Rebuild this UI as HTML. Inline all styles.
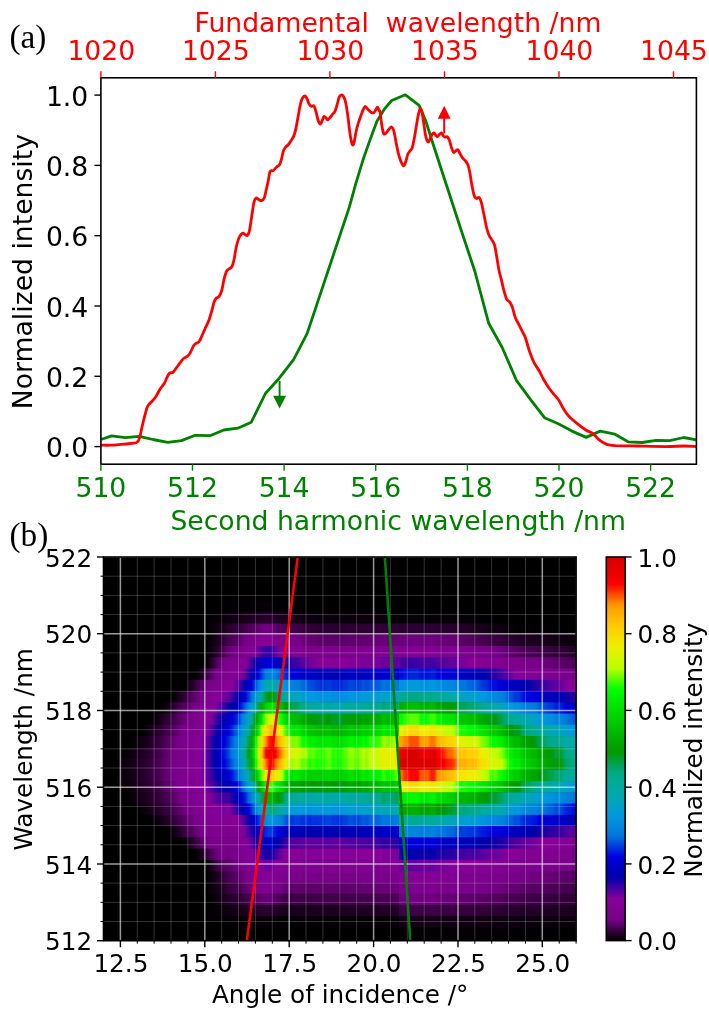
<!DOCTYPE html>
<html lang="en"><head><meta charset="utf-8"><title>Figure</title>
<style>html,body{margin:0;padding:0;background:#fff}body{width:709px;height:1010px;overflow:hidden}svg{display:block}</style>
</head><body>
<svg width="709" height="1010" viewBox="0 0 709 1010" font-family="'DejaVu Sans', 'Liberation Sans', sans-serif">
<rect x="0" y="0" width="709" height="1010" fill="#fff"/>
<defs><clipPath id="c1"><rect x="100.9" y="77.8" width="595.5" height="386.4"/></clipPath></defs>
<g clip-path="url(#c1)" fill="none" stroke-linejoin="round" stroke-linecap="butt">
<path d="M101.1 439.5 L111.6 435.9 L125.4 437.6 L139.1 436.4 L152.9 439.5 L167.7 442.3 L181.5 440.6 L195.2 435.3 L210.0 435.7 L223.8 430.0 L237.8 428.2 L251.3 422.2 L265.4 393.5 L279.2 378.2 L293.6 359.6 L307.2 333.4 L349.4 206.9 L355.8 183.7 L363.2 159.3 L369.5 141.4 L376.9 121.3 L384.3 109.2 L391.7 100.5 L405.4 94.8 L419.1 105.4 L425.5 120.2 L432.9 143.5 L461.2 230.2 L474.9 271.5 L488.7 323.3 L502.2 347.5 L516.4 380.3 L530.4 399.3 L544.5 417.7 L558.3 423.7 L572.0 431.1 L586.2 437.4 L600.2 431.1 L613.7 433.8 L614.6 434.0 L628.0 441.8 L642.1 442.5 L656.2 440.4 L669.6 440.6 L683.8 437.5 L696.4 439.9" stroke="#008000" stroke-width="2.8"/>
<path d="M101.1 445.2 C102.7 445.2 107.2 445.3 110.6 445.2 C113.9 445.1 117.7 444.7 121.2 444.4 C124.7 444.1 129.2 443.6 131.7 443.3 C134.2 443.0 134.9 443.1 136.0 442.7 C137.1 442.2 137.8 441.8 138.5 440.6 C139.2 439.4 139.6 437.8 140.2 435.3 C140.8 432.8 141.5 429.2 142.3 425.8 C143.1 422.4 144.1 418.2 144.9 415.2 C145.7 412.2 146.3 409.6 147.0 407.8 C147.7 406.0 148.3 405.2 149.1 404.2 C149.9 403.1 150.8 402.7 151.8 401.5 C152.9 400.3 154.0 399.3 155.4 397.2 C156.8 395.1 158.8 391.2 160.3 388.8 C161.8 386.4 163.4 384.8 164.5 383.0 C165.6 381.2 165.8 379.8 166.6 378.2 C167.4 376.6 168.3 374.3 169.4 373.3 C170.5 372.3 171.9 373.2 173.0 372.3 C174.1 371.4 175.0 369.8 176.2 368.2 C177.4 366.6 178.8 364.5 180.0 362.9 C181.2 361.3 182.4 359.6 183.6 358.5 C184.8 357.4 186.1 357.2 187.2 356.4 C188.2 355.5 188.8 355.3 189.9 353.4 C191.1 351.5 192.7 346.9 194.1 345.0 C195.5 343.1 197.3 343.2 198.4 342.2 C199.5 341.2 199.4 341.1 200.5 339.0 C201.6 336.9 203.3 332.7 204.7 329.5 C206.1 326.3 207.8 323.1 209.0 320.0 C210.2 316.9 210.9 314.1 211.7 311.2 C212.5 308.3 213.2 304.8 213.9 302.7 C214.6 300.6 215.1 299.6 216.0 298.5 C216.9 297.4 218.1 297.8 219.1 296.4 C220.1 295.0 221.1 292.8 221.9 290.0 C222.7 287.2 223.2 282.5 224.0 279.4 C224.8 276.3 225.7 273.1 226.5 271.4 C227.3 269.6 228.2 269.7 229.1 268.9 C230.0 268.1 231.0 268.1 231.8 266.7 C232.6 265.3 233.2 263.6 233.9 260.4 C234.6 257.2 235.3 251.4 236.1 247.7 C236.9 244.0 237.8 240.6 238.8 238.2 C239.9 235.8 241.3 233.9 242.4 233.3 C243.5 232.7 244.4 234.2 245.2 234.6 C246.0 234.9 246.6 236.0 247.3 235.4 C248.0 234.8 248.7 233.7 249.4 230.8 C250.1 227.9 250.7 222.9 251.5 218.1 C252.3 213.3 253.2 205.5 254.0 202.2 C254.8 198.8 255.4 198.4 256.2 198.0 C257.0 197.6 257.8 199.1 258.7 199.5 C259.6 199.9 260.6 200.9 261.5 200.7 C262.4 200.4 263.4 199.9 264.2 198.0 C265.0 196.1 265.6 192.5 266.3 189.5 C267.0 186.5 267.8 183.0 268.4 180.0 C269.0 177.0 269.3 173.0 270.1 171.4 C270.9 169.8 272.2 171.3 273.3 170.6 C274.4 169.9 275.3 168.2 276.4 167.2 C277.4 166.2 278.7 166.1 279.6 164.6 C280.5 163.1 281.1 160.6 281.7 158.3 C282.3 156.0 282.8 152.7 283.4 150.9 C284.0 149.1 284.6 148.4 285.5 147.3 C286.4 146.2 287.5 145.7 288.5 144.5 C289.5 143.3 290.4 141.8 291.3 140.3 C292.2 138.8 293.2 137.5 294.0 135.4 C294.8 133.3 295.4 130.8 296.1 127.6 C296.8 124.4 297.5 119.9 298.2 116.0 C298.9 112.1 299.7 107.3 300.4 104.3 C301.1 101.3 301.7 99.4 302.5 98.0 C303.3 96.6 304.2 95.7 305.0 95.9 C305.8 96.1 306.4 97.6 307.1 99.0 C307.8 100.4 308.5 103.1 309.2 104.3 C309.9 105.5 310.6 106.2 311.4 106.4 C312.2 106.7 313.1 104.9 313.9 105.8 C314.7 106.7 315.3 109.3 316.0 111.7 C316.7 114.1 317.4 118.2 318.1 120.2 C318.8 122.2 319.5 124.0 320.2 124.0 C320.9 124.0 321.8 121.5 322.4 120.2 C323.0 118.9 323.4 116.8 324.0 116.4 C324.6 116.1 325.6 117.5 326.2 118.1 C326.8 118.7 327.3 119.9 327.9 119.8 C328.5 119.7 329.2 118.6 330.0 117.7 C330.8 116.8 331.7 115.4 332.5 114.3 C333.3 113.2 334.2 113.0 335.0 111.3 C335.8 109.6 336.5 106.7 337.2 104.3 C337.9 101.9 338.6 98.5 339.3 96.9 C340.0 95.3 340.7 94.9 341.4 94.8 C342.1 94.7 342.8 95.3 343.5 96.5 C344.2 97.7 344.9 99.1 345.6 102.2 C346.3 105.3 347.0 109.8 347.7 114.9 C348.4 120.0 349.2 128.3 349.9 132.9 C350.5 137.5 351.1 140.4 351.6 142.4 C352.1 144.4 352.4 145.2 352.8 145.2 C353.2 145.2 353.6 144.4 354.1 142.4 C354.6 140.4 355.2 135.9 355.8 132.9 C356.4 129.9 357.1 127.1 357.9 124.4 C358.7 121.8 359.5 119.5 360.4 117.0 C361.3 114.5 362.4 111.4 363.2 109.6 C364.0 107.8 364.5 106.4 365.3 106.4 C366.1 106.4 367.2 108.6 368.1 109.6 C369.1 110.6 370.1 111.7 371.0 112.2 C371.9 112.7 373.0 113.2 373.8 112.8 C374.6 112.4 375.3 110.5 375.9 109.6 C376.5 108.6 377.1 106.9 377.6 107.1 C378.1 107.3 378.7 109.9 379.1 110.7 C379.5 111.5 379.6 109.4 380.0 111.7 C380.4 114.0 381.1 120.9 381.7 124.4 C382.3 127.9 382.8 131.3 383.4 132.9 C384.0 134.5 384.4 134.4 385.3 133.9 C386.2 133.4 387.4 130.8 388.5 129.7 C389.6 128.5 390.7 126.8 391.6 127.0 C392.5 127.2 393.1 128.4 393.8 130.8 C394.5 133.2 395.2 137.9 395.9 141.4 C396.6 144.9 397.3 148.9 398.0 151.9 C398.7 154.9 399.4 157.2 400.1 159.3 C400.8 161.4 401.6 163.1 402.2 164.2 C402.8 165.3 403.3 166.1 403.9 165.7 C404.5 165.2 405.1 163.4 405.8 161.5 C406.5 159.6 407.2 155.8 407.9 154.0 C408.6 152.2 409.3 152.0 410.0 150.9 C410.7 149.8 411.5 149.8 412.2 147.7 C412.9 145.6 413.6 141.9 414.3 138.2 C415.0 134.5 415.7 129.6 416.4 125.5 C417.1 121.5 417.9 116.7 418.5 113.9 C419.1 111.1 419.6 109.0 420.2 108.6 C420.8 108.2 421.3 109.4 421.9 111.7 C422.5 114.0 423.0 118.6 423.6 122.3 C424.2 126.0 424.7 130.9 425.3 133.9 C425.9 136.9 426.4 139.0 427.0 140.3 C427.6 141.6 428.1 142.2 428.7 141.8 C429.3 141.5 429.8 139.4 430.4 138.2 C430.9 137.0 431.4 135.5 432.0 134.6 C432.6 133.7 433.2 132.8 433.9 132.9 C434.5 133.0 435.3 134.8 435.9 135.4 C436.5 136.0 436.9 136.8 437.5 136.7 C438.1 136.6 438.6 135.2 439.2 134.6 C439.8 134.0 440.8 132.8 441.4 132.9 C442.0 133.0 442.4 134.7 443.0 135.4 C443.6 136.1 444.0 136.9 444.7 137.1 C445.4 137.3 446.5 136.2 447.3 136.7 C448.1 137.2 448.7 138.5 449.4 140.3 C450.1 142.1 450.8 145.7 451.5 147.7 C452.2 149.7 452.9 151.9 453.6 152.4 C454.3 152.9 455.0 151.3 455.7 150.9 C456.4 150.5 457.2 149.4 457.9 149.8 C458.6 150.2 459.2 152.2 460.0 153.6 C460.8 154.9 461.7 156.8 462.5 157.9 C463.3 159.0 464.1 159.3 465.0 160.4 C465.9 161.5 467.0 162.5 467.8 164.6 C468.6 166.7 469.2 169.6 469.9 173.1 C470.6 176.6 471.3 182.1 472.0 185.8 C472.7 189.5 473.4 193.2 474.1 195.3 C474.8 197.4 475.5 198.2 476.3 198.5 C477.1 198.8 478.2 196.9 479.0 197.4 C479.8 197.9 480.3 199.0 481.1 201.7 C481.9 204.3 482.9 209.6 483.7 213.3 C484.5 217.0 485.2 221.3 485.8 223.9 C486.4 226.5 486.4 227.2 487.0 229.1 C487.6 231.0 488.3 233.7 489.1 235.5 C489.9 237.3 490.9 238.0 491.8 239.7 C492.7 241.3 493.8 242.6 494.6 245.4 C495.4 248.2 496.0 252.6 496.7 256.6 C497.4 260.6 498.0 265.4 498.8 269.3 C499.6 273.2 500.5 276.4 501.4 279.9 C502.2 283.4 503.0 287.3 503.9 290.5 C504.8 293.7 505.6 297.1 506.6 299.0 C507.6 300.9 508.8 300.7 509.8 302.1 C510.8 303.5 511.5 304.9 512.4 307.4 C513.3 309.9 514.0 313.9 515.1 316.9 C516.2 319.9 517.9 322.6 519.3 325.4 C520.7 328.2 522.6 331.8 523.6 333.9 C524.6 336.0 524.5 335.0 525.5 338.0 C526.5 341.0 528.3 347.6 529.7 351.7 C531.1 355.8 532.3 359.1 533.9 362.3 C535.5 365.5 537.6 368.0 539.2 370.8 C540.8 373.6 541.9 376.4 543.5 379.2 C545.1 382.0 547.0 385.1 548.8 387.7 C550.5 390.2 552.4 392.4 554.0 394.5 C555.6 396.6 557.1 397.6 558.7 400.0 C560.3 402.4 561.9 406.2 563.6 408.9 C565.3 411.6 566.6 413.8 568.9 416.3 C571.2 418.8 574.5 421.4 577.3 423.7 C580.1 426.0 583.1 428.3 585.8 430.0 C588.4 431.7 590.9 432.1 593.2 433.8 C595.5 435.5 597.2 438.4 599.5 440.2 C601.8 442.0 604.2 443.5 606.9 444.4 C609.5 445.3 611.5 445.4 615.4 445.7 C619.2 445.9 626.4 445.8 630.0 445.9 C633.6 445.9 631.3 445.9 637.2 446.0 C643.1 446.1 657.6 446.6 665.4 446.6 C673.2 446.6 678.6 446.0 683.8 446.0 C689.0 446.0 694.3 446.5 696.4 446.6" stroke="#ff0000" stroke-width="2.8"/>
</g>
<g>
<path d="M444.2 133.4 L444.2 118" stroke="#ff0000" stroke-width="2.0" fill="none"/>
<path d="M437.8 118.8 L450.6 118.8 L444.2 105.8 Z" fill="#ff0000"/>
<path d="M279.6 380.8 L279.6 397" stroke="#008000" stroke-width="1.9" fill="none"/>
<path d="M273.1 395.8 L286.1 395.8 L279.6 408.5 Z" fill="#008000"/>
</g>
<rect x="100.9" y="77.8" width="595.5" height="386.4" fill="none" stroke="#000" stroke-width="1.6"/>
<line x1="100.9" y1="77.8" x2="100.9" y2="71.3" stroke="#ff0000" stroke-width="1.4"/>
<text x="101.3" y="59.7" font-size="26.67" fill="#ff0000" text-anchor="middle">1020</text>
<line x1="215.4" y1="77.8" x2="215.4" y2="71.3" stroke="#ff0000" stroke-width="1.4"/>
<text x="215.8" y="59.7" font-size="26.67" fill="#ff0000" text-anchor="middle">1025</text>
<line x1="329.9" y1="77.8" x2="329.9" y2="71.3" stroke="#ff0000" stroke-width="1.4"/>
<text x="330.3" y="59.7" font-size="26.67" fill="#ff0000" text-anchor="middle">1030</text>
<line x1="444.5" y1="77.8" x2="444.5" y2="71.3" stroke="#ff0000" stroke-width="1.4"/>
<text x="444.9" y="59.7" font-size="26.67" fill="#ff0000" text-anchor="middle">1035</text>
<line x1="559.0" y1="77.8" x2="559.0" y2="71.3" stroke="#ff0000" stroke-width="1.4"/>
<text x="559.4" y="59.7" font-size="26.67" fill="#ff0000" text-anchor="middle">1040</text>
<line x1="673.5" y1="77.8" x2="673.5" y2="71.3" stroke="#ff0000" stroke-width="1.4"/>
<text x="673.9" y="59.7" font-size="26.67" fill="#ff0000" text-anchor="middle">1045</text>
<line x1="100.9" y1="464.2" x2="100.9" y2="470.7" stroke="#008000" stroke-width="1.4"/>
<text x="100.9" y="496.6" font-size="26.67" fill="#008000" text-anchor="middle">510</text>
<line x1="192.5" y1="464.2" x2="192.5" y2="470.7" stroke="#008000" stroke-width="1.4"/>
<text x="192.5" y="496.6" font-size="26.67" fill="#008000" text-anchor="middle">512</text>
<line x1="284.1" y1="464.2" x2="284.1" y2="470.7" stroke="#008000" stroke-width="1.4"/>
<text x="284.1" y="496.6" font-size="26.67" fill="#008000" text-anchor="middle">514</text>
<line x1="375.7" y1="464.2" x2="375.7" y2="470.7" stroke="#008000" stroke-width="1.4"/>
<text x="375.7" y="496.6" font-size="26.67" fill="#008000" text-anchor="middle">516</text>
<line x1="467.4" y1="464.2" x2="467.4" y2="470.7" stroke="#008000" stroke-width="1.4"/>
<text x="467.4" y="496.6" font-size="26.67" fill="#008000" text-anchor="middle">518</text>
<line x1="559.0" y1="464.2" x2="559.0" y2="470.7" stroke="#008000" stroke-width="1.4"/>
<text x="559.0" y="496.6" font-size="26.67" fill="#008000" text-anchor="middle">520</text>
<line x1="650.6" y1="464.2" x2="650.6" y2="470.7" stroke="#008000" stroke-width="1.4"/>
<text x="650.6" y="496.6" font-size="26.67" fill="#008000" text-anchor="middle">522</text>
<line x1="100.9" y1="446.6" x2="94.4" y2="446.6" stroke="#000" stroke-width="1.4"/>
<text x="88.3" y="457.2" font-size="26.67" fill="#000" text-anchor="end">0.0</text>
<line x1="100.9" y1="376.3" x2="94.4" y2="376.3" stroke="#000" stroke-width="1.4"/>
<text x="88.3" y="386.9" font-size="26.67" fill="#000" text-anchor="end">0.2</text>
<line x1="100.9" y1="306.0" x2="94.4" y2="306.0" stroke="#000" stroke-width="1.4"/>
<text x="88.3" y="316.6" font-size="26.67" fill="#000" text-anchor="end">0.4</text>
<line x1="100.9" y1="235.7" x2="94.4" y2="235.7" stroke="#000" stroke-width="1.4"/>
<text x="88.3" y="246.3" font-size="26.67" fill="#000" text-anchor="end">0.6</text>
<line x1="100.9" y1="165.4" x2="94.4" y2="165.4" stroke="#000" stroke-width="1.4"/>
<text x="88.3" y="176.0" font-size="26.67" fill="#000" text-anchor="end">0.8</text>
<line x1="100.9" y1="95.1" x2="94.4" y2="95.1" stroke="#000" stroke-width="1.4"/>
<text x="88.3" y="105.7" font-size="26.67" fill="#000" text-anchor="end">1.0</text>
<text x="398" y="31.7" font-size="26.67" fill="#ff0000" text-anchor="middle" xml:space="preserve" style="white-space:pre">Fundamental  wavelength /nm</text>
<text x="398.2" y="529.6" font-size="26.67" fill="#008000" text-anchor="middle">Second harmonic wavelength /nm</text>
<text transform="translate(32.0,271.6) rotate(-90)" font-size="26.67" fill="#000" text-anchor="middle">Normalized intensity</text>
<text x="9.5" y="48.0" font-size="33.3" font-family="'Liberation Serif', 'DejaVu Serif', serif" fill="#000">(a)</text>
<text x="9.5" y="545.5" font-size="33.3" font-family="'Liberation Serif', 'DejaVu Serif', serif" fill="#000">(b)</text>
<defs>
<clipPath id="c2"><rect x="103.5" y="557.0" width="472.6" height="383.70000000000005"/></clipPath>
<linearGradient id="r4" gradientUnits="userSpaceOnUse" x1="103.5" x2="576.1" y1="0" y2="0"><stop offset="0.0000" stop-color="#000"/><stop offset="0.2286" stop-color="#000"/><stop offset="0.2357" stop-color="#000001"/><stop offset="0.2429" stop-color="#010001"/><stop offset="0.2571" stop-color="#010001"/><stop offset="0.2643" stop-color="#020002"/><stop offset="0.2857" stop-color="#020002"/><stop offset="0.2929" stop-color="#020003"/><stop offset="0.3000" stop-color="#030003"/><stop offset="0.3071" stop-color="#030003"/><stop offset="0.3143" stop-color="#030004"/><stop offset="0.3214" stop-color="#040004"/><stop offset="0.3286" stop-color="#040004"/><stop offset="0.3357" stop-color="#040005"/><stop offset="0.3571" stop-color="#040005"/><stop offset="0.3643" stop-color="#040004"/><stop offset="0.3714" stop-color="#030004"/><stop offset="0.3786" stop-color="#030003"/><stop offset="0.3857" stop-color="#030003"/><stop offset="0.3929" stop-color="#020003"/><stop offset="0.4000" stop-color="#020002"/><stop offset="0.4143" stop-color="#020002"/><stop offset="0.4214" stop-color="#010002"/><stop offset="0.4286" stop-color="#010001"/><stop offset="0.4429" stop-color="#010001"/><stop offset="0.4500" stop-color="#000"/><stop offset="1.0000" stop-color="#000"/></linearGradient>
<linearGradient id="r5" gradientUnits="userSpaceOnUse" x1="103.5" x2="576.1" y1="0" y2="0"><stop offset="0.0000" stop-color="#000"/><stop offset="0.2143" stop-color="#000"/><stop offset="0.2214" stop-color="#010001"/><stop offset="0.2286" stop-color="#020003"/><stop offset="0.2357" stop-color="#040004"/><stop offset="0.2429" stop-color="#060006"/><stop offset="0.2500" stop-color="#080009"/><stop offset="0.2571" stop-color="#0a000c"/><stop offset="0.2643" stop-color="#0d000f"/><stop offset="0.2714" stop-color="#0e0010"/><stop offset="0.2786" stop-color="#100012"/><stop offset="0.2857" stop-color="#110014"/><stop offset="0.2929" stop-color="#140016"/><stop offset="0.3000" stop-color="#160019"/><stop offset="0.3071" stop-color="#19001d"/><stop offset="0.3143" stop-color="#1b001f"/><stop offset="0.3214" stop-color="#1f0023"/><stop offset="0.3286" stop-color="#210026"/><stop offset="0.3357" stop-color="#240029"/><stop offset="0.3429" stop-color="#25002a"/><stop offset="0.3500" stop-color="#25002a"/><stop offset="0.3571" stop-color="#230028"/><stop offset="0.3643" stop-color="#1f0023"/><stop offset="0.3714" stop-color="#1b001f"/><stop offset="0.3786" stop-color="#18001c"/><stop offset="0.3857" stop-color="#16001a"/><stop offset="0.3929" stop-color="#160019"/><stop offset="0.4000" stop-color="#130016"/><stop offset="0.4071" stop-color="#130015"/><stop offset="0.4143" stop-color="#110013"/><stop offset="0.4214" stop-color="#0f0012"/><stop offset="0.4286" stop-color="#0e0010"/><stop offset="0.4357" stop-color="#0d000e"/><stop offset="0.4429" stop-color="#0c000d"/><stop offset="0.4500" stop-color="#0a000c"/><stop offset="0.4571" stop-color="#09000b"/><stop offset="0.4643" stop-color="#080009"/><stop offset="0.4714" stop-color="#08000a"/><stop offset="0.4786" stop-color="#08000a"/><stop offset="0.4857" stop-color="#080009"/><stop offset="0.5000" stop-color="#080009"/><stop offset="0.5071" stop-color="#08000a"/><stop offset="0.5143" stop-color="#08000a"/><stop offset="0.5214" stop-color="#09000a"/><stop offset="0.5286" stop-color="#09000a"/><stop offset="0.5357" stop-color="#08000a"/><stop offset="0.5429" stop-color="#09000a"/><stop offset="0.5857" stop-color="#09000a"/><stop offset="0.5929" stop-color="#0a000b"/><stop offset="0.6000" stop-color="#09000b"/><stop offset="0.6143" stop-color="#09000b"/><stop offset="0.6214" stop-color="#0a000b"/><stop offset="0.6250" stop-color="#09000b"/><stop offset="0.6264" stop-color="#060007"/><stop offset="0.7357" stop-color="#060007"/><stop offset="0.7429" stop-color="#060006"/><stop offset="0.7500" stop-color="#050006"/><stop offset="0.7571" stop-color="#050006"/><stop offset="0.7643" stop-color="#050005"/><stop offset="0.7714" stop-color="#040005"/><stop offset="0.7786" stop-color="#040004"/><stop offset="0.7857" stop-color="#030004"/><stop offset="0.7929" stop-color="#030003"/><stop offset="0.8000" stop-color="#030003"/><stop offset="0.8071" stop-color="#020003"/><stop offset="0.8143" stop-color="#020002"/><stop offset="0.8214" stop-color="#010002"/><stop offset="0.8286" stop-color="#010001"/><stop offset="0.8357" stop-color="#010001"/><stop offset="0.8429" stop-color="#000"/><stop offset="1.0000" stop-color="#000"/></linearGradient>
<linearGradient id="r6" gradientUnits="userSpaceOnUse" x1="103.5" x2="576.1" y1="0" y2="0"><stop offset="0.0000" stop-color="#000"/><stop offset="0.2143" stop-color="#000"/><stop offset="0.2214" stop-color="#030003"/><stop offset="0.2286" stop-color="#070008"/><stop offset="0.2357" stop-color="#0b000d"/><stop offset="0.2429" stop-color="#110013"/><stop offset="0.2500" stop-color="#17001a"/><stop offset="0.2571" stop-color="#1e0023"/><stop offset="0.2643" stop-color="#27002c"/><stop offset="0.2714" stop-color="#2a0030"/><stop offset="0.2786" stop-color="#2f0035"/><stop offset="0.2857" stop-color="#33003a"/><stop offset="0.2929" stop-color="#3a0042"/><stop offset="0.3000" stop-color="#41004a"/><stop offset="0.3071" stop-color="#4b0055"/><stop offset="0.3143" stop-color="#51005d"/><stop offset="0.3214" stop-color="#5b0068"/><stop offset="0.3286" stop-color="#630071"/><stop offset="0.3357" stop-color="#6a0079"/><stop offset="0.3429" stop-color="#6f007f"/><stop offset="0.3500" stop-color="#6e007e"/><stop offset="0.3571" stop-color="#6b007a"/><stop offset="0.3643" stop-color="#5e006b"/><stop offset="0.3714" stop-color="#540060"/><stop offset="0.3786" stop-color="#4a0055"/><stop offset="0.3857" stop-color="#45004f"/><stop offset="0.3929" stop-color="#43004c"/><stop offset="0.4000" stop-color="#3d0046"/><stop offset="0.4071" stop-color="#3d0045"/><stop offset="0.4143" stop-color="#3a0042"/><stop offset="0.4214" stop-color="#36003d"/><stop offset="0.4286" stop-color="#34003c"/><stop offset="0.4357" stop-color="#300037"/><stop offset="0.4429" stop-color="#2f0036"/><stop offset="0.4500" stop-color="#2d0033"/><stop offset="0.4571" stop-color="#2b0031"/><stop offset="0.4643" stop-color="#29002f"/><stop offset="0.4714" stop-color="#2a0030"/><stop offset="0.4786" stop-color="#2a0030"/><stop offset="0.4857" stop-color="#29002f"/><stop offset="0.4929" stop-color="#29002f"/><stop offset="0.5000" stop-color="#28002d"/><stop offset="0.5071" stop-color="#29002f"/><stop offset="0.5143" stop-color="#2a0030"/><stop offset="0.5214" stop-color="#2b0031"/><stop offset="0.5286" stop-color="#2b0031"/><stop offset="0.5357" stop-color="#2a0030"/><stop offset="0.5429" stop-color="#2b0031"/><stop offset="0.5500" stop-color="#2c0032"/><stop offset="0.5571" stop-color="#2b0031"/><stop offset="0.5643" stop-color="#2d0033"/><stop offset="0.5714" stop-color="#2c0033"/><stop offset="0.5786" stop-color="#2d0033"/><stop offset="0.5857" stop-color="#2d0033"/><stop offset="0.5929" stop-color="#2f0036"/><stop offset="0.6000" stop-color="#2e0035"/><stop offset="0.6071" stop-color="#2e0035"/><stop offset="0.6143" stop-color="#2f0035"/><stop offset="0.6214" stop-color="#300037"/><stop offset="0.6250" stop-color="#2e0034"/><stop offset="0.6264" stop-color="#2a0030"/><stop offset="0.6321" stop-color="#2a0030"/><stop offset="0.6357" stop-color="#2b0031"/><stop offset="0.6429" stop-color="#2b0031"/><stop offset="0.6500" stop-color="#2c0032"/><stop offset="0.6643" stop-color="#2c0032"/><stop offset="0.6714" stop-color="#2a0030"/><stop offset="0.6857" stop-color="#2a0030"/><stop offset="0.6929" stop-color="#2b0031"/><stop offset="0.7000" stop-color="#2b0031"/><stop offset="0.7071" stop-color="#29002f"/><stop offset="0.7143" stop-color="#29002f"/><stop offset="0.7214" stop-color="#28002e"/><stop offset="0.7286" stop-color="#27002d"/><stop offset="0.7357" stop-color="#27002d"/><stop offset="0.7429" stop-color="#27002c"/><stop offset="0.7500" stop-color="#25002a"/><stop offset="0.7571" stop-color="#230027"/><stop offset="0.7643" stop-color="#210026"/><stop offset="0.7714" stop-color="#1f0024"/><stop offset="0.7786" stop-color="#1d0022"/><stop offset="0.7857" stop-color="#1c0020"/><stop offset="0.7929" stop-color="#1a001d"/><stop offset="0.8000" stop-color="#17001b"/><stop offset="0.8071" stop-color="#160019"/><stop offset="0.8143" stop-color="#140016"/><stop offset="0.8214" stop-color="#110014"/><stop offset="0.8286" stop-color="#100012"/><stop offset="0.8357" stop-color="#0e0010"/><stop offset="0.8429" stop-color="#0c000e"/><stop offset="0.8500" stop-color="#0b000c"/><stop offset="0.8571" stop-color="#09000a"/><stop offset="0.8643" stop-color="#070008"/><stop offset="0.8714" stop-color="#060006"/><stop offset="0.8786" stop-color="#050006"/><stop offset="0.8857" stop-color="#050005"/><stop offset="0.8929" stop-color="#040005"/><stop offset="0.9000" stop-color="#040005"/><stop offset="0.9071" stop-color="#040004"/><stop offset="0.9143" stop-color="#030004"/><stop offset="0.9214" stop-color="#030003"/><stop offset="0.9286" stop-color="#030003"/><stop offset="0.9357" stop-color="#020003"/><stop offset="0.9429" stop-color="#020002"/><stop offset="0.9571" stop-color="#020002"/><stop offset="0.9643" stop-color="#010002"/><stop offset="0.9714" stop-color="#010001"/><stop offset="0.9857" stop-color="#010001"/><stop offset="0.9929" stop-color="#000"/><stop offset="1.0000" stop-color="#000"/></linearGradient>
<linearGradient id="r7" gradientUnits="userSpaceOnUse" x1="103.5" x2="576.1" y1="0" y2="0"><stop offset="0.0000" stop-color="#000"/><stop offset="0.2143" stop-color="#000"/><stop offset="0.2214" stop-color="#050006"/><stop offset="0.2286" stop-color="#0c000e"/><stop offset="0.2357" stop-color="#140017"/><stop offset="0.2429" stop-color="#1e0023"/><stop offset="0.2500" stop-color="#2a0030"/><stop offset="0.2571" stop-color="#37003f"/><stop offset="0.2643" stop-color="#460050"/><stop offset="0.2714" stop-color="#4c0057"/><stop offset="0.2786" stop-color="#540060"/><stop offset="0.2857" stop-color="#5c0069"/><stop offset="0.2929" stop-color="#680077"/><stop offset="0.3000" stop-color="#750086"/><stop offset="0.3071" stop-color="#79008a"/><stop offset="0.3143" stop-color="#7b008c"/><stop offset="0.3214" stop-color="#7e008f"/><stop offset="0.3286" stop-color="#800091"/><stop offset="0.3357" stop-color="#820093"/><stop offset="0.3429" stop-color="#830094"/><stop offset="0.3571" stop-color="#830094"/><stop offset="0.3643" stop-color="#7f0090"/><stop offset="0.3714" stop-color="#7d008e"/><stop offset="0.3786" stop-color="#7a008b"/><stop offset="0.3857" stop-color="#79008a"/><stop offset="0.3929" stop-color="#780089"/><stop offset="0.4000" stop-color="#708"/><stop offset="0.4071" stop-color="#708"/><stop offset="0.4143" stop-color="#730083"/><stop offset="0.4214" stop-color="#6d007c"/><stop offset="0.4286" stop-color="#6b007b"/><stop offset="0.4357" stop-color="#650073"/><stop offset="0.4429" stop-color="#640072"/><stop offset="0.4500" stop-color="#60006e"/><stop offset="0.4571" stop-color="#5e006b"/><stop offset="0.4643" stop-color="#5b0068"/><stop offset="0.4714" stop-color="#5d006a"/><stop offset="0.4786" stop-color="#5e006b"/><stop offset="0.4857" stop-color="#5b0068"/><stop offset="0.4929" stop-color="#5c0069"/><stop offset="0.5000" stop-color="#580065"/><stop offset="0.5071" stop-color="#5d006a"/><stop offset="0.5143" stop-color="#5d006a"/><stop offset="0.5214" stop-color="#60006d"/><stop offset="0.5286" stop-color="#5f006d"/><stop offset="0.5357" stop-color="#5d006a"/><stop offset="0.5429" stop-color="#5f006d"/><stop offset="0.5500" stop-color="#620070"/><stop offset="0.5571" stop-color="#60006d"/><stop offset="0.5643" stop-color="#630072"/><stop offset="0.5714" stop-color="#630071"/><stop offset="0.5786" stop-color="#640072"/><stop offset="0.5857" stop-color="#640073"/><stop offset="0.5929" stop-color="#6a0079"/><stop offset="0.6000" stop-color="#670076"/><stop offset="0.6071" stop-color="#680076"/><stop offset="0.6143" stop-color="#680077"/><stop offset="0.6214" stop-color="#6c007b"/><stop offset="0.6250" stop-color="#670075"/><stop offset="0.6264" stop-color="#6c007b"/><stop offset="0.6321" stop-color="#6c007b"/><stop offset="0.6357" stop-color="#6e007e"/><stop offset="0.6429" stop-color="#6f007e"/><stop offset="0.6500" stop-color="#710081"/><stop offset="0.6571" stop-color="#700080"/><stop offset="0.6643" stop-color="#710081"/><stop offset="0.6714" stop-color="#6c007c"/><stop offset="0.6786" stop-color="#6d007c"/><stop offset="0.6857" stop-color="#6c007b"/><stop offset="0.6929" stop-color="#6f007f"/><stop offset="0.7000" stop-color="#6f007f"/><stop offset="0.7071" stop-color="#690078"/><stop offset="0.7143" stop-color="#690078"/><stop offset="0.7214" stop-color="#670076"/><stop offset="0.7286" stop-color="#650074"/><stop offset="0.7357" stop-color="#650073"/><stop offset="0.7429" stop-color="#640072"/><stop offset="0.7500" stop-color="#60006d"/><stop offset="0.7571" stop-color="#5b0067"/><stop offset="0.7643" stop-color="#590066"/><stop offset="0.7714" stop-color="#550062"/><stop offset="0.7786" stop-color="#53005f"/><stop offset="0.7857" stop-color="#51005d"/><stop offset="0.7929" stop-color="#4c0057"/><stop offset="0.8000" stop-color="#480052"/><stop offset="0.8071" stop-color="#45004e"/><stop offset="0.8143" stop-color="#41004b"/><stop offset="0.8214" stop-color="#3c0044"/><stop offset="0.8286" stop-color="#3b0044"/><stop offset="0.8357" stop-color="#37003f"/><stop offset="0.8429" stop-color="#34003b"/><stop offset="0.8500" stop-color="#300037"/><stop offset="0.8571" stop-color="#2c0032"/><stop offset="0.8643" stop-color="#29002f"/><stop offset="0.8714" stop-color="#26002b"/><stop offset="0.8786" stop-color="#240029"/><stop offset="0.8857" stop-color="#200025"/><stop offset="0.8929" stop-color="#1f0023"/><stop offset="0.9000" stop-color="#1d0021"/><stop offset="0.9071" stop-color="#1b001f"/><stop offset="0.9143" stop-color="#1a001e"/><stop offset="0.9214" stop-color="#18001b"/><stop offset="0.9286" stop-color="#160019"/><stop offset="0.9357" stop-color="#150018"/><stop offset="0.9429" stop-color="#130016"/><stop offset="0.9500" stop-color="#120015"/><stop offset="0.9571" stop-color="#100013"/><stop offset="0.9643" stop-color="#100012"/><stop offset="0.9714" stop-color="#0e0010"/><stop offset="0.9786" stop-color="#0c000e"/><stop offset="0.9857" stop-color="#0b000d"/><stop offset="0.9929" stop-color="#0a000c"/><stop offset="1.0000" stop-color="#09000a"/></linearGradient>
<linearGradient id="r8" gradientUnits="userSpaceOnUse" x1="103.5" x2="576.1" y1="0" y2="0"><stop offset="0.0000" stop-color="#000"/><stop offset="0.2143" stop-color="#000"/><stop offset="0.2214" stop-color="#080009"/><stop offset="0.2286" stop-color="#110014"/><stop offset="0.2357" stop-color="#1e0022"/><stop offset="0.2429" stop-color="#2c0032"/><stop offset="0.2500" stop-color="#3f0048"/><stop offset="0.2571" stop-color="#550061"/><stop offset="0.2643" stop-color="#650074"/><stop offset="0.2714" stop-color="#6f007f"/><stop offset="0.2786" stop-color="#780088"/><stop offset="0.2857" stop-color="#79008a"/><stop offset="0.2929" stop-color="#7c008d"/><stop offset="0.3000" stop-color="#7e008f"/><stop offset="0.3071" stop-color="#820093"/><stop offset="0.3143" stop-color="#850096"/><stop offset="0.3214" stop-color="#82009a"/><stop offset="0.3286" stop-color="#65009d"/><stop offset="0.3357" stop-color="#4c00a1"/><stop offset="0.3429" stop-color="#3700a3"/><stop offset="0.3500" stop-color="#3500a3"/><stop offset="0.3571" stop-color="#3b00a3"/><stop offset="0.3643" stop-color="#5f009e"/><stop offset="0.3714" stop-color="#7b009b"/><stop offset="0.3786" stop-color="#860097"/><stop offset="0.3857" stop-color="#840095"/><stop offset="0.3929" stop-color="#830094"/><stop offset="0.4000" stop-color="#810092"/><stop offset="0.4071" stop-color="#810092"/><stop offset="0.4143" stop-color="#800091"/><stop offset="0.4214" stop-color="#7f0090"/><stop offset="0.4286" stop-color="#7f0090"/><stop offset="0.4357" stop-color="#7d008e"/><stop offset="0.4500" stop-color="#7d008e"/><stop offset="0.4571" stop-color="#7c008d"/><stop offset="0.4929" stop-color="#7c008d"/><stop offset="0.5000" stop-color="#7b008c"/><stop offset="0.5071" stop-color="#7c008d"/><stop offset="0.5143" stop-color="#7c008d"/><stop offset="0.5214" stop-color="#7d008e"/><stop offset="0.5286" stop-color="#7d008e"/><stop offset="0.5357" stop-color="#7c008d"/><stop offset="0.5429" stop-color="#7c008d"/><stop offset="0.5500" stop-color="#7d008e"/><stop offset="0.5571" stop-color="#7d008e"/><stop offset="0.5643" stop-color="#7e008f"/><stop offset="0.5714" stop-color="#7d008e"/><stop offset="0.5786" stop-color="#7e008f"/><stop offset="0.5857" stop-color="#7e008f"/><stop offset="0.5929" stop-color="#7f0090"/><stop offset="0.6000" stop-color="#7e008f"/><stop offset="0.6071" stop-color="#7f0090"/><stop offset="0.6214" stop-color="#7f0090"/><stop offset="0.6250" stop-color="#7e008f"/><stop offset="0.6264" stop-color="#810092"/><stop offset="0.6321" stop-color="#810092"/><stop offset="0.6357" stop-color="#820093"/><stop offset="0.6643" stop-color="#820093"/><stop offset="0.6714" stop-color="#810092"/><stop offset="0.6857" stop-color="#810092"/><stop offset="0.6929" stop-color="#820093"/><stop offset="0.7000" stop-color="#820093"/><stop offset="0.7071" stop-color="#810092"/><stop offset="0.7143" stop-color="#800091"/><stop offset="0.7286" stop-color="#800091"/><stop offset="0.7357" stop-color="#7f0090"/><stop offset="0.7429" stop-color="#7f0090"/><stop offset="0.7500" stop-color="#7e008f"/><stop offset="0.7571" stop-color="#7d008e"/><stop offset="0.7643" stop-color="#7d008e"/><stop offset="0.7714" stop-color="#7c008d"/><stop offset="0.7857" stop-color="#7c008d"/><stop offset="0.7929" stop-color="#7b008c"/><stop offset="0.8000" stop-color="#7a008b"/><stop offset="0.8071" stop-color="#79008a"/><stop offset="0.8143" stop-color="#780089"/><stop offset="0.8214" stop-color="#708"/><stop offset="0.8286" stop-color="#708"/><stop offset="0.8357" stop-color="#730083"/><stop offset="0.8429" stop-color="#6e007e"/><stop offset="0.8500" stop-color="#690078"/><stop offset="0.8571" stop-color="#620070"/><stop offset="0.8643" stop-color="#5e006b"/><stop offset="0.8714" stop-color="#580065"/><stop offset="0.8786" stop-color="#570063"/><stop offset="0.8857" stop-color="#50005c"/><stop offset="0.8929" stop-color="#4d0058"/><stop offset="0.9000" stop-color="#4a0055"/><stop offset="0.9071" stop-color="#470051"/><stop offset="0.9143" stop-color="#44004e"/><stop offset="0.9214" stop-color="#400049"/><stop offset="0.9286" stop-color="#3d0046"/><stop offset="0.9357" stop-color="#3b0043"/><stop offset="0.9429" stop-color="#380040"/><stop offset="0.9500" stop-color="#36003e"/><stop offset="0.9571" stop-color="#320039"/><stop offset="0.9643" stop-color="#320039"/><stop offset="0.9714" stop-color="#2f0035"/><stop offset="0.9786" stop-color="#2b0031"/><stop offset="0.9857" stop-color="#29002f"/><stop offset="0.9929" stop-color="#27002c"/><stop offset="1.0000" stop-color="#240029"/></linearGradient>
<linearGradient id="r9" gradientUnits="userSpaceOnUse" x1="103.5" x2="576.1" y1="0" y2="0"><stop offset="0.0000" stop-color="#000"/><stop offset="0.2143" stop-color="#000"/><stop offset="0.2214" stop-color="#0c000e"/><stop offset="0.2286" stop-color="#26002c"/><stop offset="0.2357" stop-color="#41004a"/><stop offset="0.2429" stop-color="#5a0066"/><stop offset="0.2500" stop-color="#70007f"/><stop offset="0.2571" stop-color="#780089"/><stop offset="0.2643" stop-color="#7a008b"/><stop offset="0.2714" stop-color="#7c008d"/><stop offset="0.2786" stop-color="#7e008f"/><stop offset="0.2857" stop-color="#800091"/><stop offset="0.2929" stop-color="#840095"/><stop offset="0.3000" stop-color="#809"/><stop offset="0.3071" stop-color="#61009e"/><stop offset="0.3143" stop-color="#4000a2"/><stop offset="0.3214" stop-color="#0e00a8"/><stop offset="0.3286" stop-color="#0000b6"/><stop offset="0.3357" stop-color="#0000c6"/><stop offset="0.3429" stop-color="#0000d5"/><stop offset="0.3500" stop-color="#0000d9"/><stop offset="0.3571" stop-color="#0000d9"/><stop offset="0.3643" stop-color="#0000c7"/><stop offset="0.3714" stop-color="#0000ba"/><stop offset="0.3786" stop-color="#0000af"/><stop offset="0.3857" stop-color="#1400a8"/><stop offset="0.3929" stop-color="#2000a6"/><stop offset="0.4000" stop-color="#3900a3"/><stop offset="0.4071" stop-color="#3b00a3"/><stop offset="0.4143" stop-color="#4800a1"/><stop offset="0.4214" stop-color="#5a009f"/><stop offset="0.4286" stop-color="#5e009e"/><stop offset="0.4357" stop-color="#72009c"/><stop offset="0.4429" stop-color="#75009b"/><stop offset="0.4500" stop-color="#80009a"/><stop offset="0.4571" stop-color="#870099"/><stop offset="0.4643" stop-color="#870098"/><stop offset="0.4714" stop-color="#809"/><stop offset="0.4786" stop-color="#809"/><stop offset="0.4857" stop-color="#870098"/><stop offset="0.4929" stop-color="#870098"/><stop offset="0.5000" stop-color="#860097"/><stop offset="0.5071" stop-color="#809"/><stop offset="0.5143" stop-color="#809"/><stop offset="0.5214" stop-color="#82009a"/><stop offset="0.5286" stop-color="#83009a"/><stop offset="0.5357" stop-color="#809"/><stop offset="0.5429" stop-color="#84009a"/><stop offset="0.5500" stop-color="#7b009b"/><stop offset="0.5571" stop-color="#82009a"/><stop offset="0.5643" stop-color="#77009b"/><stop offset="0.5714" stop-color="#78009b"/><stop offset="0.5786" stop-color="#76009b"/><stop offset="0.5857" stop-color="#74009c"/><stop offset="0.5929" stop-color="#64009d"/><stop offset="0.6000" stop-color="#6d009c"/><stop offset="0.6071" stop-color="#6b009d"/><stop offset="0.6143" stop-color="#68009d"/><stop offset="0.6214" stop-color="#5f009e"/><stop offset="0.6250" stop-color="#6e009c"/><stop offset="0.6264" stop-color="#4b00a1"/><stop offset="0.6321" stop-color="#4b00a1"/><stop offset="0.6357" stop-color="#4300a2"/><stop offset="0.6429" stop-color="#4100a2"/><stop offset="0.6500" stop-color="#3a00a3"/><stop offset="0.6571" stop-color="#3c00a3"/><stop offset="0.6643" stop-color="#3b00a3"/><stop offset="0.6714" stop-color="#4800a1"/><stop offset="0.6786" stop-color="#4700a1"/><stop offset="0.6857" stop-color="#4a00a1"/><stop offset="0.6929" stop-color="#4000a2"/><stop offset="0.7000" stop-color="#4000a2"/><stop offset="0.7071" stop-color="#5200a0"/><stop offset="0.7143" stop-color="#5300a0"/><stop offset="0.7214" stop-color="#58009f"/><stop offset="0.7286" stop-color="#5e009e"/><stop offset="0.7357" stop-color="#5f009e"/><stop offset="0.7429" stop-color="#63009e"/><stop offset="0.7500" stop-color="#70009c"/><stop offset="0.7571" stop-color="#7b009b"/><stop offset="0.7643" stop-color="#7b009b"/><stop offset="0.7714" stop-color="#83009a"/><stop offset="0.7786" stop-color="#870099"/><stop offset="0.7857" stop-color="#809"/><stop offset="0.7929" stop-color="#860097"/><stop offset="0.8000" stop-color="#850096"/><stop offset="0.8071" stop-color="#840095"/><stop offset="0.8143" stop-color="#840095"/><stop offset="0.8214" stop-color="#820093"/><stop offset="0.8286" stop-color="#820093"/><stop offset="0.8357" stop-color="#810092"/><stop offset="0.8429" stop-color="#800091"/><stop offset="0.8500" stop-color="#7f0090"/><stop offset="0.8571" stop-color="#7d008e"/><stop offset="0.8643" stop-color="#7c008d"/><stop offset="0.8714" stop-color="#7b008c"/><stop offset="0.8786" stop-color="#7b008c"/><stop offset="0.8857" stop-color="#7a008b"/><stop offset="0.8929" stop-color="#79008a"/><stop offset="0.9000" stop-color="#780089"/><stop offset="0.9071" stop-color="#780089"/><stop offset="0.9143" stop-color="#708"/><stop offset="0.9214" stop-color="#730083"/><stop offset="0.9286" stop-color="#6e007e"/><stop offset="0.9357" stop-color="#6b007a"/><stop offset="0.9429" stop-color="#670076"/><stop offset="0.9500" stop-color="#650073"/><stop offset="0.9571" stop-color="#5f006d"/><stop offset="0.9643" stop-color="#60006e"/><stop offset="0.9714" stop-color="#5b0068"/><stop offset="0.9786" stop-color="#550061"/><stop offset="0.9857" stop-color="#52005e"/><stop offset="0.9929" stop-color="#4f005a"/><stop offset="1.0000" stop-color="#4b0056"/></linearGradient>
<linearGradient id="r10" gradientUnits="userSpaceOnUse" x1="103.5" x2="576.1" y1="0" y2="0"><stop offset="0.0000" stop-color="#000"/><stop offset="0.1929" stop-color="#000"/><stop offset="0.2000" stop-color="#0a000b"/><stop offset="0.2071" stop-color="#1a001e"/><stop offset="0.2143" stop-color="#2b0032"/><stop offset="0.2214" stop-color="#44004e"/><stop offset="0.2286" stop-color="#5c0069"/><stop offset="0.2357" stop-color="#740085"/><stop offset="0.2429" stop-color="#7a008b"/><stop offset="0.2500" stop-color="#7c008d"/><stop offset="0.2571" stop-color="#7d008e"/><stop offset="0.2643" stop-color="#7d008e"/><stop offset="0.2714" stop-color="#800091"/><stop offset="0.2786" stop-color="#820093"/><stop offset="0.2857" stop-color="#850096"/><stop offset="0.2929" stop-color="#80009a"/><stop offset="0.3000" stop-color="#5f009e"/><stop offset="0.3071" stop-color="#2e00a4"/><stop offset="0.3143" stop-color="#0000ab"/><stop offset="0.3214" stop-color="#0000c5"/><stop offset="0.3286" stop-color="#0006dd"/><stop offset="0.3357" stop-color="#0042dd"/><stop offset="0.3429" stop-color="#0079dd"/><stop offset="0.3500" stop-color="#0081dd"/><stop offset="0.3571" stop-color="#0086dd"/><stop offset="0.3643" stop-color="#007bdd"/><stop offset="0.3714" stop-color="#0069dd"/><stop offset="0.3786" stop-color="#0051dd"/><stop offset="0.3857" stop-color="#0026dd"/><stop offset="0.3929" stop-color="#0016dd"/><stop offset="0.4000" stop-color="#0000da"/><stop offset="0.4071" stop-color="#0000db"/><stop offset="0.4143" stop-color="#0000d5"/><stop offset="0.4214" stop-color="#00c"/><stop offset="0.4286" stop-color="#0000cb"/><stop offset="0.4357" stop-color="#0000c1"/><stop offset="0.4429" stop-color="#0000c1"/><stop offset="0.4500" stop-color="#0000bc"/><stop offset="0.4571" stop-color="#0000ba"/><stop offset="0.4643" stop-color="#0000b7"/><stop offset="0.4714" stop-color="#0000ba"/><stop offset="0.4786" stop-color="#00b"/><stop offset="0.4857" stop-color="#0000b6"/><stop offset="0.4929" stop-color="#0000b8"/><stop offset="0.5000" stop-color="#0000b2"/><stop offset="0.5071" stop-color="#0000b9"/><stop offset="0.5143" stop-color="#0000ba"/><stop offset="0.5214" stop-color="#0000bf"/><stop offset="0.5286" stop-color="#0000be"/><stop offset="0.5357" stop-color="#0000ba"/><stop offset="0.5429" stop-color="#0000be"/><stop offset="0.5500" stop-color="#0000c3"/><stop offset="0.5571" stop-color="#0000bf"/><stop offset="0.5643" stop-color="#0000c6"/><stop offset="0.5714" stop-color="#0000c5"/><stop offset="0.5786" stop-color="#0000c6"/><stop offset="0.5857" stop-color="#0000c8"/><stop offset="0.5929" stop-color="#0000d1"/><stop offset="0.6000" stop-color="#00c"/><stop offset="0.6071" stop-color="#0000cd"/><stop offset="0.6143" stop-color="#0000cf"/><stop offset="0.6214" stop-color="#0000d4"/><stop offset="0.6250" stop-color="#0000cb"/><stop offset="0.6264" stop-color="#000ddd"/><stop offset="0.6321" stop-color="#000ddd"/><stop offset="0.6357" stop-color="#0019dd"/><stop offset="0.6429" stop-color="#001cdd"/><stop offset="0.6500" stop-color="#0026dd"/><stop offset="0.6571" stop-color="#0024dd"/><stop offset="0.6643" stop-color="#0025dd"/><stop offset="0.6714" stop-color="#01d"/><stop offset="0.6786" stop-color="#0013dd"/><stop offset="0.6857" stop-color="#000fdd"/><stop offset="0.6929" stop-color="#001ddd"/><stop offset="0.7000" stop-color="#001ddd"/><stop offset="0.7071" stop-color="#0003dd"/><stop offset="0.7143" stop-color="#0002dd"/><stop offset="0.7214" stop-color="#0000db"/><stop offset="0.7286" stop-color="#0000d7"/><stop offset="0.7357" stop-color="#0000d6"/><stop offset="0.7429" stop-color="#0000d3"/><stop offset="0.7500" stop-color="#00c"/><stop offset="0.7571" stop-color="#0000c4"/><stop offset="0.7643" stop-color="#0000c4"/><stop offset="0.7714" stop-color="#0000be"/><stop offset="0.7786" stop-color="#0000bc"/><stop offset="0.7857" stop-color="#00b"/><stop offset="0.7929" stop-color="#0000b3"/><stop offset="0.8000" stop-color="#0000ac"/><stop offset="0.8071" stop-color="#0500a9"/><stop offset="0.8143" stop-color="#1000a8"/><stop offset="0.8214" stop-color="#2b00a5"/><stop offset="0.8286" stop-color="#2700a5"/><stop offset="0.8357" stop-color="#3800a3"/><stop offset="0.8429" stop-color="#4400a2"/><stop offset="0.8500" stop-color="#5300a0"/><stop offset="0.8571" stop-color="#68009d"/><stop offset="0.8643" stop-color="#73009c"/><stop offset="0.8714" stop-color="#83009a"/><stop offset="0.8786" stop-color="#850099"/><stop offset="0.8857" stop-color="#860097"/><stop offset="0.8929" stop-color="#850096"/><stop offset="0.9000" stop-color="#840095"/><stop offset="0.9071" stop-color="#820093"/><stop offset="0.9143" stop-color="#820093"/><stop offset="0.9214" stop-color="#800091"/><stop offset="0.9286" stop-color="#7f0090"/><stop offset="0.9357" stop-color="#7e008f"/><stop offset="0.9429" stop-color="#7d008e"/><stop offset="0.9500" stop-color="#7d008e"/><stop offset="0.9571" stop-color="#7c008d"/><stop offset="0.9643" stop-color="#7c008d"/><stop offset="0.9714" stop-color="#7b008c"/><stop offset="0.9786" stop-color="#7a008b"/><stop offset="0.9857" stop-color="#79008a"/><stop offset="0.9929" stop-color="#780089"/><stop offset="1.0000" stop-color="#780089"/></linearGradient>
<linearGradient id="r11" gradientUnits="userSpaceOnUse" x1="103.5" x2="576.1" y1="0" y2="0"><stop offset="0.0000" stop-color="#000"/><stop offset="0.1643" stop-color="#000"/><stop offset="0.1714" stop-color="#020002"/><stop offset="0.1786" stop-color="#100012"/><stop offset="0.1857" stop-color="#1f0023"/><stop offset="0.1929" stop-color="#2f0036"/><stop offset="0.2000" stop-color="#42004b"/><stop offset="0.2071" stop-color="#550061"/><stop offset="0.2143" stop-color="#690078"/><stop offset="0.2214" stop-color="#780089"/><stop offset="0.2286" stop-color="#7a008b"/><stop offset="0.2357" stop-color="#7d008e"/><stop offset="0.2429" stop-color="#800091"/><stop offset="0.2500" stop-color="#820093"/><stop offset="0.2571" stop-color="#840095"/><stop offset="0.2643" stop-color="#850096"/><stop offset="0.2714" stop-color="#809"/><stop offset="0.2786" stop-color="#6f009c"/><stop offset="0.2857" stop-color="#5400a0"/><stop offset="0.2929" stop-color="#2700a5"/><stop offset="0.3000" stop-color="#0000ac"/><stop offset="0.3071" stop-color="#0000c4"/><stop offset="0.3143" stop-color="#0000dc"/><stop offset="0.3214" stop-color="#004fdd"/><stop offset="0.3286" stop-color="#0083dd"/><stop offset="0.3357" stop-color="#0099dc"/><stop offset="0.3429" stop-color="#00a5ba"/><stop offset="0.3500" stop-color="#0aa"/><stop offset="0.3571" stop-color="#00aaa3"/><stop offset="0.3643" stop-color="#00a6b6"/><stop offset="0.3714" stop-color="#00a1c4"/><stop offset="0.3786" stop-color="#009dd2"/><stop offset="0.3857" stop-color="#0090dd"/><stop offset="0.3929" stop-color="#008add"/><stop offset="0.4000" stop-color="#007fdd"/><stop offset="0.4071" stop-color="#0080dd"/><stop offset="0.4143" stop-color="#007bdd"/><stop offset="0.4214" stop-color="#006add"/><stop offset="0.4286" stop-color="#0069dd"/><stop offset="0.4357" stop-color="#004add"/><stop offset="0.4429" stop-color="#004bdd"/><stop offset="0.4500" stop-color="#003ddd"/><stop offset="0.4571" stop-color="#0036dd"/><stop offset="0.4643" stop-color="#002cdd"/><stop offset="0.4714" stop-color="#0038dd"/><stop offset="0.4786" stop-color="#003bdd"/><stop offset="0.4857" stop-color="#002bdd"/><stop offset="0.4929" stop-color="#0031dd"/><stop offset="0.5000" stop-color="#001ddd"/><stop offset="0.5071" stop-color="#0035dd"/><stop offset="0.5143" stop-color="#0038dd"/><stop offset="0.5214" stop-color="#0046dd"/><stop offset="0.5286" stop-color="#0045dd"/><stop offset="0.5357" stop-color="#0038dd"/><stop offset="0.5429" stop-color="#0043dd"/><stop offset="0.5500" stop-color="#0054dd"/><stop offset="0.5571" stop-color="#0046dd"/><stop offset="0.5643" stop-color="#005cdd"/><stop offset="0.5714" stop-color="#005add"/><stop offset="0.5786" stop-color="#005edd"/><stop offset="0.5857" stop-color="#0062dd"/><stop offset="0.5929" stop-color="#007add"/><stop offset="0.6000" stop-color="#0070dd"/><stop offset="0.6071" stop-color="#0074dd"/><stop offset="0.6143" stop-color="#0078dd"/><stop offset="0.6214" stop-color="#007ddd"/><stop offset="0.6250" stop-color="#006edd"/><stop offset="0.6264" stop-color="#0093dd"/><stop offset="0.6321" stop-color="#0093dd"/><stop offset="0.6357" stop-color="#0097dd"/><stop offset="0.6429" stop-color="#0098dd"/><stop offset="0.6500" stop-color="#009bd8"/><stop offset="0.6571" stop-color="#009ad9"/><stop offset="0.6643" stop-color="#009bd8"/><stop offset="0.6714" stop-color="#0094dd"/><stop offset="0.6786" stop-color="#0095dd"/><stop offset="0.6857" stop-color="#0094dd"/><stop offset="0.6929" stop-color="#09d"/><stop offset="0.7000" stop-color="#09d"/><stop offset="0.7071" stop-color="#008fdd"/><stop offset="0.7143" stop-color="#008edd"/><stop offset="0.7214" stop-color="#008bdd"/><stop offset="0.7286" stop-color="#0087dd"/><stop offset="0.7357" stop-color="#0087dd"/><stop offset="0.7429" stop-color="#0084dd"/><stop offset="0.7500" stop-color="#007ddd"/><stop offset="0.7571" stop-color="#0076dd"/><stop offset="0.7643" stop-color="#0078dd"/><stop offset="0.7714" stop-color="#006bdd"/><stop offset="0.7786" stop-color="#06d"/><stop offset="0.7857" stop-color="#06d"/><stop offset="0.7929" stop-color="#0050dd"/><stop offset="0.8000" stop-color="#003ddd"/><stop offset="0.8071" stop-color="#03d"/><stop offset="0.8143" stop-color="#0027dd"/><stop offset="0.8214" stop-color="#0007dd"/><stop offset="0.8286" stop-color="#01d"/><stop offset="0.8357" stop-color="#00d"/><stop offset="0.8429" stop-color="#0000d7"/><stop offset="0.8500" stop-color="#0000d0"/><stop offset="0.8571" stop-color="#0000c5"/><stop offset="0.8643" stop-color="#0000c0"/><stop offset="0.8714" stop-color="#0000b9"/><stop offset="0.8786" stop-color="#0000b9"/><stop offset="0.8857" stop-color="#0000af"/><stop offset="0.8929" stop-color="#00a"/><stop offset="0.9000" stop-color="#0800a9"/><stop offset="0.9071" stop-color="#1500a7"/><stop offset="0.9143" stop-color="#1c00a6"/><stop offset="0.9214" stop-color="#2e00a4"/><stop offset="0.9286" stop-color="#3b00a3"/><stop offset="0.9357" stop-color="#4200a2"/><stop offset="0.9429" stop-color="#4d00a0"/><stop offset="0.9500" stop-color="#5200a0"/><stop offset="0.9571" stop-color="#63009e"/><stop offset="0.9643" stop-color="#5e009e"/><stop offset="0.9714" stop-color="#6e009c"/><stop offset="0.9786" stop-color="#80009a"/><stop offset="0.9857" stop-color="#809"/><stop offset="0.9929" stop-color="#870098"/><stop offset="1.0000" stop-color="#860097"/></linearGradient>
<linearGradient id="r12" gradientUnits="userSpaceOnUse" x1="103.5" x2="576.1" y1="0" y2="0"><stop offset="0.0000" stop-color="#000"/><stop offset="0.1429" stop-color="#000"/><stop offset="0.1500" stop-color="#070008"/><stop offset="0.1571" stop-color="#130016"/><stop offset="0.1643" stop-color="#210026"/><stop offset="0.1714" stop-color="#310038"/><stop offset="0.1786" stop-color="#42004c"/><stop offset="0.1857" stop-color="#52005e"/><stop offset="0.1929" stop-color="#5f006c"/><stop offset="0.2000" stop-color="#6c007b"/><stop offset="0.2071" stop-color="#708"/><stop offset="0.2143" stop-color="#79008a"/><stop offset="0.2214" stop-color="#7c008d"/><stop offset="0.2286" stop-color="#7f0090"/><stop offset="0.2357" stop-color="#830094"/><stop offset="0.2429" stop-color="#860097"/><stop offset="0.2500" stop-color="#81009a"/><stop offset="0.2571" stop-color="#6e009c"/><stop offset="0.2643" stop-color="#5e009e"/><stop offset="0.2714" stop-color="#4000a2"/><stop offset="0.2786" stop-color="#1d00a6"/><stop offset="0.2857" stop-color="#0000ac"/><stop offset="0.2929" stop-color="#0000c1"/><stop offset="0.3000" stop-color="#0000d7"/><stop offset="0.3071" stop-color="#0038dd"/><stop offset="0.3143" stop-color="#007add"/><stop offset="0.3214" stop-color="#0097dd"/><stop offset="0.3286" stop-color="#00a7b3"/><stop offset="0.3357" stop-color="#00aa92"/><stop offset="0.3429" stop-color="#00a141"/><stop offset="0.3500" stop-color="#009a09"/><stop offset="0.3571" stop-color="#00a000"/><stop offset="0.3643" stop-color="#009f31"/><stop offset="0.3714" stop-color="#00a563"/><stop offset="0.3786" stop-color="#00aa8a"/><stop offset="0.3857" stop-color="#00aa9f"/><stop offset="0.3929" stop-color="#00aaa7"/><stop offset="0.4000" stop-color="#00a5b9"/><stop offset="0.4071" stop-color="#00a6b7"/><stop offset="0.4143" stop-color="#00a3c0"/><stop offset="0.4214" stop-color="#009ece"/><stop offset="0.4286" stop-color="#009ece"/><stop offset="0.4357" stop-color="#0098dd"/><stop offset="0.4429" stop-color="#09d"/><stop offset="0.4500" stop-color="#0094dd"/><stop offset="0.4571" stop-color="#0092dd"/><stop offset="0.4643" stop-color="#008edd"/><stop offset="0.4714" stop-color="#0093dd"/><stop offset="0.4786" stop-color="#0094dd"/><stop offset="0.4857" stop-color="#008edd"/><stop offset="0.4929" stop-color="#0090dd"/><stop offset="0.5000" stop-color="#0089dd"/><stop offset="0.5071" stop-color="#0092dd"/><stop offset="0.5143" stop-color="#0093dd"/><stop offset="0.5214" stop-color="#0098dd"/><stop offset="0.5286" stop-color="#0098dd"/><stop offset="0.5357" stop-color="#0093dd"/><stop offset="0.5429" stop-color="#0097dd"/><stop offset="0.5500" stop-color="#009bd7"/><stop offset="0.5571" stop-color="#0098dd"/><stop offset="0.5643" stop-color="#009dd2"/><stop offset="0.5714" stop-color="#009cd3"/><stop offset="0.5786" stop-color="#009dd1"/><stop offset="0.5857" stop-color="#009ecf"/><stop offset="0.5929" stop-color="#00a3be"/><stop offset="0.6000" stop-color="#00a0c7"/><stop offset="0.6071" stop-color="#00a1c5"/><stop offset="0.6143" stop-color="#00a2c2"/><stop offset="0.6214" stop-color="#00a5b9"/><stop offset="0.6250" stop-color="#00a0c8"/><stop offset="0.6264" stop-color="#00aa94"/><stop offset="0.6321" stop-color="#00aa94"/><stop offset="0.6357" stop-color="#00aa8e"/><stop offset="0.6429" stop-color="#00aa8c"/><stop offset="0.6500" stop-color="#00a983"/><stop offset="0.6571" stop-color="#00aa87"/><stop offset="0.6643" stop-color="#00aa84"/><stop offset="0.6714" stop-color="#00aa92"/><stop offset="0.6786" stop-color="#00aa91"/><stop offset="0.6857" stop-color="#00aa93"/><stop offset="0.6929" stop-color="#00aa8b"/><stop offset="0.7000" stop-color="#00aa8b"/><stop offset="0.7071" stop-color="#0a9"/><stop offset="0.7143" stop-color="#00aa9a"/><stop offset="0.7214" stop-color="#00aa9e"/><stop offset="0.7286" stop-color="#00aaa3"/><stop offset="0.7357" stop-color="#00aaa4"/><stop offset="0.7429" stop-color="#00aaa7"/><stop offset="0.7500" stop-color="#00a7b3"/><stop offset="0.7571" stop-color="#00a3bf"/><stop offset="0.7643" stop-color="#00a4bd"/><stop offset="0.7714" stop-color="#00a1c5"/><stop offset="0.7786" stop-color="#00a0c7"/><stop offset="0.7857" stop-color="#00a1c6"/><stop offset="0.7929" stop-color="#009dd2"/><stop offset="0.8000" stop-color="#09d"/><stop offset="0.8071" stop-color="#0096dd"/><stop offset="0.8143" stop-color="#0092dd"/><stop offset="0.8214" stop-color="#0086dd"/><stop offset="0.8286" stop-color="#008add"/><stop offset="0.8357" stop-color="#0083dd"/><stop offset="0.8429" stop-color="#007fdd"/><stop offset="0.8500" stop-color="#0079dd"/><stop offset="0.8571" stop-color="#005ddd"/><stop offset="0.8643" stop-color="#004fdd"/><stop offset="0.8714" stop-color="#0037dd"/><stop offset="0.8786" stop-color="#0039dd"/><stop offset="0.8857" stop-color="#0019dd"/><stop offset="0.8929" stop-color="#000cdd"/><stop offset="0.9000" stop-color="#0003dd"/><stop offset="0.9071" stop-color="#0000d8"/><stop offset="0.9143" stop-color="#0000d5"/><stop offset="0.9214" stop-color="#00c"/><stop offset="0.9286" stop-color="#0000c6"/><stop offset="0.9357" stop-color="#0000c3"/><stop offset="0.9429" stop-color="#0000be"/><stop offset="0.9500" stop-color="#00b"/><stop offset="0.9571" stop-color="#0000b3"/><stop offset="0.9643" stop-color="#0000b7"/><stop offset="0.9714" stop-color="#0000af"/><stop offset="0.9786" stop-color="#0b00a9"/><stop offset="0.9857" stop-color="#1500a7"/><stop offset="0.9929" stop-color="#1e00a6"/><stop offset="1.0000" stop-color="#2a00a5"/></linearGradient>
<linearGradient id="r13" gradientUnits="userSpaceOnUse" x1="103.5" x2="576.1" y1="0" y2="0"><stop offset="0.0000" stop-color="#000"/><stop offset="0.1214" stop-color="#000"/><stop offset="0.1286" stop-color="#070008"/><stop offset="0.1357" stop-color="#130016"/><stop offset="0.1429" stop-color="#210026"/><stop offset="0.1500" stop-color="#2e0035"/><stop offset="0.1571" stop-color="#3b0043"/><stop offset="0.1643" stop-color="#470051"/><stop offset="0.1714" stop-color="#53005e"/><stop offset="0.1786" stop-color="#5f006d"/><stop offset="0.1857" stop-color="#6c007c"/><stop offset="0.1929" stop-color="#708"/><stop offset="0.2000" stop-color="#79008a"/><stop offset="0.2071" stop-color="#7b008c"/><stop offset="0.2143" stop-color="#7e008f"/><stop offset="0.2214" stop-color="#810092"/><stop offset="0.2286" stop-color="#840095"/><stop offset="0.2357" stop-color="#83009a"/><stop offset="0.2429" stop-color="#63009e"/><stop offset="0.2500" stop-color="#4500a1"/><stop offset="0.2571" stop-color="#2a00a5"/><stop offset="0.2643" stop-color="#1300a8"/><stop offset="0.2714" stop-color="#0000b1"/><stop offset="0.2786" stop-color="#0000c1"/><stop offset="0.2857" stop-color="#0000d2"/><stop offset="0.2929" stop-color="#0023dd"/><stop offset="0.3000" stop-color="#0060dd"/><stop offset="0.3071" stop-color="#008add"/><stop offset="0.3143" stop-color="#009ece"/><stop offset="0.3214" stop-color="#00aa9d"/><stop offset="0.3286" stop-color="#00a247"/><stop offset="0.3357" stop-color="#00ac00"/><stop offset="0.3429" stop-color="#00cf00"/><stop offset="0.3500" stop-color="#00e000"/><stop offset="0.3571" stop-color="#00eb00"/><stop offset="0.3643" stop-color="#00d400"/><stop offset="0.3714" stop-color="#00c400"/><stop offset="0.3786" stop-color="#00b600"/><stop offset="0.3857" stop-color="#009c00"/><stop offset="0.3929" stop-color="#009c1a"/><stop offset="0.4000" stop-color="#00a55d"/><stop offset="0.4071" stop-color="#00a455"/><stop offset="0.4143" stop-color="#00a772"/><stop offset="0.4214" stop-color="#00aa8e"/><stop offset="0.4286" stop-color="#00aa8f"/><stop offset="0.4357" stop-color="#00aa9c"/><stop offset="0.4429" stop-color="#00aa9b"/><stop offset="0.4500" stop-color="#00aaa1"/><stop offset="0.4571" stop-color="#00aaa4"/><stop offset="0.4643" stop-color="#00aaa8"/><stop offset="0.4714" stop-color="#00aaa2"/><stop offset="0.4786" stop-color="#00aaa1"/><stop offset="0.4857" stop-color="#00aaa8"/><stop offset="0.4929" stop-color="#00aaa6"/><stop offset="0.5000" stop-color="#00a8b1"/><stop offset="0.5071" stop-color="#00aaa4"/><stop offset="0.5143" stop-color="#00aaa3"/><stop offset="0.5214" stop-color="#00aa9c"/><stop offset="0.5286" stop-color="#00aa9c"/><stop offset="0.5357" stop-color="#00aaa3"/><stop offset="0.5429" stop-color="#00aa9d"/><stop offset="0.5500" stop-color="#00aa96"/><stop offset="0.5571" stop-color="#00aa9c"/><stop offset="0.5643" stop-color="#00aa92"/><stop offset="0.5714" stop-color="#00aa93"/><stop offset="0.5786" stop-color="#00aa91"/><stop offset="0.5857" stop-color="#00aa8f"/><stop offset="0.5929" stop-color="#00a66b"/><stop offset="0.6000" stop-color="#00aa89"/><stop offset="0.6071" stop-color="#00a983"/><stop offset="0.6143" stop-color="#00a879"/><stop offset="0.6214" stop-color="#00a459"/><stop offset="0.6250" stop-color="#00aa8a"/><stop offset="0.6264" stop-color="#00ae00"/><stop offset="0.6321" stop-color="#00ae00"/><stop offset="0.6357" stop-color="#00b600"/><stop offset="0.6429" stop-color="#00b800"/><stop offset="0.6500" stop-color="#00be00"/><stop offset="0.6571" stop-color="#00bd00"/><stop offset="0.6643" stop-color="#00be00"/><stop offset="0.6714" stop-color="#00b100"/><stop offset="0.6786" stop-color="#00b200"/><stop offset="0.6857" stop-color="#00b000"/><stop offset="0.6929" stop-color="#00b900"/><stop offset="0.7000" stop-color="#00b800"/><stop offset="0.7071" stop-color="#00a700"/><stop offset="0.7143" stop-color="#00a600"/><stop offset="0.7214" stop-color="#00a100"/><stop offset="0.7286" stop-color="#009b00"/><stop offset="0.7357" stop-color="#009a00"/><stop offset="0.7429" stop-color="#009a0c"/><stop offset="0.7500" stop-color="#00a03b"/><stop offset="0.7571" stop-color="#00a561"/><stop offset="0.7643" stop-color="#00a458"/><stop offset="0.7714" stop-color="#00a76f"/><stop offset="0.7786" stop-color="#00a876"/><stop offset="0.7857" stop-color="#00a771"/><stop offset="0.7929" stop-color="#00aa8c"/><stop offset="0.8000" stop-color="#00aa94"/><stop offset="0.8071" stop-color="#00aa98"/><stop offset="0.8143" stop-color="#00aa9d"/><stop offset="0.8214" stop-color="#00a9ac"/><stop offset="0.8286" stop-color="#00aaa6"/><stop offset="0.8357" stop-color="#00a8b0"/><stop offset="0.8429" stop-color="#00a5b8"/><stop offset="0.8500" stop-color="#00a2c3"/><stop offset="0.8571" stop-color="#009cd4"/><stop offset="0.8643" stop-color="#009adb"/><stop offset="0.8714" stop-color="#0092dd"/><stop offset="0.8786" stop-color="#0093dd"/><stop offset="0.8857" stop-color="#08d"/><stop offset="0.8929" stop-color="#0083dd"/><stop offset="0.9000" stop-color="#0080dd"/><stop offset="0.9071" stop-color="#007bdd"/><stop offset="0.9143" stop-color="#0079dd"/><stop offset="0.9214" stop-color="#0063dd"/><stop offset="0.9286" stop-color="#0052dd"/><stop offset="0.9357" stop-color="#0049dd"/><stop offset="0.9429" stop-color="#003add"/><stop offset="0.9500" stop-color="#0035dd"/><stop offset="0.9571" stop-color="#001cdd"/><stop offset="0.9643" stop-color="#0028dd"/><stop offset="0.9714" stop-color="#0013dd"/><stop offset="0.9786" stop-color="#0000d9"/><stop offset="0.9857" stop-color="#0000d5"/><stop offset="0.9929" stop-color="#0000d0"/><stop offset="1.0000" stop-color="#0000cb"/></linearGradient>
<linearGradient id="r14" gradientUnits="userSpaceOnUse" x1="103.5" x2="576.1" y1="0" y2="0"><stop offset="0.0000" stop-color="#000"/><stop offset="0.1000" stop-color="#000"/><stop offset="0.1071" stop-color="#050006"/><stop offset="0.1143" stop-color="#0f0011"/><stop offset="0.1214" stop-color="#1b001f"/><stop offset="0.1286" stop-color="#26002c"/><stop offset="0.1357" stop-color="#300037"/><stop offset="0.1429" stop-color="#3a0042"/><stop offset="0.1500" stop-color="#44004e"/><stop offset="0.1571" stop-color="#50005c"/><stop offset="0.1643" stop-color="#5d006a"/><stop offset="0.1714" stop-color="#6b007a"/><stop offset="0.1786" stop-color="#708"/><stop offset="0.1857" stop-color="#79008a"/><stop offset="0.1929" stop-color="#7b008c"/><stop offset="0.2000" stop-color="#7d008e"/><stop offset="0.2071" stop-color="#800091"/><stop offset="0.2143" stop-color="#820093"/><stop offset="0.2214" stop-color="#860097"/><stop offset="0.2286" stop-color="#7b009b"/><stop offset="0.2357" stop-color="#5300a0"/><stop offset="0.2429" stop-color="#2d00a4"/><stop offset="0.2500" stop-color="#0800a9"/><stop offset="0.2571" stop-color="#0000b4"/><stop offset="0.2643" stop-color="#0000c0"/><stop offset="0.2714" stop-color="#0000d1"/><stop offset="0.2786" stop-color="#01d"/><stop offset="0.2857" stop-color="#003edd"/><stop offset="0.2929" stop-color="#007cdd"/><stop offset="0.3000" stop-color="#0091dd"/><stop offset="0.3071" stop-color="#00a4bc"/><stop offset="0.3143" stop-color="#00aa98"/><stop offset="0.3214" stop-color="#009c16"/><stop offset="0.3286" stop-color="#00c000"/><stop offset="0.3357" stop-color="#00ec00"/><stop offset="0.3429" stop-color="#7cff00"/><stop offset="0.3500" stop-color="#c9fa00"/><stop offset="0.3571" stop-color="#ddf400"/><stop offset="0.3643" stop-color="#9dff00"/><stop offset="0.3714" stop-color="#37ff00"/><stop offset="0.3786" stop-color="#00f800"/><stop offset="0.3857" stop-color="#00d900"/><stop offset="0.3929" stop-color="#00ce00"/><stop offset="0.4000" stop-color="#00ba00"/><stop offset="0.4071" stop-color="#00be00"/><stop offset="0.4143" stop-color="#00b600"/><stop offset="0.4214" stop-color="#00a900"/><stop offset="0.4286" stop-color="#00a900"/><stop offset="0.4357" stop-color="#009a00"/><stop offset="0.4429" stop-color="#009c00"/><stop offset="0.4500" stop-color="#009b0e"/><stop offset="0.4571" stop-color="#009c16"/><stop offset="0.4643" stop-color="#009e26"/><stop offset="0.4714" stop-color="#009b0c"/><stop offset="0.4786" stop-color="#009a06"/><stop offset="0.4857" stop-color="#009e29"/><stop offset="0.4929" stop-color="#009d1d"/><stop offset="0.5000" stop-color="#00a249"/><stop offset="0.5071" stop-color="#009b12"/><stop offset="0.5143" stop-color="#009b0d"/><stop offset="0.5214" stop-color="#009e00"/><stop offset="0.5286" stop-color="#009d00"/><stop offset="0.5357" stop-color="#009b0d"/><stop offset="0.5429" stop-color="#009c00"/><stop offset="0.5500" stop-color="#00a600"/><stop offset="0.5571" stop-color="#009e00"/><stop offset="0.5643" stop-color="#00ab00"/><stop offset="0.5714" stop-color="#00a900"/><stop offset="0.5786" stop-color="#00ac00"/><stop offset="0.5857" stop-color="#00ae00"/><stop offset="0.5929" stop-color="#00bf00"/><stop offset="0.6000" stop-color="#00b600"/><stop offset="0.6071" stop-color="#00b800"/><stop offset="0.6143" stop-color="#0b0"/><stop offset="0.6214" stop-color="#00c500"/><stop offset="0.6250" stop-color="#00b500"/><stop offset="0.6264" stop-color="#00fd00"/><stop offset="0.6321" stop-color="#00fd00"/><stop offset="0.6357" stop-color="#28ff00"/><stop offset="0.6429" stop-color="#35ff00"/><stop offset="0.6500" stop-color="#63ff00"/><stop offset="0.6571" stop-color="#5aff00"/><stop offset="0.6643" stop-color="#61ff00"/><stop offset="0.6714" stop-color="#06ff00"/><stop offset="0.6786" stop-color="#0fff00"/><stop offset="0.6857" stop-color="#0f0"/><stop offset="0.6929" stop-color="#3bff00"/><stop offset="0.7000" stop-color="#3bff00"/><stop offset="0.7071" stop-color="#00f400"/><stop offset="0.7143" stop-color="#00f300"/><stop offset="0.7214" stop-color="#00ed00"/><stop offset="0.7286" stop-color="#00e600"/><stop offset="0.7357" stop-color="#00e400"/><stop offset="0.7429" stop-color="#00df00"/><stop offset="0.7500" stop-color="#00d000"/><stop offset="0.7571" stop-color="#00c500"/><stop offset="0.7643" stop-color="#00c800"/><stop offset="0.7714" stop-color="#00c100"/><stop offset="0.7786" stop-color="#00bf00"/><stop offset="0.7857" stop-color="#00c100"/><stop offset="0.7929" stop-color="#00b500"/><stop offset="0.8000" stop-color="#00ab00"/><stop offset="0.8071" stop-color="#00a600"/><stop offset="0.8143" stop-color="#00a100"/><stop offset="0.8214" stop-color="#009e2a"/><stop offset="0.8286" stop-color="#009a0c"/><stop offset="0.8357" stop-color="#009f34"/><stop offset="0.8429" stop-color="#00a34d"/><stop offset="0.8500" stop-color="#00a771"/><stop offset="0.8571" stop-color="#00aa90"/><stop offset="0.8643" stop-color="#00aa96"/><stop offset="0.8714" stop-color="#00aaa1"/><stop offset="0.8786" stop-color="#00aa9f"/><stop offset="0.8857" stop-color="#00a9ae"/><stop offset="0.8929" stop-color="#00a6b7"/><stop offset="0.9000" stop-color="#00a4bc"/><stop offset="0.9071" stop-color="#00a1c5"/><stop offset="0.9143" stop-color="#00a0c9"/><stop offset="0.9214" stop-color="#009bd7"/><stop offset="0.9286" stop-color="#0097dd"/><stop offset="0.9357" stop-color="#0094dd"/><stop offset="0.9429" stop-color="#008fdd"/><stop offset="0.9500" stop-color="#008ddd"/><stop offset="0.9571" stop-color="#0084dd"/><stop offset="0.9643" stop-color="#0089dd"/><stop offset="0.9714" stop-color="#0081dd"/><stop offset="0.9786" stop-color="#0078dd"/><stop offset="0.9857" stop-color="#006ddd"/><stop offset="0.9929" stop-color="#005fdd"/><stop offset="1.0000" stop-color="#0050dd"/></linearGradient>
<linearGradient id="r15" gradientUnits="userSpaceOnUse" x1="103.5" x2="576.1" y1="0" y2="0"><stop offset="0.0000" stop-color="#000"/><stop offset="0.0786" stop-color="#000"/><stop offset="0.0857" stop-color="#050005"/><stop offset="0.0929" stop-color="#0c000e"/><stop offset="0.1000" stop-color="#160019"/><stop offset="0.1071" stop-color="#1d0021"/><stop offset="0.1143" stop-color="#240029"/><stop offset="0.1214" stop-color="#2d0033"/><stop offset="0.1286" stop-color="#37003f"/><stop offset="0.1357" stop-color="#41004b"/><stop offset="0.1429" stop-color="#4c0057"/><stop offset="0.1500" stop-color="#580064"/><stop offset="0.1571" stop-color="#650074"/><stop offset="0.1643" stop-color="#740084"/><stop offset="0.1714" stop-color="#79008a"/><stop offset="0.1786" stop-color="#7b008c"/><stop offset="0.1857" stop-color="#7d008e"/><stop offset="0.1929" stop-color="#7f0090"/><stop offset="0.2000" stop-color="#810092"/><stop offset="0.2071" stop-color="#830094"/><stop offset="0.2143" stop-color="#860097"/><stop offset="0.2214" stop-color="#78009b"/><stop offset="0.2286" stop-color="#56009f"/><stop offset="0.2357" stop-color="#2a00a5"/><stop offset="0.2429" stop-color="#00a"/><stop offset="0.2500" stop-color="#0000ba"/><stop offset="0.2571" stop-color="#0000c9"/><stop offset="0.2643" stop-color="#0000d7"/><stop offset="0.2714" stop-color="#001fdd"/><stop offset="0.2786" stop-color="#0053dd"/><stop offset="0.2857" stop-color="#007cdd"/><stop offset="0.2929" stop-color="#0093dd"/><stop offset="0.3000" stop-color="#00a2c2"/><stop offset="0.3071" stop-color="#00aa97"/><stop offset="0.3143" stop-color="#00a13c"/><stop offset="0.3214" stop-color="#00bc00"/><stop offset="0.3286" stop-color="#0e0"/><stop offset="0.3357" stop-color="#b5ff00"/><stop offset="0.3429" stop-color="#f4e100"/><stop offset="0.3500" stop-color="#ffc900"/><stop offset="0.3571" stop-color="#ffb200"/><stop offset="0.3643" stop-color="#f8da00"/><stop offset="0.3714" stop-color="#ecef00"/><stop offset="0.3786" stop-color="#cff800"/><stop offset="0.3857" stop-color="#4f0"/><stop offset="0.3929" stop-color="#00fe00"/><stop offset="0.4000" stop-color="#00e800"/><stop offset="0.4071" stop-color="#00ec00"/><stop offset="0.4143" stop-color="#00e400"/><stop offset="0.4214" stop-color="#00d500"/><stop offset="0.4286" stop-color="#00d600"/><stop offset="0.4357" stop-color="#00c500"/><stop offset="0.4429" stop-color="#00c700"/><stop offset="0.4500" stop-color="#00c000"/><stop offset="0.4571" stop-color="#00be00"/><stop offset="0.4643" stop-color="#00b900"/><stop offset="0.4714" stop-color="#00c100"/><stop offset="0.4786" stop-color="#00c300"/><stop offset="0.4857" stop-color="#00b900"/><stop offset="0.4929" stop-color="#00bc00"/><stop offset="0.5000" stop-color="#00b000"/><stop offset="0.5071" stop-color="#00bf00"/><stop offset="0.5143" stop-color="#00c100"/><stop offset="0.5214" stop-color="#00ca00"/><stop offset="0.5286" stop-color="#00c900"/><stop offset="0.5357" stop-color="#00c100"/><stop offset="0.5429" stop-color="#00c800"/><stop offset="0.5500" stop-color="#00d300"/><stop offset="0.5571" stop-color="#00ca00"/><stop offset="0.5643" stop-color="#00d900"/><stop offset="0.5714" stop-color="#00d700"/><stop offset="0.5786" stop-color="#00da00"/><stop offset="0.5857" stop-color="#00dc00"/><stop offset="0.5929" stop-color="#00f000"/><stop offset="0.6000" stop-color="#00e500"/><stop offset="0.6071" stop-color="#00e800"/><stop offset="0.6143" stop-color="#00eb00"/><stop offset="0.6214" stop-color="#00f600"/><stop offset="0.6250" stop-color="#00e400"/><stop offset="0.6264" stop-color="#ebef00"/><stop offset="0.6321" stop-color="#ebef00"/><stop offset="0.6357" stop-color="#f2e500"/><stop offset="0.6429" stop-color="#f4e300"/><stop offset="0.6500" stop-color="#f9d900"/><stop offset="0.6571" stop-color="#f8db00"/><stop offset="0.6643" stop-color="#f8d900"/><stop offset="0.6714" stop-color="#efed00"/><stop offset="0.6786" stop-color="#f0eb00"/><stop offset="0.6857" stop-color="#ee0"/><stop offset="0.6929" stop-color="#f4e100"/><stop offset="0.7000" stop-color="#f4e100"/><stop offset="0.7071" stop-color="#dbf400"/><stop offset="0.7143" stop-color="#d9f500"/><stop offset="0.7214" stop-color="#cff800"/><stop offset="0.7286" stop-color="#c2fd00"/><stop offset="0.7357" stop-color="#bffe00"/><stop offset="0.7429" stop-color="#a9ff00"/><stop offset="0.7500" stop-color="#4bff00"/><stop offset="0.7571" stop-color="#04ff00"/><stop offset="0.7643" stop-color="#1bff00"/><stop offset="0.7714" stop-color="#00fc00"/><stop offset="0.7786" stop-color="#00fb00"/><stop offset="0.7857" stop-color="#00fe00"/><stop offset="0.7929" stop-color="#00f000"/><stop offset="0.8000" stop-color="#00e500"/><stop offset="0.8071" stop-color="#00e000"/><stop offset="0.8143" stop-color="#00da00"/><stop offset="0.8214" stop-color="#00c500"/><stop offset="0.8286" stop-color="#00cf00"/><stop offset="0.8357" stop-color="#00c300"/><stop offset="0.8429" stop-color="#00bc00"/><stop offset="0.8500" stop-color="#00b200"/><stop offset="0.8571" stop-color="#00a200"/><stop offset="0.8643" stop-color="#009b00"/><stop offset="0.8714" stop-color="#009e27"/><stop offset="0.8786" stop-color="#009c1b"/><stop offset="0.8857" stop-color="#00a55d"/><stop offset="0.8929" stop-color="#00a876"/><stop offset="0.9000" stop-color="#00aa85"/><stop offset="0.9071" stop-color="#00aa8e"/><stop offset="0.9143" stop-color="#00aa91"/><stop offset="0.9214" stop-color="#00aa9b"/><stop offset="0.9286" stop-color="#00aaa2"/><stop offset="0.9357" stop-color="#00aaa5"/><stop offset="0.9429" stop-color="#00a9ac"/><stop offset="0.9500" stop-color="#00a8af"/><stop offset="0.9571" stop-color="#00a3be"/><stop offset="0.9643" stop-color="#00a6b5"/><stop offset="0.9714" stop-color="#00a2c2"/><stop offset="0.9786" stop-color="#009cd3"/><stop offset="0.9857" stop-color="#009ad9"/><stop offset="0.9929" stop-color="#0097dd"/><stop offset="1.0000" stop-color="#0092dd"/></linearGradient>
<linearGradient id="r16" gradientUnits="userSpaceOnUse" x1="103.5" x2="576.1" y1="0" y2="0"><stop offset="0.0000" stop-color="#000"/><stop offset="0.0500" stop-color="#000"/><stop offset="0.0571" stop-color="#020002"/><stop offset="0.0643" stop-color="#070008"/><stop offset="0.0714" stop-color="#0c000e"/><stop offset="0.0786" stop-color="#100013"/><stop offset="0.0857" stop-color="#150018"/><stop offset="0.0929" stop-color="#1b001f"/><stop offset="0.1000" stop-color="#220027"/><stop offset="0.1071" stop-color="#2a0030"/><stop offset="0.1143" stop-color="#320039"/><stop offset="0.1214" stop-color="#3c0045"/><stop offset="0.1286" stop-color="#470052"/><stop offset="0.1357" stop-color="#53005f"/><stop offset="0.1429" stop-color="#5e006c"/><stop offset="0.1500" stop-color="#6a0079"/><stop offset="0.1571" stop-color="#708"/><stop offset="0.1643" stop-color="#79008a"/><stop offset="0.1714" stop-color="#7c008d"/><stop offset="0.1786" stop-color="#7e008f"/><stop offset="0.1857" stop-color="#800091"/><stop offset="0.1929" stop-color="#820093"/><stop offset="0.2000" stop-color="#850096"/><stop offset="0.2071" stop-color="#870098"/><stop offset="0.2143" stop-color="#7d009a"/><stop offset="0.2214" stop-color="#58009f"/><stop offset="0.2286" stop-color="#3400a4"/><stop offset="0.2357" stop-color="#0400aa"/><stop offset="0.2429" stop-color="#0000ba"/><stop offset="0.2500" stop-color="#00c"/><stop offset="0.2571" stop-color="#00d"/><stop offset="0.2643" stop-color="#0027dd"/><stop offset="0.2714" stop-color="#0058dd"/><stop offset="0.2786" stop-color="#007fdd"/><stop offset="0.2857" stop-color="#008fdd"/><stop offset="0.2929" stop-color="#00a1c4"/><stop offset="0.3000" stop-color="#00aaa1"/><stop offset="0.3071" stop-color="#00a352"/><stop offset="0.3143" stop-color="#00ab00"/><stop offset="0.3214" stop-color="#00e300"/><stop offset="0.3286" stop-color="#98ff00"/><stop offset="0.3357" stop-color="#f5df00"/><stop offset="0.3429" stop-color="#ff9a00"/><stop offset="0.3500" stop-color="#ff2400"/><stop offset="0.3571" stop-color="#f60000"/><stop offset="0.3643" stop-color="#ff7800"/><stop offset="0.3714" stop-color="#ffb100"/><stop offset="0.3786" stop-color="#fdd000"/><stop offset="0.3857" stop-color="#e2f200"/><stop offset="0.3929" stop-color="#cbfa00"/><stop offset="0.4000" stop-color="#75ff00"/><stop offset="0.4071" stop-color="#90ff00"/><stop offset="0.4143" stop-color="#5dff00"/><stop offset="0.4214" stop-color="#03ff00"/><stop offset="0.4286" stop-color="#0cff00"/><stop offset="0.4357" stop-color="#0e0"/><stop offset="0.4429" stop-color="#00f100"/><stop offset="0.4500" stop-color="#00e900"/><stop offset="0.4571" stop-color="#00e700"/><stop offset="0.4643" stop-color="#00e300"/><stop offset="0.4714" stop-color="#00eb00"/><stop offset="0.4786" stop-color="#00ed00"/><stop offset="0.4857" stop-color="#00e200"/><stop offset="0.4929" stop-color="#00e600"/><stop offset="0.5000" stop-color="#00d800"/><stop offset="0.5071" stop-color="#00e900"/><stop offset="0.5143" stop-color="#00eb00"/><stop offset="0.5214" stop-color="#00f600"/><stop offset="0.5286" stop-color="#00f500"/><stop offset="0.5357" stop-color="#00eb00"/><stop offset="0.5429" stop-color="#00f300"/><stop offset="0.5500" stop-color="#04ff00"/><stop offset="0.5571" stop-color="#00f600"/><stop offset="0.5643" stop-color="#27ff00"/><stop offset="0.5714" stop-color="#1dff00"/><stop offset="0.5786" stop-color="#2dff00"/><stop offset="0.5857" stop-color="#3cff00"/><stop offset="0.5929" stop-color="#b8ff00"/><stop offset="0.6000" stop-color="#74ff00"/><stop offset="0.6071" stop-color="#85ff00"/><stop offset="0.6143" stop-color="#9f0"/><stop offset="0.6214" stop-color="#c5fc00"/><stop offset="0.6250" stop-color="#6dff00"/><stop offset="0.6264" stop-color="#ffa600"/><stop offset="0.6321" stop-color="#ffa600"/><stop offset="0.6357" stop-color="#ff8a00"/><stop offset="0.6429" stop-color="#ff7c00"/><stop offset="0.6500" stop-color="#ff4a00"/><stop offset="0.6571" stop-color="#ff5400"/><stop offset="0.6643" stop-color="#ff4d00"/><stop offset="0.6714" stop-color="#ffa000"/><stop offset="0.6786" stop-color="#ff9d00"/><stop offset="0.6857" stop-color="#ffa300"/><stop offset="0.6929" stop-color="#ff7500"/><stop offset="0.7000" stop-color="#ff7500"/><stop offset="0.7071" stop-color="#ffb800"/><stop offset="0.7143" stop-color="#ffba00"/><stop offset="0.7214" stop-color="#ffc600"/><stop offset="0.7286" stop-color="#fcd200"/><stop offset="0.7357" stop-color="#fbd400"/><stop offset="0.7429" stop-color="#f8da00"/><stop offset="0.7500" stop-color="#ee0"/><stop offset="0.7571" stop-color="#d9f500"/><stop offset="0.7643" stop-color="#e0f300"/><stop offset="0.7714" stop-color="#d4f700"/><stop offset="0.7786" stop-color="#d2f700"/><stop offset="0.7857" stop-color="#d7f600"/><stop offset="0.7929" stop-color="#c0fd00"/><stop offset="0.8000" stop-color="#89ff00"/><stop offset="0.8071" stop-color="#6cff00"/><stop offset="0.8143" stop-color="#48ff00"/><stop offset="0.8214" stop-color="#00f500"/><stop offset="0.8286" stop-color="#04ff00"/><stop offset="0.8357" stop-color="#00f300"/><stop offset="0.8429" stop-color="#00ec00"/><stop offset="0.8500" stop-color="#00e000"/><stop offset="0.8571" stop-color="#00ce00"/><stop offset="0.8643" stop-color="#00c600"/><stop offset="0.8714" stop-color="#00b900"/><stop offset="0.8786" stop-color="#00bd00"/><stop offset="0.8857" stop-color="#0a0"/><stop offset="0.8929" stop-color="#00a300"/><stop offset="0.9000" stop-color="#009f00"/><stop offset="0.9071" stop-color="#009a06"/><stop offset="0.9143" stop-color="#009b13"/><stop offset="0.9214" stop-color="#00a142"/><stop offset="0.9286" stop-color="#00a560"/><stop offset="0.9357" stop-color="#00a76e"/><stop offset="0.9429" stop-color="#0a8"/><stop offset="0.9500" stop-color="#00aa8a"/><stop offset="0.9571" stop-color="#00aa96"/><stop offset="0.9643" stop-color="#00aa8e"/><stop offset="0.9714" stop-color="#00aa98"/><stop offset="0.9786" stop-color="#00aaa6"/><stop offset="0.9857" stop-color="#0aa"/><stop offset="0.9929" stop-color="#00a8b1"/><stop offset="1.0000" stop-color="#00a5ba"/></linearGradient>
<linearGradient id="r17" gradientUnits="userSpaceOnUse" x1="103.5" x2="576.1" y1="0" y2="0"><stop offset="0.0000" stop-color="#000"/><stop offset="0.0286" stop-color="#000"/><stop offset="0.0357" stop-color="#020003"/><stop offset="0.0429" stop-color="#050005"/><stop offset="0.0500" stop-color="#070008"/><stop offset="0.0571" stop-color="#0b000d"/><stop offset="0.0643" stop-color="#100012"/><stop offset="0.0714" stop-color="#150018"/><stop offset="0.0786" stop-color="#1a001e"/><stop offset="0.0857" stop-color="#200024"/><stop offset="0.0929" stop-color="#26002c"/><stop offset="0.1000" stop-color="#2e0035"/><stop offset="0.1071" stop-color="#36003e"/><stop offset="0.1143" stop-color="#3f0047"/><stop offset="0.1214" stop-color="#4a0055"/><stop offset="0.1286" stop-color="#560062"/><stop offset="0.1357" stop-color="#620070"/><stop offset="0.1429" stop-color="#6d007d"/><stop offset="0.1500" stop-color="#708"/><stop offset="0.1571" stop-color="#79008a"/><stop offset="0.1643" stop-color="#7c008d"/><stop offset="0.1714" stop-color="#7e008f"/><stop offset="0.1786" stop-color="#800091"/><stop offset="0.1857" stop-color="#820093"/><stop offset="0.1929" stop-color="#840095"/><stop offset="0.2000" stop-color="#860097"/><stop offset="0.2071" stop-color="#84009a"/><stop offset="0.2143" stop-color="#72009c"/><stop offset="0.2214" stop-color="#4d00a0"/><stop offset="0.2286" stop-color="#2700a5"/><stop offset="0.2357" stop-color="#0000ae"/><stop offset="0.2429" stop-color="#0000c1"/><stop offset="0.2500" stop-color="#0000d4"/><stop offset="0.2571" stop-color="#0018dd"/><stop offset="0.2643" stop-color="#04d"/><stop offset="0.2714" stop-color="#07d"/><stop offset="0.2786" stop-color="#0089dd"/><stop offset="0.2857" stop-color="#009adb"/><stop offset="0.2929" stop-color="#00a8b1"/><stop offset="0.3000" stop-color="#00aa93"/><stop offset="0.3071" stop-color="#009b11"/><stop offset="0.3143" stop-color="#00bd00"/><stop offset="0.3214" stop-color="#00f800"/><stop offset="0.3286" stop-color="#d7f600"/><stop offset="0.3357" stop-color="#ffbf00"/><stop offset="0.3429" stop-color="#ff0e00"/><stop offset="0.3500" stop-color="#e60000"/><stop offset="0.3571" stop-color="#d90000"/><stop offset="0.3643" stop-color="#fa0000"/><stop offset="0.3714" stop-color="#ff5a00"/><stop offset="0.3786" stop-color="#ffa600"/><stop offset="0.3857" stop-color="#f7db00"/><stop offset="0.3929" stop-color="#efeb00"/><stop offset="0.4000" stop-color="#cff800"/><stop offset="0.4071" stop-color="#d9f500"/><stop offset="0.4143" stop-color="#ccf900"/><stop offset="0.4214" stop-color="#a2ff00"/><stop offset="0.4286" stop-color="#b3ff00"/><stop offset="0.4357" stop-color="#4aff00"/><stop offset="0.4429" stop-color="#6f0"/><stop offset="0.4500" stop-color="#3eff00"/><stop offset="0.4571" stop-color="#39ff00"/><stop offset="0.4643" stop-color="#26ff00"/><stop offset="0.4714" stop-color="#58ff00"/><stop offset="0.4786" stop-color="#64ff00"/><stop offset="0.4857" stop-color="#21ff00"/><stop offset="0.4929" stop-color="#39ff00"/><stop offset="0.5000" stop-color="#00fa00"/><stop offset="0.5071" stop-color="#4dff00"/><stop offset="0.5143" stop-color="#56ff00"/><stop offset="0.5214" stop-color="#98ff00"/><stop offset="0.5286" stop-color="#91ff00"/><stop offset="0.5357" stop-color="#57ff00"/><stop offset="0.5429" stop-color="#87ff00"/><stop offset="0.5500" stop-color="#c1fd00"/><stop offset="0.5571" stop-color="#95ff00"/><stop offset="0.5643" stop-color="#ccf900"/><stop offset="0.5714" stop-color="#c9fa00"/><stop offset="0.5786" stop-color="#cef900"/><stop offset="0.5857" stop-color="#d2f700"/><stop offset="0.5929" stop-color="#f1e800"/><stop offset="0.6000" stop-color="#e3f200"/><stop offset="0.6071" stop-color="#e8f000"/><stop offset="0.6143" stop-color="#ee0"/><stop offset="0.6214" stop-color="#f5e000"/><stop offset="0.6250" stop-color="#e1f200"/><stop offset="0.6264" stop-color="#f20000"/><stop offset="0.6321" stop-color="#f20000"/><stop offset="0.6357" stop-color="#e50000"/><stop offset="0.6429" stop-color="#e10000"/><stop offset="0.6500" stop-color="#d90000"/><stop offset="0.6571" stop-color="#da0000"/><stop offset="0.6643" stop-color="#d90000"/><stop offset="0.6714" stop-color="#e00"/><stop offset="0.6786" stop-color="#eb0000"/><stop offset="0.6857" stop-color="#f00000"/><stop offset="0.6929" stop-color="#e00000"/><stop offset="0.7000" stop-color="#e00000"/><stop offset="0.7071" stop-color="#f00"/><stop offset="0.7143" stop-color="#ff0800"/><stop offset="0.7214" stop-color="#ff2f00"/><stop offset="0.7286" stop-color="#ff5f00"/><stop offset="0.7357" stop-color="#ff6a00"/><stop offset="0.7429" stop-color="#ff8b00"/><stop offset="0.7500" stop-color="#ffb500"/><stop offset="0.7571" stop-color="#fc0"/><stop offset="0.7643" stop-color="#ffc300"/><stop offset="0.7714" stop-color="#fdcf00"/><stop offset="0.7786" stop-color="#fdd000"/><stop offset="0.7857" stop-color="#fc0"/><stop offset="0.7929" stop-color="#f7dd00"/><stop offset="0.8000" stop-color="#f0eb00"/><stop offset="0.8071" stop-color="#ebef00"/><stop offset="0.8143" stop-color="#e0f300"/><stop offset="0.8214" stop-color="#b6ff00"/><stop offset="0.8286" stop-color="#ccf900"/><stop offset="0.8357" stop-color="#afff00"/><stop offset="0.8429" stop-color="#82ff00"/><stop offset="0.8500" stop-color="#3dff00"/><stop offset="0.8571" stop-color="#00f600"/><stop offset="0.8643" stop-color="#0e0"/><stop offset="0.8714" stop-color="#00df00"/><stop offset="0.8786" stop-color="#00e400"/><stop offset="0.8857" stop-color="#00cf00"/><stop offset="0.8929" stop-color="#00c700"/><stop offset="0.9000" stop-color="#00c300"/><stop offset="0.9071" stop-color="#0b0"/><stop offset="0.9143" stop-color="#00b700"/><stop offset="0.9214" stop-color="#0a0"/><stop offset="0.9286" stop-color="#00a200"/><stop offset="0.9357" stop-color="#009f00"/><stop offset="0.9429" stop-color="#009a08"/><stop offset="0.9500" stop-color="#009b0f"/><stop offset="0.9571" stop-color="#00a142"/><stop offset="0.9643" stop-color="#009d20"/><stop offset="0.9714" stop-color="#00a34d"/><stop offset="0.9786" stop-color="#00aa87"/><stop offset="0.9857" stop-color="#00aa8d"/><stop offset="0.9929" stop-color="#00aa92"/><stop offset="1.0000" stop-color="#00aa98"/></linearGradient>
<linearGradient id="r18" gradientUnits="userSpaceOnUse" x1="103.5" x2="576.1" y1="0" y2="0"><stop offset="0.0000" stop-color="#000"/><stop offset="0.0214" stop-color="#000"/><stop offset="0.0286" stop-color="#030003"/><stop offset="0.0357" stop-color="#060006"/><stop offset="0.0429" stop-color="#09000a"/><stop offset="0.0500" stop-color="#0c000e"/><stop offset="0.0571" stop-color="#120014"/><stop offset="0.0643" stop-color="#17001a"/><stop offset="0.0714" stop-color="#1d0021"/><stop offset="0.0786" stop-color="#220027"/><stop offset="0.0857" stop-color="#28002d"/><stop offset="0.0929" stop-color="#2e0035"/><stop offset="0.1000" stop-color="#36003d"/><stop offset="0.1071" stop-color="#3d0046"/><stop offset="0.1143" stop-color="#45004f"/><stop offset="0.1214" stop-color="#50005b"/><stop offset="0.1286" stop-color="#5a0067"/><stop offset="0.1357" stop-color="#650074"/><stop offset="0.1429" stop-color="#700080"/><stop offset="0.1500" stop-color="#780089"/><stop offset="0.1571" stop-color="#7a008b"/><stop offset="0.1643" stop-color="#7c008d"/><stop offset="0.1714" stop-color="#7e008f"/><stop offset="0.1786" stop-color="#800091"/><stop offset="0.1857" stop-color="#830094"/><stop offset="0.1929" stop-color="#850096"/><stop offset="0.2000" stop-color="#870098"/><stop offset="0.2071" stop-color="#7f009a"/><stop offset="0.2143" stop-color="#6d009c"/><stop offset="0.2214" stop-color="#4a00a1"/><stop offset="0.2286" stop-color="#2800a5"/><stop offset="0.2357" stop-color="#0000ac"/><stop offset="0.2429" stop-color="#0000bd"/><stop offset="0.2500" stop-color="#0000ce"/><stop offset="0.2571" stop-color="#0004dd"/><stop offset="0.2643" stop-color="#002add"/><stop offset="0.2714" stop-color="#005cdd"/><stop offset="0.2786" stop-color="#0080dd"/><stop offset="0.2857" stop-color="#0090dd"/><stop offset="0.2929" stop-color="#00a2c2"/><stop offset="0.3000" stop-color="#00aa9f"/><stop offset="0.3071" stop-color="#00a24b"/><stop offset="0.3143" stop-color="#00ad00"/><stop offset="0.3214" stop-color="#00e500"/><stop offset="0.3286" stop-color="#a7ff00"/><stop offset="0.3357" stop-color="#f7dc00"/><stop offset="0.3429" stop-color="#ff8b00"/><stop offset="0.3500" stop-color="#ff1400"/><stop offset="0.3571" stop-color="#f20000"/><stop offset="0.3643" stop-color="#ff6800"/><stop offset="0.3714" stop-color="#ffac00"/><stop offset="0.3786" stop-color="#fc0"/><stop offset="0.3857" stop-color="#e6f100"/><stop offset="0.3929" stop-color="#d0f800"/><stop offset="0.4000" stop-color="#96ff00"/><stop offset="0.4071" stop-color="#bdfe00"/><stop offset="0.4143" stop-color="#a2ff00"/><stop offset="0.4214" stop-color="#56ff00"/><stop offset="0.4286" stop-color="#71ff00"/><stop offset="0.4357" stop-color="#14ff00"/><stop offset="0.4429" stop-color="#39ff00"/><stop offset="0.4500" stop-color="#1bff00"/><stop offset="0.4571" stop-color="#21ff00"/><stop offset="0.4643" stop-color="#17ff00"/><stop offset="0.4714" stop-color="#49ff00"/><stop offset="0.4786" stop-color="#54ff00"/><stop offset="0.4857" stop-color="#12ff00"/><stop offset="0.4929" stop-color="#29ff00"/><stop offset="0.5000" stop-color="#00f700"/><stop offset="0.5071" stop-color="#3dff00"/><stop offset="0.5143" stop-color="#47ff00"/><stop offset="0.5214" stop-color="#8f0"/><stop offset="0.5286" stop-color="#82ff00"/><stop offset="0.5357" stop-color="#47ff00"/><stop offset="0.5429" stop-color="#7f0"/><stop offset="0.5500" stop-color="#bdfe00"/><stop offset="0.5571" stop-color="#85ff00"/><stop offset="0.5643" stop-color="#c7fb00"/><stop offset="0.5714" stop-color="#c4fc00"/><stop offset="0.5786" stop-color="#c9fa00"/><stop offset="0.5857" stop-color="#cdf900"/><stop offset="0.5929" stop-color="#efeb00"/><stop offset="0.6000" stop-color="#def300"/><stop offset="0.6071" stop-color="#e3f200"/><stop offset="0.6143" stop-color="#e9f000"/><stop offset="0.6214" stop-color="#f3e300"/><stop offset="0.6250" stop-color="#dcf400"/><stop offset="0.6264" stop-color="#e20000"/><stop offset="0.6321" stop-color="#e20000"/><stop offset="0.6357" stop-color="#d90000"/><stop offset="0.6429" stop-color="#d80000"/><stop offset="0.6643" stop-color="#d80000"/><stop offset="0.6714" stop-color="#de0000"/><stop offset="0.6786" stop-color="#dc0000"/><stop offset="0.6857" stop-color="#e00000"/><stop offset="0.6929" stop-color="#d80000"/><stop offset="0.7000" stop-color="#d80000"/><stop offset="0.7071" stop-color="#f00000"/><stop offset="0.7143" stop-color="#f10000"/><stop offset="0.7214" stop-color="#fa0000"/><stop offset="0.7286" stop-color="#ff1c00"/><stop offset="0.7357" stop-color="#ff2700"/><stop offset="0.7429" stop-color="#ff4900"/><stop offset="0.7500" stop-color="#ff9f00"/><stop offset="0.7571" stop-color="#ffb700"/><stop offset="0.7643" stop-color="#ffae00"/><stop offset="0.7714" stop-color="#fb0"/><stop offset="0.7786" stop-color="#ffbd00"/><stop offset="0.7857" stop-color="#ffb700"/><stop offset="0.7929" stop-color="#fecf00"/><stop offset="0.8000" stop-color="#f7dd00"/><stop offset="0.8071" stop-color="#f4e300"/><stop offset="0.8143" stop-color="#f0ea00"/><stop offset="0.8214" stop-color="#cdf900"/><stop offset="0.8286" stop-color="#e0f200"/><stop offset="0.8357" stop-color="#cbfa00"/><stop offset="0.8429" stop-color="#bffe00"/><stop offset="0.8500" stop-color="#84ff00"/><stop offset="0.8571" stop-color="#1f0"/><stop offset="0.8643" stop-color="#00fa00"/><stop offset="0.8714" stop-color="#00eb00"/><stop offset="0.8786" stop-color="#00f000"/><stop offset="0.8857" stop-color="#00da00"/><stop offset="0.8929" stop-color="#00d300"/><stop offset="0.9000" stop-color="#00ce00"/><stop offset="0.9071" stop-color="#00c600"/><stop offset="0.9143" stop-color="#00c300"/><stop offset="0.9214" stop-color="#00b500"/><stop offset="0.9286" stop-color="#00ad00"/><stop offset="0.9357" stop-color="#00a900"/><stop offset="0.9429" stop-color="#00a200"/><stop offset="0.9500" stop-color="#00a000"/><stop offset="0.9571" stop-color="#009c19"/><stop offset="0.9643" stop-color="#009c00"/><stop offset="0.9714" stop-color="#009e24"/><stop offset="0.9786" stop-color="#00a560"/><stop offset="0.9857" stop-color="#00a774"/><stop offset="0.9929" stop-color="#0a8"/><stop offset="1.0000" stop-color="#00aa8f"/></linearGradient>
<linearGradient id="r19" gradientUnits="userSpaceOnUse" x1="103.5" x2="576.1" y1="0" y2="0"><stop offset="0.0000" stop-color="#000"/><stop offset="0.0214" stop-color="#000"/><stop offset="0.0286" stop-color="#030004"/><stop offset="0.0357" stop-color="#060007"/><stop offset="0.0429" stop-color="#0a000b"/><stop offset="0.0500" stop-color="#0d000f"/><stop offset="0.0571" stop-color="#120015"/><stop offset="0.0643" stop-color="#18001b"/><stop offset="0.0714" stop-color="#1d0021"/><stop offset="0.0786" stop-color="#230028"/><stop offset="0.0857" stop-color="#28002e"/><stop offset="0.0929" stop-color="#2f0035"/><stop offset="0.1000" stop-color="#36003e"/><stop offset="0.1071" stop-color="#3d0046"/><stop offset="0.1143" stop-color="#44004e"/><stop offset="0.1214" stop-color="#4f005a"/><stop offset="0.1286" stop-color="#590066"/><stop offset="0.1357" stop-color="#640072"/><stop offset="0.1429" stop-color="#6e007e"/><stop offset="0.1500" stop-color="#708"/><stop offset="0.1571" stop-color="#7a008b"/><stop offset="0.1643" stop-color="#7c008d"/><stop offset="0.1714" stop-color="#7e008f"/><stop offset="0.1786" stop-color="#800091"/><stop offset="0.1857" stop-color="#820093"/><stop offset="0.1929" stop-color="#840095"/><stop offset="0.2000" stop-color="#860097"/><stop offset="0.2071" stop-color="#84009a"/><stop offset="0.2143" stop-color="#73009c"/><stop offset="0.2214" stop-color="#55009f"/><stop offset="0.2286" stop-color="#3a00a3"/><stop offset="0.2357" stop-color="#1500a7"/><stop offset="0.2429" stop-color="#0000af"/><stop offset="0.2500" stop-color="#0000bc"/><stop offset="0.2571" stop-color="#0000c7"/><stop offset="0.2643" stop-color="#0000d1"/><stop offset="0.2714" stop-color="#0010dd"/><stop offset="0.2786" stop-color="#0042dd"/><stop offset="0.2857" stop-color="#0074dd"/><stop offset="0.2929" stop-color="#008ddd"/><stop offset="0.3000" stop-color="#009fcc"/><stop offset="0.3071" stop-color="#00aa9f"/><stop offset="0.3143" stop-color="#00a560"/><stop offset="0.3214" stop-color="#00b200"/><stop offset="0.3286" stop-color="#00e300"/><stop offset="0.3357" stop-color="#6cff00"/><stop offset="0.3429" stop-color="#ebef00"/><stop offset="0.3500" stop-color="#f8d900"/><stop offset="0.3571" stop-color="#ffca00"/><stop offset="0.3643" stop-color="#f0e900"/><stop offset="0.3714" stop-color="#d6f600"/><stop offset="0.3786" stop-color="#b7ff00"/><stop offset="0.3857" stop-color="#0f0"/><stop offset="0.3929" stop-color="#00f200"/><stop offset="0.4000" stop-color="#00e000"/><stop offset="0.4071" stop-color="#00e800"/><stop offset="0.4143" stop-color="#00e300"/><stop offset="0.4214" stop-color="#00d800"/><stop offset="0.4286" stop-color="#00dc00"/><stop offset="0.4357" stop-color="#00ce00"/><stop offset="0.4429" stop-color="#00d400"/><stop offset="0.4500" stop-color="#00d000"/><stop offset="0.4571" stop-color="#00d100"/><stop offset="0.4643" stop-color="#00d000"/><stop offset="0.4714" stop-color="#00d800"/><stop offset="0.4786" stop-color="#00da00"/><stop offset="0.4857" stop-color="#00d000"/><stop offset="0.4929" stop-color="#00d300"/><stop offset="0.5000" stop-color="#00c600"/><stop offset="0.5071" stop-color="#00d600"/><stop offset="0.5143" stop-color="#00d800"/><stop offset="0.5214" stop-color="#00e200"/><stop offset="0.5286" stop-color="#00e100"/><stop offset="0.5357" stop-color="#00d800"/><stop offset="0.5429" stop-color="#00e000"/><stop offset="0.5500" stop-color="#00ec00"/><stop offset="0.5571" stop-color="#00e200"/><stop offset="0.5643" stop-color="#00f200"/><stop offset="0.5714" stop-color="#00f000"/><stop offset="0.5786" stop-color="#00f300"/><stop offset="0.5857" stop-color="#00f500"/><stop offset="0.5929" stop-color="#41ff00"/><stop offset="0.6000" stop-color="#0f0"/><stop offset="0.6071" stop-color="#10ff00"/><stop offset="0.6143" stop-color="#24ff00"/><stop offset="0.6214" stop-color="#6f0"/><stop offset="0.6250" stop-color="#00fe00"/><stop offset="0.6264" stop-color="#ff6c00"/><stop offset="0.6321" stop-color="#ff6c00"/><stop offset="0.6357" stop-color="#f30"/><stop offset="0.6429" stop-color="#ff2400"/><stop offset="0.6500" stop-color="#fc0000"/><stop offset="0.6571" stop-color="#fe0000"/><stop offset="0.6643" stop-color="#fc0000"/><stop offset="0.6714" stop-color="#ff5800"/><stop offset="0.6786" stop-color="#ff4e00"/><stop offset="0.6857" stop-color="#ff6200"/><stop offset="0.6929" stop-color="#ff1e00"/><stop offset="0.7000" stop-color="#ff1e00"/><stop offset="0.7071" stop-color="#ff9c00"/><stop offset="0.7143" stop-color="#ff9e00"/><stop offset="0.7214" stop-color="#ffab00"/><stop offset="0.7286" stop-color="#ffba00"/><stop offset="0.7357" stop-color="#ffbd00"/><stop offset="0.7429" stop-color="#ffc700"/><stop offset="0.7500" stop-color="#f6dd00"/><stop offset="0.7571" stop-color="#efeb00"/><stop offset="0.7643" stop-color="#f2e600"/><stop offset="0.7714" stop-color="#ee0"/><stop offset="0.7786" stop-color="#ecef00"/><stop offset="0.7857" stop-color="#efeb00"/><stop offset="0.7929" stop-color="#dbf400"/><stop offset="0.8000" stop-color="#c8fb00"/><stop offset="0.8071" stop-color="#c0fd00"/><stop offset="0.8143" stop-color="#a9ff00"/><stop offset="0.8214" stop-color="#26ff00"/><stop offset="0.8286" stop-color="#6f0"/><stop offset="0.8357" stop-color="#20ff00"/><stop offset="0.8429" stop-color="#00fd00"/><stop offset="0.8500" stop-color="#00f200"/><stop offset="0.8571" stop-color="#00de00"/><stop offset="0.8643" stop-color="#00d700"/><stop offset="0.8714" stop-color="#00ca00"/><stop offset="0.8786" stop-color="#00ce00"/><stop offset="0.8857" stop-color="#00ba00"/><stop offset="0.8929" stop-color="#00b300"/><stop offset="0.9000" stop-color="#00af00"/><stop offset="0.9071" stop-color="#00a800"/><stop offset="0.9143" stop-color="#00a400"/><stop offset="0.9214" stop-color="#009903"/><stop offset="0.9286" stop-color="#009d21"/><stop offset="0.9357" stop-color="#009f2f"/><stop offset="0.9429" stop-color="#00a24b"/><stop offset="0.9500" stop-color="#00a351"/><stop offset="0.9571" stop-color="#00a981"/><stop offset="0.9643" stop-color="#00a561"/><stop offset="0.9714" stop-color="#00aa89"/><stop offset="0.9786" stop-color="#00aa96"/><stop offset="0.9857" stop-color="#00aa9b"/><stop offset="0.9929" stop-color="#00aaa0"/><stop offset="1.0000" stop-color="#00aaa6"/></linearGradient>
<linearGradient id="r20" gradientUnits="userSpaceOnUse" x1="103.5" x2="576.1" y1="0" y2="0"><stop offset="0.0000" stop-color="#000"/><stop offset="0.0214" stop-color="#000"/><stop offset="0.0286" stop-color="#010002"/><stop offset="0.0357" stop-color="#040004"/><stop offset="0.0429" stop-color="#060007"/><stop offset="0.0500" stop-color="#09000a"/><stop offset="0.0571" stop-color="#0e000f"/><stop offset="0.0643" stop-color="#130015"/><stop offset="0.0714" stop-color="#18001b"/><stop offset="0.0786" stop-color="#1d0021"/><stop offset="0.0857" stop-color="#230028"/><stop offset="0.0929" stop-color="#29002e"/><stop offset="0.1000" stop-color="#2f0036"/><stop offset="0.1071" stop-color="#36003e"/><stop offset="0.1143" stop-color="#3d0045"/><stop offset="0.1214" stop-color="#460050"/><stop offset="0.1286" stop-color="#50005b"/><stop offset="0.1357" stop-color="#590066"/><stop offset="0.1429" stop-color="#630071"/><stop offset="0.1500" stop-color="#6f007e"/><stop offset="0.1571" stop-color="#780089"/><stop offset="0.1643" stop-color="#7a008b"/><stop offset="0.1714" stop-color="#7c008d"/><stop offset="0.1786" stop-color="#7e008f"/><stop offset="0.1857" stop-color="#800091"/><stop offset="0.1929" stop-color="#830094"/><stop offset="0.2000" stop-color="#850096"/><stop offset="0.2071" stop-color="#870098"/><stop offset="0.2143" stop-color="#7e009a"/><stop offset="0.2214" stop-color="#66009d"/><stop offset="0.2286" stop-color="#5100a0"/><stop offset="0.2357" stop-color="#3400a3"/><stop offset="0.2429" stop-color="#1c00a6"/><stop offset="0.2500" stop-color="#0900a9"/><stop offset="0.2571" stop-color="#0000ac"/><stop offset="0.2643" stop-color="#0000b0"/><stop offset="0.2714" stop-color="#0000bf"/><stop offset="0.2786" stop-color="#0000d1"/><stop offset="0.2857" stop-color="#000edd"/><stop offset="0.2929" stop-color="#0051dd"/><stop offset="0.3000" stop-color="#007fdd"/><stop offset="0.3071" stop-color="#009ada"/><stop offset="0.3143" stop-color="#00a8b1"/><stop offset="0.3214" stop-color="#00a982"/><stop offset="0.3286" stop-color="#00a100"/><stop offset="0.3357" stop-color="#00c900"/><stop offset="0.3429" stop-color="#00ef00"/><stop offset="0.3500" stop-color="#0fff00"/><stop offset="0.3571" stop-color="#53ff00"/><stop offset="0.3643" stop-color="#00f400"/><stop offset="0.3714" stop-color="#00e300"/><stop offset="0.3786" stop-color="#00d400"/><stop offset="0.3857" stop-color="#00b800"/><stop offset="0.3929" stop-color="#00ad00"/><stop offset="0.4000" stop-color="#00a000"/><stop offset="0.4071" stop-color="#00a700"/><stop offset="0.4143" stop-color="#00a300"/><stop offset="0.4214" stop-color="#009a00"/><stop offset="0.4286" stop-color="#009f00"/><stop offset="0.4357" stop-color="#009c16"/><stop offset="0.4429" stop-color="#090"/><stop offset="0.4500" stop-color="#009a0b"/><stop offset="0.4571" stop-color="#009a05"/><stop offset="0.4643" stop-color="#009a07"/><stop offset="0.4714" stop-color="#009e00"/><stop offset="0.4786" stop-color="#00a000"/><stop offset="0.4857" stop-color="#009a09"/><stop offset="0.4929" stop-color="#009a00"/><stop offset="0.5000" stop-color="#009e2a"/><stop offset="0.5071" stop-color="#009c00"/><stop offset="0.5143" stop-color="#009e00"/><stop offset="0.5214" stop-color="#00a700"/><stop offset="0.5286" stop-color="#00a600"/><stop offset="0.5357" stop-color="#009e00"/><stop offset="0.5429" stop-color="#00a400"/><stop offset="0.5500" stop-color="#00ae00"/><stop offset="0.5571" stop-color="#00a600"/><stop offset="0.5643" stop-color="#00b300"/><stop offset="0.5714" stop-color="#00b200"/><stop offset="0.5786" stop-color="#00b400"/><stop offset="0.5857" stop-color="#00b600"/><stop offset="0.5929" stop-color="#00c900"/><stop offset="0.6000" stop-color="#00bf00"/><stop offset="0.6071" stop-color="#00c100"/><stop offset="0.6143" stop-color="#00c400"/><stop offset="0.6214" stop-color="#00ce00"/><stop offset="0.6250" stop-color="#00be00"/><stop offset="0.6264" stop-color="#eaef00"/><stop offset="0.6321" stop-color="#eaef00"/><stop offset="0.6357" stop-color="#f2e600"/><stop offset="0.6429" stop-color="#f4e300"/><stop offset="0.6500" stop-color="#f8d900"/><stop offset="0.6571" stop-color="#f8db00"/><stop offset="0.6643" stop-color="#f8da00"/><stop offset="0.6714" stop-color="#efed00"/><stop offset="0.6786" stop-color="#f0eb00"/><stop offset="0.6857" stop-color="#edee00"/><stop offset="0.6929" stop-color="#f4e200"/><stop offset="0.7000" stop-color="#f4e200"/><stop offset="0.7071" stop-color="#dbf400"/><stop offset="0.7143" stop-color="#d9f500"/><stop offset="0.7214" stop-color="#cff800"/><stop offset="0.7286" stop-color="#c2fd00"/><stop offset="0.7357" stop-color="#bffe00"/><stop offset="0.7429" stop-color="#a8ff00"/><stop offset="0.7500" stop-color="#4aff00"/><stop offset="0.7571" stop-color="#06ff00"/><stop offset="0.7643" stop-color="#20ff00"/><stop offset="0.7714" stop-color="#00fe00"/><stop offset="0.7786" stop-color="#00fd00"/><stop offset="0.7857" stop-color="#06ff00"/><stop offset="0.7929" stop-color="#00f300"/><stop offset="0.8000" stop-color="#00e800"/><stop offset="0.8071" stop-color="#00e400"/><stop offset="0.8143" stop-color="#00de00"/><stop offset="0.8214" stop-color="#00ca00"/><stop offset="0.8286" stop-color="#00d400"/><stop offset="0.8357" stop-color="#00c900"/><stop offset="0.8429" stop-color="#00c200"/><stop offset="0.8500" stop-color="#00b800"/><stop offset="0.8571" stop-color="#00a800"/><stop offset="0.8643" stop-color="#00a200"/><stop offset="0.8714" stop-color="#009a0c"/><stop offset="0.8786" stop-color="#009a00"/><stop offset="0.8857" stop-color="#00a140"/><stop offset="0.8929" stop-color="#00a458"/><stop offset="0.9000" stop-color="#00a665"/><stop offset="0.9071" stop-color="#00a97f"/><stop offset="0.9143" stop-color="#00aa89"/><stop offset="0.9214" stop-color="#00aa93"/><stop offset="0.9286" stop-color="#00aa9a"/><stop offset="0.9357" stop-color="#00aa9c"/><stop offset="0.9429" stop-color="#00aaa2"/><stop offset="0.9500" stop-color="#00aaa4"/><stop offset="0.9571" stop-color="#00a8b0"/><stop offset="0.9643" stop-color="#00aaa7"/><stop offset="0.9714" stop-color="#00a7b3"/><stop offset="0.9786" stop-color="#00a1c5"/><stop offset="0.9857" stop-color="#009fcb"/><stop offset="0.9929" stop-color="#009dd1"/><stop offset="1.0000" stop-color="#009bd8"/></linearGradient>
<linearGradient id="r21" gradientUnits="userSpaceOnUse" x1="103.5" x2="576.1" y1="0" y2="0"><stop offset="0.0000" stop-color="#000"/><stop offset="0.0429" stop-color="#000"/><stop offset="0.0500" stop-color="#020002"/><stop offset="0.0571" stop-color="#060007"/><stop offset="0.0643" stop-color="#0b000c"/><stop offset="0.0714" stop-color="#0f0011"/><stop offset="0.0786" stop-color="#140016"/><stop offset="0.0857" stop-color="#18001c"/><stop offset="0.0929" stop-color="#1e0022"/><stop offset="0.1000" stop-color="#240029"/><stop offset="0.1071" stop-color="#29002f"/><stop offset="0.1143" stop-color="#300036"/><stop offset="0.1214" stop-color="#380040"/><stop offset="0.1286" stop-color="#40004a"/><stop offset="0.1357" stop-color="#490053"/><stop offset="0.1429" stop-color="#52005e"/><stop offset="0.1500" stop-color="#5d006a"/><stop offset="0.1571" stop-color="#6a0079"/><stop offset="0.1643" stop-color="#708"/><stop offset="0.1714" stop-color="#79008a"/><stop offset="0.1786" stop-color="#7b008c"/><stop offset="0.1857" stop-color="#7d008e"/><stop offset="0.1929" stop-color="#7f0090"/><stop offset="0.2000" stop-color="#810092"/><stop offset="0.2071" stop-color="#830094"/><stop offset="0.2143" stop-color="#860097"/><stop offset="0.2214" stop-color="#870099"/><stop offset="0.2286" stop-color="#77009b"/><stop offset="0.2357" stop-color="#61009e"/><stop offset="0.2429" stop-color="#5100a0"/><stop offset="0.2500" stop-color="#4600a1"/><stop offset="0.2571" stop-color="#4100a2"/><stop offset="0.2643" stop-color="#4100a2"/><stop offset="0.2714" stop-color="#2000a6"/><stop offset="0.2786" stop-color="#0000ac"/><stop offset="0.2857" stop-color="#00b"/><stop offset="0.2929" stop-color="#0000d2"/><stop offset="0.3000" stop-color="#001cdd"/><stop offset="0.3071" stop-color="#006add"/><stop offset="0.3143" stop-color="#008add"/><stop offset="0.3214" stop-color="#00a2c3"/><stop offset="0.3286" stop-color="#00aa9a"/><stop offset="0.3357" stop-color="#00a350"/><stop offset="0.3429" stop-color="#00a400"/><stop offset="0.3500" stop-color="#00b300"/><stop offset="0.3571" stop-color="#00bd00"/><stop offset="0.3643" stop-color="#00a800"/><stop offset="0.3714" stop-color="#009b00"/><stop offset="0.3786" stop-color="#009e2b"/><stop offset="0.3857" stop-color="#00aa85"/><stop offset="0.3929" stop-color="#00aa90"/><stop offset="0.4000" stop-color="#00aa9b"/><stop offset="0.4071" stop-color="#00aa96"/><stop offset="0.4143" stop-color="#0a9"/><stop offset="0.4214" stop-color="#00aaa1"/><stop offset="0.4286" stop-color="#00aa9e"/><stop offset="0.4357" stop-color="#00aaa7"/><stop offset="0.4429" stop-color="#00aaa3"/><stop offset="0.4500" stop-color="#00aaa6"/><stop offset="0.4571" stop-color="#00aaa5"/><stop offset="0.4643" stop-color="#00aaa5"/><stop offset="0.4714" stop-color="#00aaa0"/><stop offset="0.4786" stop-color="#00aa9f"/><stop offset="0.4857" stop-color="#00aaa6"/><stop offset="0.4929" stop-color="#00aaa3"/><stop offset="0.5000" stop-color="#00a9ae"/><stop offset="0.5071" stop-color="#00aaa1"/><stop offset="0.5143" stop-color="#00aaa0"/><stop offset="0.5214" stop-color="#0a9"/><stop offset="0.5286" stop-color="#00aa9a"/><stop offset="0.5357" stop-color="#00aaa0"/><stop offset="0.5429" stop-color="#00aa9b"/><stop offset="0.5500" stop-color="#00aa93"/><stop offset="0.5571" stop-color="#00aa9a"/><stop offset="0.5643" stop-color="#00aa8f"/><stop offset="0.5714" stop-color="#00aa90"/><stop offset="0.5786" stop-color="#00aa8e"/><stop offset="0.5857" stop-color="#00aa8d"/><stop offset="0.5929" stop-color="#00a561"/><stop offset="0.6000" stop-color="#00a980"/><stop offset="0.6071" stop-color="#00a878"/><stop offset="0.6143" stop-color="#00a76f"/><stop offset="0.6214" stop-color="#00a34f"/><stop offset="0.6250" stop-color="#00a984"/><stop offset="0.6264" stop-color="#00e700"/><stop offset="0.6321" stop-color="#00e700"/><stop offset="0.6357" stop-color="#00f000"/><stop offset="0.6429" stop-color="#00f200"/><stop offset="0.6500" stop-color="#00fa00"/><stop offset="0.6571" stop-color="#00f900"/><stop offset="0.6643" stop-color="#00fa00"/><stop offset="0.6714" stop-color="#00ea00"/><stop offset="0.6786" stop-color="#00ec00"/><stop offset="0.6857" stop-color="#00e900"/><stop offset="0.6929" stop-color="#00f300"/><stop offset="0.7000" stop-color="#00f300"/><stop offset="0.7071" stop-color="#00df00"/><stop offset="0.7143" stop-color="#00de00"/><stop offset="0.7214" stop-color="#00d800"/><stop offset="0.7286" stop-color="#00d100"/><stop offset="0.7357" stop-color="#00d000"/><stop offset="0.7429" stop-color="#00cb00"/><stop offset="0.7500" stop-color="#00bd00"/><stop offset="0.7571" stop-color="#00b300"/><stop offset="0.7643" stop-color="#00b700"/><stop offset="0.7714" stop-color="#00b100"/><stop offset="0.7786" stop-color="#00b000"/><stop offset="0.7857" stop-color="#00b300"/><stop offset="0.7929" stop-color="#00a800"/><stop offset="0.8000" stop-color="#009f00"/><stop offset="0.8071" stop-color="#009c00"/><stop offset="0.8143" stop-color="#009a07"/><stop offset="0.8214" stop-color="#00a249"/><stop offset="0.8286" stop-color="#009e29"/><stop offset="0.8357" stop-color="#00a34c"/><stop offset="0.8429" stop-color="#00a561"/><stop offset="0.8500" stop-color="#00a982"/><stop offset="0.8571" stop-color="#00aa94"/><stop offset="0.8643" stop-color="#0a9"/><stop offset="0.8714" stop-color="#00aaa2"/><stop offset="0.8786" stop-color="#00aa9f"/><stop offset="0.8857" stop-color="#00a9ae"/><stop offset="0.8929" stop-color="#00a6b5"/><stop offset="0.9000" stop-color="#00a5b9"/><stop offset="0.9071" stop-color="#00a2c1"/><stop offset="0.9143" stop-color="#00a1c5"/><stop offset="0.9214" stop-color="#009dd1"/><stop offset="0.9286" stop-color="#009ad9"/><stop offset="0.9357" stop-color="#09d"/><stop offset="0.9429" stop-color="#0094dd"/><stop offset="0.9500" stop-color="#0093dd"/><stop offset="0.9571" stop-color="#008bdd"/><stop offset="0.9643" stop-color="#0090dd"/><stop offset="0.9714" stop-color="#0089dd"/><stop offset="0.9786" stop-color="#0080dd"/><stop offset="0.9857" stop-color="#007ddd"/><stop offset="0.9929" stop-color="#0079dd"/><stop offset="1.0000" stop-color="#0070dd"/></linearGradient>
<linearGradient id="r22" gradientUnits="userSpaceOnUse" x1="103.5" x2="576.1" y1="0" y2="0"><stop offset="0.0000" stop-color="#000"/><stop offset="0.0714" stop-color="#000"/><stop offset="0.0786" stop-color="#050006"/><stop offset="0.0857" stop-color="#0c000d"/><stop offset="0.0929" stop-color="#120015"/><stop offset="0.1000" stop-color="#17001b"/><stop offset="0.1071" stop-color="#1c0020"/><stop offset="0.1143" stop-color="#220026"/><stop offset="0.1214" stop-color="#29002e"/><stop offset="0.1286" stop-color="#300037"/><stop offset="0.1357" stop-color="#37003f"/><stop offset="0.1429" stop-color="#3f0048"/><stop offset="0.1500" stop-color="#490054"/><stop offset="0.1571" stop-color="#550061"/><stop offset="0.1643" stop-color="#620070"/><stop offset="0.1714" stop-color="#6e007e"/><stop offset="0.1786" stop-color="#780089"/><stop offset="0.1857" stop-color="#7a008b"/><stop offset="0.1929" stop-color="#7c008d"/><stop offset="0.2000" stop-color="#7e008f"/><stop offset="0.2071" stop-color="#800091"/><stop offset="0.2143" stop-color="#820093"/><stop offset="0.2214" stop-color="#840095"/><stop offset="0.2286" stop-color="#850096"/><stop offset="0.2357" stop-color="#809"/><stop offset="0.2429" stop-color="#80009a"/><stop offset="0.2500" stop-color="#7a009b"/><stop offset="0.2571" stop-color="#7c009b"/><stop offset="0.2643" stop-color="#83009a"/><stop offset="0.2714" stop-color="#69009d"/><stop offset="0.2786" stop-color="#4a00a1"/><stop offset="0.2857" stop-color="#2b00a5"/><stop offset="0.2929" stop-color="#0000ad"/><stop offset="0.3000" stop-color="#0000bf"/><stop offset="0.3071" stop-color="#0000da"/><stop offset="0.3143" stop-color="#0039dd"/><stop offset="0.3214" stop-color="#0080dd"/><stop offset="0.3286" stop-color="#0099dc"/><stop offset="0.3357" stop-color="#00a6b5"/><stop offset="0.3429" stop-color="#00aa98"/><stop offset="0.3500" stop-color="#00aa8c"/><stop offset="0.3571" stop-color="#00a878"/><stop offset="0.3643" stop-color="#00aa95"/><stop offset="0.3714" stop-color="#00aaa0"/><stop offset="0.3786" stop-color="#0aa"/><stop offset="0.3857" stop-color="#00a1c5"/><stop offset="0.3929" stop-color="#009dd0"/><stop offset="0.4000" stop-color="#0099dc"/><stop offset="0.4071" stop-color="#009cd5"/><stop offset="0.4143" stop-color="#009bd8"/><stop offset="0.4214" stop-color="#0097dd"/><stop offset="0.4286" stop-color="#009adb"/><stop offset="0.4357" stop-color="#0093dd"/><stop offset="0.4429" stop-color="#0097dd"/><stop offset="0.4500" stop-color="#0095dd"/><stop offset="0.4571" stop-color="#0097dd"/><stop offset="0.4643" stop-color="#0097dd"/><stop offset="0.4714" stop-color="#009ada"/><stop offset="0.4786" stop-color="#009bd8"/><stop offset="0.4857" stop-color="#0096dd"/><stop offset="0.4929" stop-color="#0098dd"/><stop offset="0.5000" stop-color="#0091dd"/><stop offset="0.5071" stop-color="#009adb"/><stop offset="0.5143" stop-color="#009ada"/><stop offset="0.5214" stop-color="#009dd1"/><stop offset="0.5286" stop-color="#009dd2"/><stop offset="0.5357" stop-color="#009ada"/><stop offset="0.5429" stop-color="#009cd4"/><stop offset="0.5500" stop-color="#009fca"/><stop offset="0.5571" stop-color="#009dd2"/><stop offset="0.5643" stop-color="#00a1c5"/><stop offset="0.5714" stop-color="#00a1c6"/><stop offset="0.5786" stop-color="#00a1c4"/><stop offset="0.5857" stop-color="#00a2c1"/><stop offset="0.5929" stop-color="#00a8af"/><stop offset="0.6000" stop-color="#00a5b9"/><stop offset="0.6071" stop-color="#00a6b7"/><stop offset="0.6143" stop-color="#00a7b4"/><stop offset="0.6214" stop-color="#0aa"/><stop offset="0.6250" stop-color="#00a5ba"/><stop offset="0.6264" stop-color="#00a300"/><stop offset="0.6321" stop-color="#00a300"/><stop offset="0.6357" stop-color="#0a0"/><stop offset="0.6429" stop-color="#00ac00"/><stop offset="0.6500" stop-color="#00b200"/><stop offset="0.6571" stop-color="#00b100"/><stop offset="0.6643" stop-color="#00b200"/><stop offset="0.6714" stop-color="#00a500"/><stop offset="0.6786" stop-color="#00a600"/><stop offset="0.6857" stop-color="#00a400"/><stop offset="0.6929" stop-color="#00ac00"/><stop offset="0.7000" stop-color="#00ac00"/><stop offset="0.7071" stop-color="#009c00"/><stop offset="0.7143" stop-color="#009b00"/><stop offset="0.7214" stop-color="#009a0b"/><stop offset="0.7286" stop-color="#009d22"/><stop offset="0.7357" stop-color="#009e27"/><stop offset="0.7429" stop-color="#00a037"/><stop offset="0.7500" stop-color="#00a665"/><stop offset="0.7571" stop-color="#00aa86"/><stop offset="0.7643" stop-color="#00a879"/><stop offset="0.7714" stop-color="#00aa89"/><stop offset="0.7786" stop-color="#00aa8a"/><stop offset="0.7857" stop-color="#00aa85"/><stop offset="0.7929" stop-color="#00aa90"/><stop offset="0.8000" stop-color="#00aa97"/><stop offset="0.8071" stop-color="#00aa9a"/><stop offset="0.8143" stop-color="#00aa9e"/><stop offset="0.8214" stop-color="#00a9ad"/><stop offset="0.8286" stop-color="#00aaa5"/><stop offset="0.8357" stop-color="#00a9ae"/><stop offset="0.8429" stop-color="#00a7b4"/><stop offset="0.8500" stop-color="#00a3be"/><stop offset="0.8571" stop-color="#009ece"/><stop offset="0.8643" stop-color="#009cd4"/><stop offset="0.8714" stop-color="#0097dd"/><stop offset="0.8786" stop-color="#09d"/><stop offset="0.8857" stop-color="#008edd"/><stop offset="0.8929" stop-color="#008add"/><stop offset="0.9000" stop-color="#08d"/><stop offset="0.9071" stop-color="#0084dd"/><stop offset="0.9143" stop-color="#0082dd"/><stop offset="0.9214" stop-color="#007bdd"/><stop offset="0.9286" stop-color="#0075dd"/><stop offset="0.9357" stop-color="#006fdd"/><stop offset="0.9429" stop-color="#0061dd"/><stop offset="0.9500" stop-color="#005edd"/><stop offset="0.9571" stop-color="#0046dd"/><stop offset="0.9643" stop-color="#0056dd"/><stop offset="0.9714" stop-color="#0041dd"/><stop offset="0.9786" stop-color="#0025dd"/><stop offset="0.9857" stop-color="#001cdd"/><stop offset="0.9929" stop-color="#0013dd"/><stop offset="1.0000" stop-color="#0007dd"/></linearGradient>
<linearGradient id="r23" gradientUnits="userSpaceOnUse" x1="103.5" x2="576.1" y1="0" y2="0"><stop offset="0.0000" stop-color="#000"/><stop offset="0.1000" stop-color="#000"/><stop offset="0.1071" stop-color="#050006"/><stop offset="0.1143" stop-color="#0b000c"/><stop offset="0.1214" stop-color="#120014"/><stop offset="0.1286" stop-color="#1a001e"/><stop offset="0.1357" stop-color="#230028"/><stop offset="0.1429" stop-color="#2c0033"/><stop offset="0.1500" stop-color="#35003d"/><stop offset="0.1571" stop-color="#400049"/><stop offset="0.1643" stop-color="#4b0056"/><stop offset="0.1714" stop-color="#570063"/><stop offset="0.1786" stop-color="#630071"/><stop offset="0.1857" stop-color="#6f007f"/><stop offset="0.1929" stop-color="#780089"/><stop offset="0.2000" stop-color="#7a008b"/><stop offset="0.2071" stop-color="#7b008c"/><stop offset="0.2143" stop-color="#7d008e"/><stop offset="0.2214" stop-color="#7f0090"/><stop offset="0.2286" stop-color="#800091"/><stop offset="0.2357" stop-color="#820093"/><stop offset="0.2500" stop-color="#820093"/><stop offset="0.2571" stop-color="#810092"/><stop offset="0.2643" stop-color="#7f0090"/><stop offset="0.2714" stop-color="#820093"/><stop offset="0.2786" stop-color="#850096"/><stop offset="0.2857" stop-color="#809"/><stop offset="0.2929" stop-color="#67009d"/><stop offset="0.3000" stop-color="#4200a2"/><stop offset="0.3071" stop-color="#0d00a8"/><stop offset="0.3143" stop-color="#0000b9"/><stop offset="0.3214" stop-color="#0000d6"/><stop offset="0.3286" stop-color="#0034dd"/><stop offset="0.3357" stop-color="#0076dd"/><stop offset="0.3429" stop-color="#0089dd"/><stop offset="0.3500" stop-color="#0092dd"/><stop offset="0.3571" stop-color="#0098dd"/><stop offset="0.3643" stop-color="#008cdd"/><stop offset="0.3714" stop-color="#0084dd"/><stop offset="0.3786" stop-color="#007cdd"/><stop offset="0.3857" stop-color="#005bdd"/><stop offset="0.3929" stop-color="#0048dd"/><stop offset="0.4000" stop-color="#0034dd"/><stop offset="0.4071" stop-color="#0041dd"/><stop offset="0.4143" stop-color="#003edd"/><stop offset="0.4214" stop-color="#0030dd"/><stop offset="0.4286" stop-color="#003add"/><stop offset="0.4357" stop-color="#0028dd"/><stop offset="0.4429" stop-color="#0034dd"/><stop offset="0.4500" stop-color="#0031dd"/><stop offset="0.4571" stop-color="#0035dd"/><stop offset="0.4643" stop-color="#0036dd"/><stop offset="0.4714" stop-color="#0042dd"/><stop offset="0.4786" stop-color="#0045dd"/><stop offset="0.4857" stop-color="#0035dd"/><stop offset="0.4929" stop-color="#003bdd"/><stop offset="0.5000" stop-color="#0027dd"/><stop offset="0.5071" stop-color="#003fdd"/><stop offset="0.5143" stop-color="#0042dd"/><stop offset="0.5214" stop-color="#0051dd"/><stop offset="0.5286" stop-color="#004fdd"/><stop offset="0.5357" stop-color="#0042dd"/><stop offset="0.5429" stop-color="#004ddd"/><stop offset="0.5500" stop-color="#005edd"/><stop offset="0.5571" stop-color="#0050dd"/><stop offset="0.5643" stop-color="#0067dd"/><stop offset="0.5714" stop-color="#0065dd"/><stop offset="0.5786" stop-color="#0069dd"/><stop offset="0.5857" stop-color="#006ddd"/><stop offset="0.5929" stop-color="#007ddd"/><stop offset="0.6000" stop-color="#0078dd"/><stop offset="0.6071" stop-color="#0079dd"/><stop offset="0.6143" stop-color="#007bdd"/><stop offset="0.6214" stop-color="#0080dd"/><stop offset="0.6250" stop-color="#0078dd"/><stop offset="0.6264" stop-color="#00aaa2"/><stop offset="0.6321" stop-color="#00aaa2"/><stop offset="0.6357" stop-color="#00aa9c"/><stop offset="0.6429" stop-color="#00aa9b"/><stop offset="0.6500" stop-color="#00aa95"/><stop offset="0.6571" stop-color="#00aa96"/><stop offset="0.6643" stop-color="#00aa96"/><stop offset="0.6714" stop-color="#00aaa0"/><stop offset="0.6786" stop-color="#00aa9f"/><stop offset="0.6857" stop-color="#00aaa1"/><stop offset="0.6929" stop-color="#00aa9a"/><stop offset="0.7000" stop-color="#00aa9a"/><stop offset="0.7071" stop-color="#00aaa7"/><stop offset="0.7143" stop-color="#00aaa8"/><stop offset="0.7214" stop-color="#00a9ac"/><stop offset="0.7286" stop-color="#00a7b3"/><stop offset="0.7357" stop-color="#00a7b4"/><stop offset="0.7429" stop-color="#00a5b9"/><stop offset="0.7500" stop-color="#00a1c6"/><stop offset="0.7571" stop-color="#009dd0"/><stop offset="0.7643" stop-color="#009fcc"/><stop offset="0.7714" stop-color="#009dd2"/><stop offset="0.7786" stop-color="#009dd2"/><stop offset="0.7857" stop-color="#009dd0"/><stop offset="0.7929" stop-color="#009ada"/><stop offset="0.8000" stop-color="#0095dd"/><stop offset="0.8071" stop-color="#0093dd"/><stop offset="0.8143" stop-color="#0090dd"/><stop offset="0.8214" stop-color="#0085dd"/><stop offset="0.8286" stop-color="#008bdd"/><stop offset="0.8357" stop-color="#0085dd"/><stop offset="0.8429" stop-color="#0082dd"/><stop offset="0.8500" stop-color="#007cdd"/><stop offset="0.8571" stop-color="#006cdd"/><stop offset="0.8643" stop-color="#0061dd"/><stop offset="0.8714" stop-color="#004cdd"/><stop offset="0.8786" stop-color="#0052dd"/><stop offset="0.8857" stop-color="#0034dd"/><stop offset="0.8929" stop-color="#0029dd"/><stop offset="0.9000" stop-color="#0023dd"/><stop offset="0.9071" stop-color="#0017dd"/><stop offset="0.9143" stop-color="#0012dd"/><stop offset="0.9214" stop-color="#00d"/><stop offset="0.9286" stop-color="#0000d8"/><stop offset="0.9357" stop-color="#0000d5"/><stop offset="0.9429" stop-color="#0000d1"/><stop offset="0.9500" stop-color="#0000d0"/><stop offset="0.9571" stop-color="#0000c8"/><stop offset="0.9643" stop-color="#0000cd"/><stop offset="0.9714" stop-color="#0000c6"/><stop offset="0.9786" stop-color="#0000bd"/><stop offset="0.9857" stop-color="#0000ba"/><stop offset="0.9929" stop-color="#0000b7"/><stop offset="1.0000" stop-color="#0000b3"/></linearGradient>
<linearGradient id="r24" gradientUnits="userSpaceOnUse" x1="103.5" x2="576.1" y1="0" y2="0"><stop offset="0.0000" stop-color="#000"/><stop offset="0.1357" stop-color="#000"/><stop offset="0.1429" stop-color="#070008"/><stop offset="0.1500" stop-color="#110013"/><stop offset="0.1571" stop-color="#1d0021"/><stop offset="0.1643" stop-color="#2a0030"/><stop offset="0.1714" stop-color="#390041"/><stop offset="0.1786" stop-color="#490053"/><stop offset="0.1857" stop-color="#550061"/><stop offset="0.1929" stop-color="#60006e"/><stop offset="0.2000" stop-color="#6c007c"/><stop offset="0.2071" stop-color="#708"/><stop offset="0.2143" stop-color="#79008a"/><stop offset="0.2214" stop-color="#7b008c"/><stop offset="0.2286" stop-color="#7c008d"/><stop offset="0.2357" stop-color="#7e008f"/><stop offset="0.2500" stop-color="#7e008f"/><stop offset="0.2571" stop-color="#7d008e"/><stop offset="0.2643" stop-color="#7c008d"/><stop offset="0.2714" stop-color="#7e008f"/><stop offset="0.2786" stop-color="#800091"/><stop offset="0.2857" stop-color="#830094"/><stop offset="0.2929" stop-color="#870098"/><stop offset="0.3000" stop-color="#74009c"/><stop offset="0.3071" stop-color="#4600a1"/><stop offset="0.3143" stop-color="#1f00a6"/><stop offset="0.3214" stop-color="#0000b4"/><stop offset="0.3286" stop-color="#0000c9"/><stop offset="0.3357" stop-color="#0000dc"/><stop offset="0.3429" stop-color="#0028dd"/><stop offset="0.3500" stop-color="#0037dd"/><stop offset="0.3571" stop-color="#003ddd"/><stop offset="0.3643" stop-color="#0012dd"/><stop offset="0.3714" stop-color="#0000d8"/><stop offset="0.3786" stop-color="#00c"/><stop offset="0.3857" stop-color="#0000be"/><stop offset="0.3929" stop-color="#0000b8"/><stop offset="0.4000" stop-color="#0000b2"/><stop offset="0.4071" stop-color="#0000b6"/><stop offset="0.4143" stop-color="#0000b4"/><stop offset="0.4214" stop-color="#0000b0"/><stop offset="0.4286" stop-color="#0000b3"/><stop offset="0.4357" stop-color="#0000ad"/><stop offset="0.4429" stop-color="#0000b0"/><stop offset="0.4500" stop-color="#0000af"/><stop offset="0.4571" stop-color="#0000b0"/><stop offset="0.4643" stop-color="#0000b1"/><stop offset="0.4714" stop-color="#0000b4"/><stop offset="0.4786" stop-color="#0000b5"/><stop offset="0.4857" stop-color="#0000b0"/><stop offset="0.4929" stop-color="#0000b2"/><stop offset="0.5000" stop-color="#0000ac"/><stop offset="0.5071" stop-color="#0000b3"/><stop offset="0.5143" stop-color="#0000b4"/><stop offset="0.5214" stop-color="#0000b8"/><stop offset="0.5286" stop-color="#0000b8"/><stop offset="0.5357" stop-color="#0000b4"/><stop offset="0.5429" stop-color="#0000b7"/><stop offset="0.5500" stop-color="#0000bd"/><stop offset="0.5571" stop-color="#0000b8"/><stop offset="0.5643" stop-color="#0000bf"/><stop offset="0.5714" stop-color="#0000be"/><stop offset="0.5786" stop-color="#0000c0"/><stop offset="0.5857" stop-color="#0000c1"/><stop offset="0.5929" stop-color="#0000ca"/><stop offset="0.6000" stop-color="#0000c5"/><stop offset="0.6071" stop-color="#0000c6"/><stop offset="0.6143" stop-color="#0000c8"/><stop offset="0.6214" stop-color="#0000cd"/><stop offset="0.6250" stop-color="#0000c5"/><stop offset="0.6264" stop-color="#007edd"/><stop offset="0.6321" stop-color="#007edd"/><stop offset="0.6357" stop-color="#0082dd"/><stop offset="0.6429" stop-color="#0083dd"/><stop offset="0.6500" stop-color="#0087dd"/><stop offset="0.6571" stop-color="#0086dd"/><stop offset="0.6643" stop-color="#0087dd"/><stop offset="0.6714" stop-color="#007fdd"/><stop offset="0.6786" stop-color="#0080dd"/><stop offset="0.6857" stop-color="#007fdd"/><stop offset="0.6929" stop-color="#0084dd"/><stop offset="0.7000" stop-color="#0084dd"/><stop offset="0.7071" stop-color="#007add"/><stop offset="0.7143" stop-color="#007add"/><stop offset="0.7214" stop-color="#07d"/><stop offset="0.7286" stop-color="#006cdd"/><stop offset="0.7357" stop-color="#006add"/><stop offset="0.7429" stop-color="#0062dd"/><stop offset="0.7500" stop-color="#004bdd"/><stop offset="0.7571" stop-color="#003bdd"/><stop offset="0.7643" stop-color="#0042dd"/><stop offset="0.7714" stop-color="#0038dd"/><stop offset="0.7786" stop-color="#0037dd"/><stop offset="0.7857" stop-color="#003bdd"/><stop offset="0.7929" stop-color="#002add"/><stop offset="0.8000" stop-color="#001cdd"/><stop offset="0.8071" stop-color="#0016dd"/><stop offset="0.8143" stop-color="#000fdd"/><stop offset="0.8214" stop-color="#0000d8"/><stop offset="0.8286" stop-color="#0001dd"/><stop offset="0.8357" stop-color="#0000d7"/><stop offset="0.8429" stop-color="#0000d4"/><stop offset="0.8500" stop-color="#0000ce"/><stop offset="0.8571" stop-color="#0000c5"/><stop offset="0.8643" stop-color="#0000c2"/><stop offset="0.8714" stop-color="#00b"/><stop offset="0.8786" stop-color="#0000bd"/><stop offset="0.8857" stop-color="#0000b4"/><stop offset="0.8929" stop-color="#0000b0"/><stop offset="0.9000" stop-color="#0000ae"/><stop offset="0.9071" stop-color="#0000ab"/><stop offset="0.9143" stop-color="#0200aa"/><stop offset="0.9214" stop-color="#1200a8"/><stop offset="0.9286" stop-color="#1b00a7"/><stop offset="0.9357" stop-color="#2000a6"/><stop offset="0.9429" stop-color="#2900a5"/><stop offset="0.9500" stop-color="#2b00a5"/><stop offset="0.9571" stop-color="#3a00a3"/><stop offset="0.9643" stop-color="#3000a4"/><stop offset="0.9714" stop-color="#3d00a2"/><stop offset="0.9786" stop-color="#4f00a0"/><stop offset="0.9857" stop-color="#54009f"/><stop offset="0.9929" stop-color="#5b009f"/><stop offset="1.0000" stop-color="#62009e"/></linearGradient>
<linearGradient id="r25" gradientUnits="userSpaceOnUse" x1="103.5" x2="576.1" y1="0" y2="0"><stop offset="0.0000" stop-color="#000"/><stop offset="0.1643" stop-color="#000"/><stop offset="0.1714" stop-color="#09000b"/><stop offset="0.1786" stop-color="#160019"/><stop offset="0.1857" stop-color="#240029"/><stop offset="0.1929" stop-color="#33003a"/><stop offset="0.2000" stop-color="#43004d"/><stop offset="0.2071" stop-color="#540060"/><stop offset="0.2143" stop-color="#660075"/><stop offset="0.2214" stop-color="#740085"/><stop offset="0.2286" stop-color="#780089"/><stop offset="0.2357" stop-color="#79008a"/><stop offset="0.2429" stop-color="#7a008b"/><stop offset="0.2500" stop-color="#7b008c"/><stop offset="0.2571" stop-color="#7a008b"/><stop offset="0.2643" stop-color="#79008a"/><stop offset="0.2714" stop-color="#7b008c"/><stop offset="0.2786" stop-color="#7d008e"/><stop offset="0.2857" stop-color="#7f0090"/><stop offset="0.2929" stop-color="#820093"/><stop offset="0.3000" stop-color="#850096"/><stop offset="0.3071" stop-color="#76009b"/><stop offset="0.3143" stop-color="#58009f"/><stop offset="0.3214" stop-color="#2b00a5"/><stop offset="0.3286" stop-color="#0100aa"/><stop offset="0.3357" stop-color="#0000b8"/><stop offset="0.3429" stop-color="#0000c4"/><stop offset="0.3500" stop-color="#0000c7"/><stop offset="0.3571" stop-color="#0000c6"/><stop offset="0.3643" stop-color="#0000b5"/><stop offset="0.3714" stop-color="#0300aa"/><stop offset="0.3786" stop-color="#2100a6"/><stop offset="0.3857" stop-color="#3e00a2"/><stop offset="0.3929" stop-color="#4900a1"/><stop offset="0.4000" stop-color="#57009f"/><stop offset="0.4071" stop-color="#5000a0"/><stop offset="0.4143" stop-color="#5300a0"/><stop offset="0.4214" stop-color="#5c009e"/><stop offset="0.4286" stop-color="#58009f"/><stop offset="0.4357" stop-color="#63009e"/><stop offset="0.4429" stop-color="#5d009e"/><stop offset="0.4500" stop-color="#60009e"/><stop offset="0.4571" stop-color="#5e009e"/><stop offset="0.4643" stop-color="#5f009e"/><stop offset="0.4714" stop-color="#58009f"/><stop offset="0.4786" stop-color="#56009f"/><stop offset="0.4857" stop-color="#5f009e"/><stop offset="0.4929" stop-color="#5c009e"/><stop offset="0.5000" stop-color="#68009d"/><stop offset="0.5071" stop-color="#59009f"/><stop offset="0.5143" stop-color="#58009f"/><stop offset="0.5214" stop-color="#4f00a0"/><stop offset="0.5286" stop-color="#5000a0"/><stop offset="0.5357" stop-color="#58009f"/><stop offset="0.5429" stop-color="#5100a0"/><stop offset="0.5500" stop-color="#4700a1"/><stop offset="0.5571" stop-color="#4f00a0"/><stop offset="0.5643" stop-color="#4200a2"/><stop offset="0.5714" stop-color="#4300a2"/><stop offset="0.5786" stop-color="#4100a2"/><stop offset="0.5857" stop-color="#3f00a2"/><stop offset="0.5929" stop-color="#2c00a4"/><stop offset="0.6000" stop-color="#3600a3"/><stop offset="0.6071" stop-color="#3400a4"/><stop offset="0.6143" stop-color="#3100a4"/><stop offset="0.6214" stop-color="#2600a5"/><stop offset="0.6250" stop-color="#3700a3"/><stop offset="0.6264" stop-color="#0000d1"/><stop offset="0.6321" stop-color="#0000d1"/><stop offset="0.6357" stop-color="#0000d6"/><stop offset="0.6429" stop-color="#0000d7"/><stop offset="0.6500" stop-color="#0000db"/><stop offset="0.6571" stop-color="#0000da"/><stop offset="0.6643" stop-color="#0000da"/><stop offset="0.6714" stop-color="#0000d3"/><stop offset="0.6786" stop-color="#0000d3"/><stop offset="0.6857" stop-color="#0000d2"/><stop offset="0.6929" stop-color="#0000d7"/><stop offset="0.7000" stop-color="#0000d7"/><stop offset="0.7071" stop-color="#0000cd"/><stop offset="0.7143" stop-color="#00c"/><stop offset="0.7214" stop-color="#0000ca"/><stop offset="0.7286" stop-color="#0000c6"/><stop offset="0.7357" stop-color="#0000c5"/><stop offset="0.7429" stop-color="#0000c3"/><stop offset="0.7500" stop-color="#0000bc"/><stop offset="0.7571" stop-color="#0000b7"/><stop offset="0.7643" stop-color="#0000b9"/><stop offset="0.7714" stop-color="#0000b6"/><stop offset="0.7786" stop-color="#0000b6"/><stop offset="0.7857" stop-color="#0000b7"/><stop offset="0.7929" stop-color="#0000b2"/><stop offset="0.8000" stop-color="#0000ad"/><stop offset="0.8071" stop-color="#0000ab"/><stop offset="0.8143" stop-color="#0200aa"/><stop offset="0.8214" stop-color="#1800a7"/><stop offset="0.8286" stop-color="#0d00a8"/><stop offset="0.8357" stop-color="#1900a7"/><stop offset="0.8429" stop-color="#2000a6"/><stop offset="0.8500" stop-color="#2b00a5"/><stop offset="0.8571" stop-color="#3d00a2"/><stop offset="0.8643" stop-color="#4300a2"/><stop offset="0.8714" stop-color="#5000a0"/><stop offset="0.8786" stop-color="#4c00a0"/><stop offset="0.8857" stop-color="#5e009e"/><stop offset="0.8929" stop-color="#65009d"/><stop offset="0.9000" stop-color="#68009d"/><stop offset="0.9071" stop-color="#6f009c"/><stop offset="0.9143" stop-color="#72009c"/><stop offset="0.9214" stop-color="#7e009a"/><stop offset="0.9286" stop-color="#850099"/><stop offset="0.9357" stop-color="#809"/><stop offset="0.9429" stop-color="#870098"/><stop offset="0.9500" stop-color="#870098"/><stop offset="0.9571" stop-color="#860097"/><stop offset="0.9643" stop-color="#870098"/><stop offset="0.9714" stop-color="#850096"/><stop offset="0.9786" stop-color="#840095"/><stop offset="0.9857" stop-color="#830094"/><stop offset="0.9929" stop-color="#830094"/><stop offset="1.0000" stop-color="#820093"/></linearGradient>
<linearGradient id="r26" gradientUnits="userSpaceOnUse" x1="103.5" x2="576.1" y1="0" y2="0"><stop offset="0.0000" stop-color="#000"/><stop offset="0.1929" stop-color="#000"/><stop offset="0.2000" stop-color="#0b000d"/><stop offset="0.2071" stop-color="#1a001d"/><stop offset="0.2143" stop-color="#29002f"/><stop offset="0.2214" stop-color="#3d0046"/><stop offset="0.2286" stop-color="#50005c"/><stop offset="0.2357" stop-color="#630071"/><stop offset="0.2429" stop-color="#700080"/><stop offset="0.2500" stop-color="#708"/><stop offset="0.2571" stop-color="#750086"/><stop offset="0.2643" stop-color="#6e007e"/><stop offset="0.2714" stop-color="#708"/><stop offset="0.2786" stop-color="#79008a"/><stop offset="0.2857" stop-color="#7b008c"/><stop offset="0.2929" stop-color="#7e008f"/><stop offset="0.3000" stop-color="#800091"/><stop offset="0.3071" stop-color="#840095"/><stop offset="0.3143" stop-color="#870098"/><stop offset="0.3214" stop-color="#69009d"/><stop offset="0.3286" stop-color="#4900a1"/><stop offset="0.3357" stop-color="#2d00a4"/><stop offset="0.3429" stop-color="#1500a7"/><stop offset="0.3500" stop-color="#1200a8"/><stop offset="0.3571" stop-color="#1700a7"/><stop offset="0.3643" stop-color="#3e00a2"/><stop offset="0.3714" stop-color="#5c009f"/><stop offset="0.3786" stop-color="#77009b"/><stop offset="0.3857" stop-color="#870098"/><stop offset="0.3929" stop-color="#860097"/><stop offset="0.4000" stop-color="#850096"/><stop offset="0.4071" stop-color="#860097"/><stop offset="0.4143" stop-color="#860097"/><stop offset="0.4214" stop-color="#850096"/><stop offset="0.4286" stop-color="#850096"/><stop offset="0.4357" stop-color="#840095"/><stop offset="0.4429" stop-color="#850096"/><stop offset="0.4714" stop-color="#850096"/><stop offset="0.4786" stop-color="#860097"/><stop offset="0.4857" stop-color="#850096"/><stop offset="0.4929" stop-color="#850096"/><stop offset="0.5000" stop-color="#840095"/><stop offset="0.5071" stop-color="#850096"/><stop offset="0.5143" stop-color="#850096"/><stop offset="0.5214" stop-color="#860097"/><stop offset="0.5286" stop-color="#860097"/><stop offset="0.5357" stop-color="#850096"/><stop offset="0.5429" stop-color="#860097"/><stop offset="0.5500" stop-color="#870098"/><stop offset="0.5571" stop-color="#860097"/><stop offset="0.5643" stop-color="#809"/><stop offset="0.5714" stop-color="#870098"/><stop offset="0.5786" stop-color="#809"/><stop offset="0.5857" stop-color="#809"/><stop offset="0.5929" stop-color="#7a009b"/><stop offset="0.6000" stop-color="#82009a"/><stop offset="0.6071" stop-color="#80009a"/><stop offset="0.6143" stop-color="#7e009a"/><stop offset="0.6214" stop-color="#75009b"/><stop offset="0.6250" stop-color="#83009a"/><stop offset="0.6264" stop-color="#0f00a8"/><stop offset="0.6321" stop-color="#0f00a8"/><stop offset="0.6357" stop-color="#0600a9"/><stop offset="0.6429" stop-color="#0300aa"/><stop offset="0.6500" stop-color="#0000ac"/><stop offset="0.6571" stop-color="#0000ab"/><stop offset="0.6643" stop-color="#0000ac"/><stop offset="0.6714" stop-color="#0c00a9"/><stop offset="0.6786" stop-color="#0a00a9"/><stop offset="0.6857" stop-color="#0d00a8"/><stop offset="0.6929" stop-color="#0200aa"/><stop offset="0.7000" stop-color="#0200aa"/><stop offset="0.7071" stop-color="#1700a7"/><stop offset="0.7143" stop-color="#1800a7"/><stop offset="0.7214" stop-color="#1e00a6"/><stop offset="0.7286" stop-color="#2500a5"/><stop offset="0.7357" stop-color="#2700a5"/><stop offset="0.7429" stop-color="#2c00a5"/><stop offset="0.7500" stop-color="#3a00a3"/><stop offset="0.7571" stop-color="#4400a1"/><stop offset="0.7643" stop-color="#4000a2"/><stop offset="0.7714" stop-color="#4600a1"/><stop offset="0.7786" stop-color="#4700a1"/><stop offset="0.7857" stop-color="#4400a1"/><stop offset="0.7929" stop-color="#4f00a0"/><stop offset="0.8000" stop-color="#58009f"/><stop offset="0.8071" stop-color="#5c009f"/><stop offset="0.8143" stop-color="#61009e"/><stop offset="0.8214" stop-color="#72009c"/><stop offset="0.8286" stop-color="#69009d"/><stop offset="0.8357" stop-color="#72009c"/><stop offset="0.8429" stop-color="#78009b"/><stop offset="0.8500" stop-color="#80009a"/><stop offset="0.8571" stop-color="#870098"/><stop offset="0.8643" stop-color="#870098"/><stop offset="0.8714" stop-color="#850096"/><stop offset="0.8786" stop-color="#860097"/><stop offset="0.8857" stop-color="#840095"/><stop offset="0.8929" stop-color="#830094"/><stop offset="0.9000" stop-color="#830094"/><stop offset="0.9071" stop-color="#820093"/><stop offset="0.9143" stop-color="#820093"/><stop offset="0.9214" stop-color="#810092"/><stop offset="0.9286" stop-color="#800091"/><stop offset="0.9357" stop-color="#800091"/><stop offset="0.9429" stop-color="#7f0090"/><stop offset="0.9500" stop-color="#7f0090"/><stop offset="0.9571" stop-color="#7e008f"/><stop offset="0.9643" stop-color="#7f0090"/><stop offset="0.9714" stop-color="#7e008f"/><stop offset="0.9786" stop-color="#7d008e"/><stop offset="0.9857" stop-color="#7c008d"/><stop offset="0.9929" stop-color="#7c008d"/><stop offset="1.0000" stop-color="#7c008c"/></linearGradient>
<linearGradient id="r27" gradientUnits="userSpaceOnUse" x1="103.5" x2="576.1" y1="0" y2="0"><stop offset="0.0000" stop-color="#000"/><stop offset="0.2143" stop-color="#000"/><stop offset="0.2214" stop-color="#070008"/><stop offset="0.2286" stop-color="#1b001f"/><stop offset="0.2357" stop-color="#300036"/><stop offset="0.2429" stop-color="#41004b"/><stop offset="0.2500" stop-color="#4f005a"/><stop offset="0.2571" stop-color="#570063"/><stop offset="0.2643" stop-color="#580064"/><stop offset="0.2714" stop-color="#60006e"/><stop offset="0.2786" stop-color="#6a0079"/><stop offset="0.2857" stop-color="#740084"/><stop offset="0.2929" stop-color="#79008a"/><stop offset="0.3000" stop-color="#7b008c"/><stop offset="0.3071" stop-color="#7e008f"/><stop offset="0.3143" stop-color="#810092"/><stop offset="0.3214" stop-color="#840095"/><stop offset="0.3286" stop-color="#870098"/><stop offset="0.3357" stop-color="#7c009b"/><stop offset="0.3429" stop-color="#6b009d"/><stop offset="0.3500" stop-color="#6b009d"/><stop offset="0.3571" stop-color="#71009c"/><stop offset="0.3643" stop-color="#870098"/><stop offset="0.3714" stop-color="#840095"/><stop offset="0.3786" stop-color="#810092"/><stop offset="0.3857" stop-color="#7f0090"/><stop offset="0.3929" stop-color="#7e008f"/><stop offset="0.4000" stop-color="#7d008e"/><stop offset="0.4071" stop-color="#7e008f"/><stop offset="0.4143" stop-color="#7d008e"/><stop offset="0.4286" stop-color="#7d008e"/><stop offset="0.4357" stop-color="#7c008d"/><stop offset="0.4429" stop-color="#7d008e"/><stop offset="0.4929" stop-color="#7d008e"/><stop offset="0.5000" stop-color="#7c008d"/><stop offset="0.5071" stop-color="#7d008e"/><stop offset="0.5143" stop-color="#7d008e"/><stop offset="0.5214" stop-color="#7e008f"/><stop offset="0.5286" stop-color="#7e008f"/><stop offset="0.5357" stop-color="#7d008e"/><stop offset="0.5429" stop-color="#7e008f"/><stop offset="0.5571" stop-color="#7e008f"/><stop offset="0.5643" stop-color="#7f0090"/><stop offset="0.5857" stop-color="#7f0090"/><stop offset="0.5929" stop-color="#800091"/><stop offset="0.6143" stop-color="#800091"/><stop offset="0.6214" stop-color="#810092"/><stop offset="0.6250" stop-color="#800091"/><stop offset="0.6264" stop-color="#6f009c"/><stop offset="0.6321" stop-color="#6f009c"/><stop offset="0.6357" stop-color="#68009d"/><stop offset="0.6429" stop-color="#66009d"/><stop offset="0.6500" stop-color="#60009e"/><stop offset="0.6571" stop-color="#61009e"/><stop offset="0.6643" stop-color="#60009e"/><stop offset="0.6714" stop-color="#6c009c"/><stop offset="0.6786" stop-color="#6b009d"/><stop offset="0.6857" stop-color="#6d009c"/><stop offset="0.6929" stop-color="#65009d"/><stop offset="0.7000" stop-color="#65009d"/><stop offset="0.7071" stop-color="#75009b"/><stop offset="0.7143" stop-color="#76009b"/><stop offset="0.7214" stop-color="#7a009b"/><stop offset="0.7286" stop-color="#80009a"/><stop offset="0.7357" stop-color="#81009a"/><stop offset="0.7429" stop-color="#850099"/><stop offset="0.7500" stop-color="#870098"/><stop offset="0.7571" stop-color="#860097"/><stop offset="0.7857" stop-color="#860097"/><stop offset="0.7929" stop-color="#850096"/><stop offset="0.8000" stop-color="#840095"/><stop offset="0.8071" stop-color="#840095"/><stop offset="0.8143" stop-color="#830094"/><stop offset="0.8214" stop-color="#820093"/><stop offset="0.8286" stop-color="#830094"/><stop offset="0.8357" stop-color="#820093"/><stop offset="0.8429" stop-color="#810092"/><stop offset="0.8500" stop-color="#800091"/><stop offset="0.8571" stop-color="#7f0090"/><stop offset="0.8643" stop-color="#7f0090"/><stop offset="0.8714" stop-color="#7e008f"/><stop offset="0.8786" stop-color="#7e008f"/><stop offset="0.8857" stop-color="#7d008e"/><stop offset="0.8929" stop-color="#7c008d"/><stop offset="0.9071" stop-color="#7c008d"/><stop offset="0.9143" stop-color="#7b008c"/><stop offset="0.9214" stop-color="#7a008b"/><stop offset="0.9357" stop-color="#7a008b"/><stop offset="0.9429" stop-color="#79008a"/><stop offset="0.9500" stop-color="#79008a"/><stop offset="0.9571" stop-color="#780089"/><stop offset="0.9643" stop-color="#79008a"/><stop offset="0.9714" stop-color="#780089"/><stop offset="0.9786" stop-color="#708"/><stop offset="0.9857" stop-color="#708"/><stop offset="0.9929" stop-color="#750085"/><stop offset="1.0000" stop-color="#720082"/></linearGradient>
<linearGradient id="r28" gradientUnits="userSpaceOnUse" x1="103.5" x2="576.1" y1="0" y2="0"><stop offset="0.0000" stop-color="#000"/><stop offset="0.2143" stop-color="#000"/><stop offset="0.2214" stop-color="#050006"/><stop offset="0.2286" stop-color="#0c000e"/><stop offset="0.2357" stop-color="#150017"/><stop offset="0.2429" stop-color="#1f0023"/><stop offset="0.2500" stop-color="#2c0032"/><stop offset="0.2571" stop-color="#3c0044"/><stop offset="0.2643" stop-color="#460050"/><stop offset="0.2714" stop-color="#4d0058"/><stop offset="0.2786" stop-color="#550061"/><stop offset="0.2857" stop-color="#5d006a"/><stop offset="0.2929" stop-color="#6a0079"/><stop offset="0.3000" stop-color="#760087"/><stop offset="0.3071" stop-color="#7a008a"/><stop offset="0.3143" stop-color="#7b008c"/><stop offset="0.3214" stop-color="#7e008f"/><stop offset="0.3286" stop-color="#800091"/><stop offset="0.3357" stop-color="#820093"/><stop offset="0.3429" stop-color="#840095"/><stop offset="0.3500" stop-color="#840095"/><stop offset="0.3571" stop-color="#830094"/><stop offset="0.3643" stop-color="#800091"/><stop offset="0.3714" stop-color="#7d008e"/><stop offset="0.3786" stop-color="#7b008c"/><stop offset="0.3857" stop-color="#79008a"/><stop offset="0.3929" stop-color="#79008a"/><stop offset="0.4000" stop-color="#780089"/><stop offset="0.4286" stop-color="#780089"/><stop offset="0.4357" stop-color="#708"/><stop offset="0.4429" stop-color="#780089"/><stop offset="0.4500" stop-color="#708"/><stop offset="0.4571" stop-color="#780088"/><stop offset="0.4643" stop-color="#780088"/><stop offset="0.4714" stop-color="#780089"/><stop offset="0.4786" stop-color="#780089"/><stop offset="0.4857" stop-color="#708"/><stop offset="0.4929" stop-color="#780089"/><stop offset="0.5000" stop-color="#708"/><stop offset="0.5071" stop-color="#780089"/><stop offset="0.5429" stop-color="#780089"/><stop offset="0.5500" stop-color="#79008a"/><stop offset="0.5571" stop-color="#780089"/><stop offset="0.5643" stop-color="#79008a"/><stop offset="0.5857" stop-color="#79008a"/><stop offset="0.5929" stop-color="#7a008b"/><stop offset="0.6143" stop-color="#7a008b"/><stop offset="0.6214" stop-color="#7b008c"/><stop offset="0.6250" stop-color="#7a008b"/><stop offset="0.6264" stop-color="#820093"/><stop offset="0.6321" stop-color="#820093"/><stop offset="0.6357" stop-color="#830094"/><stop offset="0.6429" stop-color="#830094"/><stop offset="0.6500" stop-color="#840095"/><stop offset="0.6571" stop-color="#830094"/><stop offset="0.6643" stop-color="#840095"/><stop offset="0.6714" stop-color="#820093"/><stop offset="0.6857" stop-color="#820093"/><stop offset="0.6929" stop-color="#830094"/><stop offset="0.7000" stop-color="#830094"/><stop offset="0.7071" stop-color="#820093"/><stop offset="0.7143" stop-color="#810092"/><stop offset="0.7286" stop-color="#810092"/><stop offset="0.7357" stop-color="#800091"/><stop offset="0.7429" stop-color="#800091"/><stop offset="0.7500" stop-color="#7f0090"/><stop offset="0.7571" stop-color="#7e008f"/><stop offset="0.7643" stop-color="#7f0090"/><stop offset="0.7714" stop-color="#7e008f"/><stop offset="0.7929" stop-color="#7e008f"/><stop offset="0.8000" stop-color="#7d008e"/><stop offset="0.8071" stop-color="#7d008e"/><stop offset="0.8143" stop-color="#7c008d"/><stop offset="0.8214" stop-color="#7b008c"/><stop offset="0.8286" stop-color="#7c008d"/><stop offset="0.8357" stop-color="#7b008c"/><stop offset="0.8429" stop-color="#7b008c"/><stop offset="0.8500" stop-color="#7a008b"/><stop offset="0.8571" stop-color="#79008a"/><stop offset="0.8643" stop-color="#79008a"/><stop offset="0.8714" stop-color="#780089"/><stop offset="0.8786" stop-color="#780089"/><stop offset="0.8857" stop-color="#708"/><stop offset="0.8929" stop-color="#760087"/><stop offset="0.9000" stop-color="#750085"/><stop offset="0.9071" stop-color="#720082"/><stop offset="0.9143" stop-color="#710081"/><stop offset="0.9214" stop-color="#6d007c"/><stop offset="0.9286" stop-color="#6a0079"/><stop offset="0.9357" stop-color="#690078"/><stop offset="0.9429" stop-color="#660075"/><stop offset="0.9500" stop-color="#660074"/><stop offset="0.9571" stop-color="#61006f"/><stop offset="0.9643" stop-color="#640073"/><stop offset="0.9714" stop-color="#60006e"/><stop offset="0.9786" stop-color="#5c0069"/><stop offset="0.9857" stop-color="#5a0067"/><stop offset="0.9929" stop-color="#580065"/><stop offset="1.0000" stop-color="#560063"/></linearGradient>
<linearGradient id="r29" gradientUnits="userSpaceOnUse" x1="103.5" x2="576.1" y1="0" y2="0"><stop offset="0.0000" stop-color="#000"/><stop offset="0.2143" stop-color="#000"/><stop offset="0.2214" stop-color="#040005"/><stop offset="0.2286" stop-color="#09000b"/><stop offset="0.2357" stop-color="#100012"/><stop offset="0.2429" stop-color="#17001b"/><stop offset="0.2500" stop-color="#200025"/><stop offset="0.2571" stop-color="#2b0031"/><stop offset="0.2643" stop-color="#36003e"/><stop offset="0.2714" stop-color="#3b0044"/><stop offset="0.2786" stop-color="#41004b"/><stop offset="0.2857" stop-color="#470052"/><stop offset="0.2929" stop-color="#51005d"/><stop offset="0.3000" stop-color="#5b0068"/><stop offset="0.3071" stop-color="#690078"/><stop offset="0.3143" stop-color="#720082"/><stop offset="0.3214" stop-color="#780089"/><stop offset="0.3286" stop-color="#7a008b"/><stop offset="0.3357" stop-color="#7b008c"/><stop offset="0.3429" stop-color="#7d008e"/><stop offset="0.3500" stop-color="#7c008d"/><stop offset="0.3571" stop-color="#7c008d"/><stop offset="0.3643" stop-color="#79008a"/><stop offset="0.3714" stop-color="#708"/><stop offset="0.3786" stop-color="#6c007b"/><stop offset="0.3857" stop-color="#640072"/><stop offset="0.3929" stop-color="#60006e"/><stop offset="0.4000" stop-color="#5d006a"/><stop offset="0.4071" stop-color="#5f006d"/><stop offset="0.4143" stop-color="#5e006c"/><stop offset="0.4214" stop-color="#5c0069"/><stop offset="0.4286" stop-color="#5e006b"/><stop offset="0.4357" stop-color="#5b0068"/><stop offset="0.4429" stop-color="#5d006a"/><stop offset="0.4500" stop-color="#5c0069"/><stop offset="0.4571" stop-color="#5d006a"/><stop offset="0.4643" stop-color="#5d006a"/><stop offset="0.4714" stop-color="#5f006d"/><stop offset="0.4786" stop-color="#60006d"/><stop offset="0.4857" stop-color="#5d006a"/><stop offset="0.4929" stop-color="#5e006b"/><stop offset="0.5000" stop-color="#5a0067"/><stop offset="0.5071" stop-color="#5f006c"/><stop offset="0.5143" stop-color="#5f006d"/><stop offset="0.5214" stop-color="#620070"/><stop offset="0.5286" stop-color="#620070"/><stop offset="0.5357" stop-color="#5f006d"/><stop offset="0.5429" stop-color="#61006f"/><stop offset="0.5500" stop-color="#640073"/><stop offset="0.5571" stop-color="#620070"/><stop offset="0.5643" stop-color="#660074"/><stop offset="0.5714" stop-color="#650074"/><stop offset="0.5786" stop-color="#660075"/><stop offset="0.5857" stop-color="#670075"/><stop offset="0.5929" stop-color="#6c007c"/><stop offset="0.6000" stop-color="#690078"/><stop offset="0.6071" stop-color="#6a0079"/><stop offset="0.6143" stop-color="#6b007a"/><stop offset="0.6214" stop-color="#6e007e"/><stop offset="0.6250" stop-color="#690078"/><stop offset="0.6264" stop-color="#7c008d"/><stop offset="0.6429" stop-color="#7c008d"/><stop offset="0.6500" stop-color="#7d008e"/><stop offset="0.6643" stop-color="#7d008e"/><stop offset="0.6714" stop-color="#7c008d"/><stop offset="0.7000" stop-color="#7c008d"/><stop offset="0.7071" stop-color="#7b008c"/><stop offset="0.7214" stop-color="#7b008c"/><stop offset="0.7286" stop-color="#7a008b"/><stop offset="0.7429" stop-color="#7a008b"/><stop offset="0.7500" stop-color="#79008a"/><stop offset="0.7714" stop-color="#79008a"/><stop offset="0.7786" stop-color="#780089"/><stop offset="0.7857" stop-color="#79008a"/><stop offset="0.7929" stop-color="#780089"/><stop offset="0.8000" stop-color="#780089"/><stop offset="0.8071" stop-color="#708"/><stop offset="0.8143" stop-color="#708"/><stop offset="0.8214" stop-color="#710081"/><stop offset="0.8286" stop-color="#740085"/><stop offset="0.8357" stop-color="#710081"/><stop offset="0.8429" stop-color="#6f007e"/><stop offset="0.8500" stop-color="#6b007b"/><stop offset="0.8571" stop-color="#660075"/><stop offset="0.8643" stop-color="#640073"/><stop offset="0.8714" stop-color="#61006e"/><stop offset="0.8786" stop-color="#620070"/><stop offset="0.8857" stop-color="#5c006a"/><stop offset="0.8929" stop-color="#5a0067"/><stop offset="0.9000" stop-color="#590066"/><stop offset="0.9071" stop-color="#570064"/><stop offset="0.9143" stop-color="#560063"/><stop offset="0.9214" stop-color="#53005f"/><stop offset="0.9286" stop-color="#51005d"/><stop offset="0.9357" stop-color="#50005c"/><stop offset="0.9429" stop-color="#4e0059"/><stop offset="0.9500" stop-color="#4e0059"/><stop offset="0.9571" stop-color="#4b0055"/><stop offset="0.9643" stop-color="#4d0058"/><stop offset="0.9714" stop-color="#4a0054"/><stop offset="0.9786" stop-color="#460050"/><stop offset="0.9857" stop-color="#45004f"/><stop offset="0.9929" stop-color="#44004d"/><stop offset="1.0000" stop-color="#42004b"/></linearGradient>
<linearGradient id="r30" gradientUnits="userSpaceOnUse" x1="103.5" x2="576.1" y1="0" y2="0"><stop offset="0.0000" stop-color="#000"/><stop offset="0.2143" stop-color="#000"/><stop offset="0.2214" stop-color="#030003"/><stop offset="0.2286" stop-color="#060007"/><stop offset="0.2357" stop-color="#0a000c"/><stop offset="0.2429" stop-color="#0f0011"/><stop offset="0.2500" stop-color="#150018"/><stop offset="0.2571" stop-color="#1c0020"/><stop offset="0.2643" stop-color="#230028"/><stop offset="0.2714" stop-color="#26002c"/><stop offset="0.2786" stop-color="#2a0030"/><stop offset="0.2857" stop-color="#2e0035"/><stop offset="0.2929" stop-color="#35003c"/><stop offset="0.3000" stop-color="#3b0043"/><stop offset="0.3071" stop-color="#44004e"/><stop offset="0.3143" stop-color="#4a0054"/><stop offset="0.3214" stop-color="#52005e"/><stop offset="0.3286" stop-color="#5a0067"/><stop offset="0.3357" stop-color="#60006e"/><stop offset="0.3429" stop-color="#650073"/><stop offset="0.3500" stop-color="#640072"/><stop offset="0.3571" stop-color="#61006e"/><stop offset="0.3643" stop-color="#550061"/><stop offset="0.3714" stop-color="#4c0056"/><stop offset="0.3786" stop-color="#43004d"/><stop offset="0.3857" stop-color="#3e0047"/><stop offset="0.3929" stop-color="#3c0045"/><stop offset="0.4000" stop-color="#3b0043"/><stop offset="0.4071" stop-color="#3d0046"/><stop offset="0.4143" stop-color="#3d0046"/><stop offset="0.4214" stop-color="#3c0045"/><stop offset="0.4286" stop-color="#3e0047"/><stop offset="0.4357" stop-color="#3d0045"/><stop offset="0.4429" stop-color="#3f0048"/><stop offset="0.4500" stop-color="#3f0048"/><stop offset="0.4571" stop-color="#400049"/><stop offset="0.4643" stop-color="#41004a"/><stop offset="0.4714" stop-color="#42004b"/><stop offset="0.4786" stop-color="#42004c"/><stop offset="0.4857" stop-color="#41004a"/><stop offset="0.4929" stop-color="#41004a"/><stop offset="0.5000" stop-color="#3f0048"/><stop offset="0.5071" stop-color="#42004b"/><stop offset="0.5143" stop-color="#42004b"/><stop offset="0.5214" stop-color="#44004e"/><stop offset="0.5286" stop-color="#44004d"/><stop offset="0.5357" stop-color="#42004b"/><stop offset="0.5429" stop-color="#43004d"/><stop offset="0.5500" stop-color="#46004f"/><stop offset="0.5571" stop-color="#44004d"/><stop offset="0.5643" stop-color="#470051"/><stop offset="0.5714" stop-color="#460050"/><stop offset="0.5786" stop-color="#470051"/><stop offset="0.5857" stop-color="#470051"/><stop offset="0.5929" stop-color="#4b0056"/><stop offset="0.6000" stop-color="#490053"/><stop offset="0.6071" stop-color="#4a0054"/><stop offset="0.6143" stop-color="#4a0055"/><stop offset="0.6214" stop-color="#4c0057"/><stop offset="0.6250" stop-color="#490053"/><stop offset="0.6264" stop-color="#6d007c"/><stop offset="0.6321" stop-color="#6d007c"/><stop offset="0.6357" stop-color="#6f007f"/><stop offset="0.6429" stop-color="#700080"/><stop offset="0.6500" stop-color="#720083"/><stop offset="0.6571" stop-color="#720082"/><stop offset="0.6643" stop-color="#720082"/><stop offset="0.6714" stop-color="#6e007d"/><stop offset="0.6786" stop-color="#6e007e"/><stop offset="0.6857" stop-color="#6d007d"/><stop offset="0.6929" stop-color="#700080"/><stop offset="0.7000" stop-color="#700080"/><stop offset="0.7071" stop-color="#6b007a"/><stop offset="0.7143" stop-color="#6a0079"/><stop offset="0.7214" stop-color="#690078"/><stop offset="0.7286" stop-color="#670075"/><stop offset="0.7357" stop-color="#660075"/><stop offset="0.7429" stop-color="#650073"/><stop offset="0.7500" stop-color="#61006f"/><stop offset="0.7571" stop-color="#5e006b"/><stop offset="0.7643" stop-color="#5f006d"/><stop offset="0.7714" stop-color="#5e006b"/><stop offset="0.7786" stop-color="#5d006b"/><stop offset="0.7857" stop-color="#5e006c"/><stop offset="0.7929" stop-color="#5b0068"/><stop offset="0.8000" stop-color="#590065"/><stop offset="0.8071" stop-color="#580064"/><stop offset="0.8143" stop-color="#560063"/><stop offset="0.8214" stop-color="#52005d"/><stop offset="0.8286" stop-color="#540060"/><stop offset="0.8357" stop-color="#51005d"/><stop offset="0.8429" stop-color="#50005b"/><stop offset="0.8500" stop-color="#4e0059"/><stop offset="0.8571" stop-color="#4a0054"/><stop offset="0.8643" stop-color="#480053"/><stop offset="0.8714" stop-color="#460050"/><stop offset="0.8786" stop-color="#460051"/><stop offset="0.8857" stop-color="#43004c"/><stop offset="0.8929" stop-color="#41004b"/><stop offset="0.9000" stop-color="#41004a"/><stop offset="0.9071" stop-color="#3f0048"/><stop offset="0.9143" stop-color="#3e0047"/><stop offset="0.9214" stop-color="#3c0045"/><stop offset="0.9286" stop-color="#3b0043"/><stop offset="0.9357" stop-color="#3a0042"/><stop offset="0.9429" stop-color="#380041"/><stop offset="0.9500" stop-color="#380040"/><stop offset="0.9571" stop-color="#36003e"/><stop offset="0.9643" stop-color="#37003f"/><stop offset="0.9714" stop-color="#35003d"/><stop offset="0.9786" stop-color="#33003a"/><stop offset="0.9857" stop-color="#320039"/><stop offset="0.9929" stop-color="#310038"/><stop offset="1.0000" stop-color="#300036"/></linearGradient>
<linearGradient id="r31" gradientUnits="userSpaceOnUse" x1="103.5" x2="576.1" y1="0" y2="0"><stop offset="0.0000" stop-color="#000"/><stop offset="0.2143" stop-color="#000"/><stop offset="0.2214" stop-color="#010001"/><stop offset="0.2286" stop-color="#020003"/><stop offset="0.2357" stop-color="#040005"/><stop offset="0.2429" stop-color="#060007"/><stop offset="0.2500" stop-color="#09000a"/><stop offset="0.2571" stop-color="#0b000d"/><stop offset="0.2643" stop-color="#0e0010"/><stop offset="0.2714" stop-color="#100012"/><stop offset="0.2786" stop-color="#110014"/><stop offset="0.2857" stop-color="#130016"/><stop offset="0.2929" stop-color="#160019"/><stop offset="0.3000" stop-color="#18001c"/><stop offset="0.3071" stop-color="#1c0020"/><stop offset="0.3143" stop-color="#1e0022"/><stop offset="0.3214" stop-color="#220026"/><stop offset="0.3286" stop-color="#25002a"/><stop offset="0.3357" stop-color="#27002d"/><stop offset="0.3429" stop-color="#29002f"/><stop offset="0.3500" stop-color="#28002e"/><stop offset="0.3571" stop-color="#27002c"/><stop offset="0.3643" stop-color="#220027"/><stop offset="0.3714" stop-color="#1e0022"/><stop offset="0.3786" stop-color="#1b001e"/><stop offset="0.3857" stop-color="#19001c"/><stop offset="0.3929" stop-color="#18001b"/><stop offset="0.4000" stop-color="#17001b"/><stop offset="0.4071" stop-color="#19001c"/><stop offset="0.4143" stop-color="#19001d"/><stop offset="0.4214" stop-color="#19001d"/><stop offset="0.4286" stop-color="#1a001e"/><stop offset="0.4357" stop-color="#1a001d"/><stop offset="0.4429" stop-color="#1b001f"/><stop offset="0.4500" stop-color="#1b001f"/><stop offset="0.4571" stop-color="#1c0020"/><stop offset="0.4643" stop-color="#1c0020"/><stop offset="0.4714" stop-color="#1d0021"/><stop offset="0.4786" stop-color="#1d0021"/><stop offset="0.4857" stop-color="#1c0020"/><stop offset="0.4929" stop-color="#1d0021"/><stop offset="0.5000" stop-color="#1c001f"/><stop offset="0.5071" stop-color="#1d0021"/><stop offset="0.5143" stop-color="#1d0021"/><stop offset="0.5214" stop-color="#1e0022"/><stop offset="0.5286" stop-color="#1e0022"/><stop offset="0.5357" stop-color="#1d0021"/><stop offset="0.5429" stop-color="#1e0022"/><stop offset="0.5500" stop-color="#1e0023"/><stop offset="0.5571" stop-color="#1e0022"/><stop offset="0.5643" stop-color="#1f0023"/><stop offset="0.5786" stop-color="#1f0023"/><stop offset="0.5857" stop-color="#1f0024"/><stop offset="0.5929" stop-color="#210026"/><stop offset="0.6000" stop-color="#200025"/><stop offset="0.6071" stop-color="#200025"/><stop offset="0.6143" stop-color="#210025"/><stop offset="0.6214" stop-color="#210026"/><stop offset="0.6250" stop-color="#200024"/><stop offset="0.6264" stop-color="#3b0044"/><stop offset="0.6321" stop-color="#3b0044"/><stop offset="0.6357" stop-color="#3c0045"/><stop offset="0.6429" stop-color="#3d0046"/><stop offset="0.6500" stop-color="#3e0047"/><stop offset="0.6643" stop-color="#3e0047"/><stop offset="0.6714" stop-color="#3c0044"/><stop offset="0.6786" stop-color="#3c0044"/><stop offset="0.6857" stop-color="#3b0044"/><stop offset="0.6929" stop-color="#3d0046"/><stop offset="0.7000" stop-color="#3d0046"/><stop offset="0.7071" stop-color="#3a0042"/><stop offset="0.7143" stop-color="#3a0042"/><stop offset="0.7214" stop-color="#390041"/><stop offset="0.7286" stop-color="#380040"/><stop offset="0.7357" stop-color="#38003f"/><stop offset="0.7429" stop-color="#37003f"/><stop offset="0.7500" stop-color="#35003c"/><stop offset="0.7571" stop-color="#33003a"/><stop offset="0.7643" stop-color="#34003b"/><stop offset="0.7714" stop-color="#33003a"/><stop offset="0.7857" stop-color="#33003a"/><stop offset="0.7929" stop-color="#310038"/><stop offset="0.8000" stop-color="#300037"/><stop offset="0.8071" stop-color="#300036"/><stop offset="0.8143" stop-color="#2f0036"/><stop offset="0.8214" stop-color="#2c0033"/><stop offset="0.8286" stop-color="#2e0034"/><stop offset="0.8357" stop-color="#2c0032"/><stop offset="0.8429" stop-color="#2b0032"/><stop offset="0.8500" stop-color="#2a0030"/><stop offset="0.8571" stop-color="#28002e"/><stop offset="0.8643" stop-color="#27002d"/><stop offset="0.8714" stop-color="#26002b"/><stop offset="0.8786" stop-color="#26002c"/><stop offset="0.8857" stop-color="#240029"/><stop offset="0.8929" stop-color="#230029"/><stop offset="0.9000" stop-color="#230028"/><stop offset="0.9071" stop-color="#220027"/><stop offset="0.9143" stop-color="#220027"/><stop offset="0.9214" stop-color="#210025"/><stop offset="0.9286" stop-color="#200024"/><stop offset="0.9357" stop-color="#1f0024"/><stop offset="0.9429" stop-color="#1f0023"/><stop offset="0.9500" stop-color="#1e0023"/><stop offset="0.9571" stop-color="#1d0021"/><stop offset="0.9643" stop-color="#1e0022"/><stop offset="0.9714" stop-color="#1d0021"/><stop offset="0.9786" stop-color="#1b001f"/><stop offset="0.9857" stop-color="#1b001f"/><stop offset="0.9929" stop-color="#1b001e"/><stop offset="1.0000" stop-color="#1a001e"/></linearGradient>
<linearGradient id="r32" gradientUnits="userSpaceOnUse" x1="103.5" x2="576.1" y1="0" y2="0"><stop offset="0.0000" stop-color="#000"/><stop offset="0.2214" stop-color="#000"/><stop offset="0.2286" stop-color="#000001"/><stop offset="0.2357" stop-color="#010001"/><stop offset="0.2429" stop-color="#010001"/><stop offset="0.2500" stop-color="#020002"/><stop offset="0.2571" stop-color="#020002"/><stop offset="0.2643" stop-color="#030003"/><stop offset="0.2714" stop-color="#030003"/><stop offset="0.2786" stop-color="#030004"/><stop offset="0.2857" stop-color="#040004"/><stop offset="0.2929" stop-color="#040005"/><stop offset="0.3000" stop-color="#040005"/><stop offset="0.3071" stop-color="#050006"/><stop offset="0.3143" stop-color="#060006"/><stop offset="0.3214" stop-color="#060007"/><stop offset="0.3286" stop-color="#070008"/><stop offset="0.3357" stop-color="#070008"/><stop offset="0.3429" stop-color="#080009"/><stop offset="0.3500" stop-color="#070008"/><stop offset="0.3571" stop-color="#070008"/><stop offset="0.3643" stop-color="#060007"/><stop offset="0.3714" stop-color="#060006"/><stop offset="0.3786" stop-color="#050006"/><stop offset="0.3857" stop-color="#040005"/><stop offset="0.4000" stop-color="#040005"/><stop offset="0.4071" stop-color="#050005"/><stop offset="0.4214" stop-color="#050005"/><stop offset="0.4286" stop-color="#050006"/><stop offset="0.4500" stop-color="#050006"/><stop offset="0.4571" stop-color="#060006"/><stop offset="0.4643" stop-color="#060007"/><stop offset="0.4929" stop-color="#060007"/><stop offset="0.5000" stop-color="#060006"/><stop offset="0.5071" stop-color="#060007"/><stop offset="0.5857" stop-color="#060007"/><stop offset="0.5929" stop-color="#070008"/><stop offset="0.6000" stop-color="#070007"/><stop offset="0.6071" stop-color="#070007"/><stop offset="0.6143" stop-color="#070008"/><stop offset="0.6214" stop-color="#070008"/><stop offset="0.6250" stop-color="#060007"/><stop offset="0.6264" stop-color="#140016"/><stop offset="0.6321" stop-color="#140016"/><stop offset="0.6357" stop-color="#140017"/><stop offset="0.6429" stop-color="#140017"/><stop offset="0.6500" stop-color="#150017"/><stop offset="0.6571" stop-color="#140017"/><stop offset="0.6643" stop-color="#150017"/><stop offset="0.6714" stop-color="#140017"/><stop offset="0.6786" stop-color="#140017"/><stop offset="0.6857" stop-color="#140016"/><stop offset="0.6929" stop-color="#140017"/><stop offset="0.7000" stop-color="#140017"/><stop offset="0.7071" stop-color="#130016"/><stop offset="0.7143" stop-color="#130016"/><stop offset="0.7214" stop-color="#130015"/><stop offset="0.7286" stop-color="#120015"/><stop offset="0.7429" stop-color="#120015"/><stop offset="0.7500" stop-color="#110014"/><stop offset="0.7571" stop-color="#110013"/><stop offset="0.7643" stop-color="#110014"/><stop offset="0.7714" stop-color="#110013"/><stop offset="0.7857" stop-color="#110013"/><stop offset="0.7929" stop-color="#100013"/><stop offset="0.8000" stop-color="#100012"/><stop offset="0.8071" stop-color="#100012"/><stop offset="0.8143" stop-color="#0f0012"/><stop offset="0.8214" stop-color="#0f0011"/><stop offset="0.8357" stop-color="#0f0011"/><stop offset="0.8429" stop-color="#0e0010"/><stop offset="0.8500" stop-color="#0e0010"/><stop offset="0.8571" stop-color="#0d000f"/><stop offset="0.8643" stop-color="#0d000f"/><stop offset="0.8714" stop-color="#0d000e"/><stop offset="0.8786" stop-color="#0d000e"/><stop offset="0.8857" stop-color="#0c000e"/><stop offset="0.8929" stop-color="#0c000d"/><stop offset="0.9000" stop-color="#0c000d"/><stop offset="0.9071" stop-color="#0b000d"/><stop offset="0.9143" stop-color="#0b000d"/><stop offset="0.9214" stop-color="#0b000c"/><stop offset="0.9286" stop-color="#0b000c"/><stop offset="0.9357" stop-color="#0a000c"/><stop offset="0.9500" stop-color="#0a000c"/><stop offset="0.9571" stop-color="#0a000b"/><stop offset="0.9714" stop-color="#0a000b"/><stop offset="0.9786" stop-color="#09000a"/><stop offset="1.0000" stop-color="#09000a"/></linearGradient>
<linearGradient id="r33" gradientUnits="userSpaceOnUse" x1="103.5" x2="576.1" y1="0" y2="0"><stop offset="0.0000" stop-color="#000"/><stop offset="0.6250" stop-color="#000"/><stop offset="0.6264" stop-color="#030003"/><stop offset="0.7429" stop-color="#030003"/><stop offset="0.7500" stop-color="#020003"/><stop offset="0.8143" stop-color="#020003"/><stop offset="0.8214" stop-color="#020002"/><stop offset="0.9214" stop-color="#020002"/><stop offset="0.9286" stop-color="#010002"/><stop offset="0.9714" stop-color="#010002"/><stop offset="0.9786" stop-color="#010001"/><stop offset="1.0000" stop-color="#010001"/></linearGradient>
</defs>
<g clip-path="url(#c2)">
<rect x="102.5" y="556.0" width="474.6" height="385.70000000000005" fill="#000"/>
<rect x="103.5" y="601.00" width="472.6" height="11.75" fill="url(#r4)"/>
<rect x="103.5" y="612.25" width="472.6" height="11.75" fill="url(#r5)"/>
<rect x="103.5" y="623.51" width="472.6" height="11.75" fill="url(#r6)"/>
<rect x="103.5" y="634.76" width="472.6" height="11.75" fill="url(#r7)"/>
<rect x="103.5" y="646.01" width="472.6" height="11.75" fill="url(#r8)"/>
<rect x="103.5" y="657.27" width="472.6" height="11.75" fill="url(#r9)"/>
<rect x="103.5" y="668.52" width="472.6" height="11.75" fill="url(#r10)"/>
<rect x="103.5" y="679.78" width="472.6" height="11.75" fill="url(#r11)"/>
<rect x="103.5" y="691.03" width="472.6" height="11.75" fill="url(#r12)"/>
<rect x="103.5" y="702.28" width="472.6" height="11.75" fill="url(#r13)"/>
<rect x="103.5" y="713.54" width="472.6" height="11.75" fill="url(#r14)"/>
<rect x="103.5" y="724.79" width="472.6" height="11.75" fill="url(#r15)"/>
<rect x="103.5" y="736.05" width="472.6" height="11.75" fill="url(#r16)"/>
<rect x="103.5" y="747.30" width="472.6" height="11.75" fill="url(#r17)"/>
<rect x="103.5" y="758.55" width="472.6" height="11.75" fill="url(#r18)"/>
<rect x="103.5" y="769.81" width="472.6" height="11.75" fill="url(#r19)"/>
<rect x="103.5" y="781.06" width="472.6" height="11.75" fill="url(#r20)"/>
<rect x="103.5" y="792.31" width="472.6" height="11.75" fill="url(#r21)"/>
<rect x="103.5" y="803.57" width="472.6" height="11.75" fill="url(#r22)"/>
<rect x="103.5" y="814.82" width="472.6" height="11.75" fill="url(#r23)"/>
<rect x="103.5" y="826.08" width="472.6" height="11.75" fill="url(#r24)"/>
<rect x="103.5" y="837.33" width="472.6" height="11.75" fill="url(#r25)"/>
<rect x="103.5" y="848.58" width="472.6" height="11.75" fill="url(#r26)"/>
<rect x="103.5" y="859.84" width="472.6" height="11.75" fill="url(#r27)"/>
<rect x="103.5" y="871.09" width="472.6" height="11.75" fill="url(#r28)"/>
<rect x="103.5" y="882.35" width="472.6" height="11.75" fill="url(#r29)"/>
<rect x="103.5" y="893.60" width="472.6" height="11.75" fill="url(#r30)"/>
<rect x="103.5" y="904.85" width="472.6" height="11.75" fill="url(#r31)"/>
<rect x="103.5" y="916.11" width="472.6" height="11.75" fill="url(#r32)"/>
<rect x="103.5" y="927.36" width="472.6" height="11.75" fill="url(#r33)"/>
<line x1="103.5" y1="557.0" x2="103.5" y2="940.7" stroke="#fff" stroke-opacity="0.2" stroke-width="1.0"/>
<line x1="120.4" y1="557.0" x2="120.4" y2="940.7" stroke="#fff" stroke-opacity="0.6" stroke-width="1.5"/>
<line x1="137.3" y1="557.0" x2="137.3" y2="940.7" stroke="#fff" stroke-opacity="0.2" stroke-width="1.0"/>
<line x1="154.1" y1="557.0" x2="154.1" y2="940.7" stroke="#fff" stroke-opacity="0.2" stroke-width="1.0"/>
<line x1="171.0" y1="557.0" x2="171.0" y2="940.7" stroke="#fff" stroke-opacity="0.2" stroke-width="1.0"/>
<line x1="187.9" y1="557.0" x2="187.9" y2="940.7" stroke="#fff" stroke-opacity="0.2" stroke-width="1.0"/>
<line x1="204.8" y1="557.0" x2="204.8" y2="940.7" stroke="#fff" stroke-opacity="0.6" stroke-width="1.5"/>
<line x1="221.7" y1="557.0" x2="221.7" y2="940.7" stroke="#fff" stroke-opacity="0.2" stroke-width="1.0"/>
<line x1="238.5" y1="557.0" x2="238.5" y2="940.7" stroke="#fff" stroke-opacity="0.2" stroke-width="1.0"/>
<line x1="255.4" y1="557.0" x2="255.4" y2="940.7" stroke="#fff" stroke-opacity="0.2" stroke-width="1.0"/>
<line x1="272.3" y1="557.0" x2="272.3" y2="940.7" stroke="#fff" stroke-opacity="0.2" stroke-width="1.0"/>
<line x1="289.2" y1="557.0" x2="289.2" y2="940.7" stroke="#fff" stroke-opacity="0.6" stroke-width="1.5"/>
<line x1="306.0" y1="557.0" x2="306.0" y2="940.7" stroke="#fff" stroke-opacity="0.2" stroke-width="1.0"/>
<line x1="322.9" y1="557.0" x2="322.9" y2="940.7" stroke="#fff" stroke-opacity="0.2" stroke-width="1.0"/>
<line x1="339.8" y1="557.0" x2="339.8" y2="940.7" stroke="#fff" stroke-opacity="0.2" stroke-width="1.0"/>
<line x1="356.7" y1="557.0" x2="356.7" y2="940.7" stroke="#fff" stroke-opacity="0.2" stroke-width="1.0"/>
<line x1="373.6" y1="557.0" x2="373.6" y2="940.7" stroke="#fff" stroke-opacity="0.6" stroke-width="1.5"/>
<line x1="390.4" y1="557.0" x2="390.4" y2="940.7" stroke="#fff" stroke-opacity="0.2" stroke-width="1.0"/>
<line x1="407.3" y1="557.0" x2="407.3" y2="940.7" stroke="#fff" stroke-opacity="0.2" stroke-width="1.0"/>
<line x1="424.2" y1="557.0" x2="424.2" y2="940.7" stroke="#fff" stroke-opacity="0.2" stroke-width="1.0"/>
<line x1="441.1" y1="557.0" x2="441.1" y2="940.7" stroke="#fff" stroke-opacity="0.2" stroke-width="1.0"/>
<line x1="458.0" y1="557.0" x2="458.0" y2="940.7" stroke="#fff" stroke-opacity="0.6" stroke-width="1.5"/>
<line x1="474.8" y1="557.0" x2="474.8" y2="940.7" stroke="#fff" stroke-opacity="0.2" stroke-width="1.0"/>
<line x1="491.7" y1="557.0" x2="491.7" y2="940.7" stroke="#fff" stroke-opacity="0.2" stroke-width="1.0"/>
<line x1="508.6" y1="557.0" x2="508.6" y2="940.7" stroke="#fff" stroke-opacity="0.2" stroke-width="1.0"/>
<line x1="525.5" y1="557.0" x2="525.5" y2="940.7" stroke="#fff" stroke-opacity="0.2" stroke-width="1.0"/>
<line x1="542.3" y1="557.0" x2="542.3" y2="940.7" stroke="#fff" stroke-opacity="0.6" stroke-width="1.5"/>
<line x1="559.2" y1="557.0" x2="559.2" y2="940.7" stroke="#fff" stroke-opacity="0.2" stroke-width="1.0"/>
<line x1="576.1" y1="557.0" x2="576.1" y2="940.7" stroke="#fff" stroke-opacity="0.2" stroke-width="1.0"/>
<line x1="103.5" y1="940.7" x2="576.1" y2="940.7" stroke="#fff" stroke-opacity="0.6" stroke-width="1.5"/>
<line x1="103.5" y1="921.5" x2="576.1" y2="921.5" stroke="#fff" stroke-opacity="0.2" stroke-width="1.0"/>
<line x1="103.5" y1="902.3" x2="576.1" y2="902.3" stroke="#fff" stroke-opacity="0.2" stroke-width="1.0"/>
<line x1="103.5" y1="883.1" x2="576.1" y2="883.1" stroke="#fff" stroke-opacity="0.2" stroke-width="1.0"/>
<line x1="103.5" y1="864.0" x2="576.1" y2="864.0" stroke="#fff" stroke-opacity="0.6" stroke-width="1.5"/>
<line x1="103.5" y1="844.8" x2="576.1" y2="844.8" stroke="#fff" stroke-opacity="0.2" stroke-width="1.0"/>
<line x1="103.5" y1="825.6" x2="576.1" y2="825.6" stroke="#fff" stroke-opacity="0.2" stroke-width="1.0"/>
<line x1="103.5" y1="806.4" x2="576.1" y2="806.4" stroke="#fff" stroke-opacity="0.2" stroke-width="1.0"/>
<line x1="103.5" y1="787.2" x2="576.1" y2="787.2" stroke="#fff" stroke-opacity="0.6" stroke-width="1.5"/>
<line x1="103.5" y1="768.0" x2="576.1" y2="768.0" stroke="#fff" stroke-opacity="0.2" stroke-width="1.0"/>
<line x1="103.5" y1="748.9" x2="576.1" y2="748.9" stroke="#fff" stroke-opacity="0.2" stroke-width="1.0"/>
<line x1="103.5" y1="729.7" x2="576.1" y2="729.7" stroke="#fff" stroke-opacity="0.2" stroke-width="1.0"/>
<line x1="103.5" y1="710.5" x2="576.1" y2="710.5" stroke="#fff" stroke-opacity="0.6" stroke-width="1.5"/>
<line x1="103.5" y1="691.3" x2="576.1" y2="691.3" stroke="#fff" stroke-opacity="0.2" stroke-width="1.0"/>
<line x1="103.5" y1="672.1" x2="576.1" y2="672.1" stroke="#fff" stroke-opacity="0.2" stroke-width="1.0"/>
<line x1="103.5" y1="652.9" x2="576.1" y2="652.9" stroke="#fff" stroke-opacity="0.2" stroke-width="1.0"/>
<line x1="103.5" y1="633.7" x2="576.1" y2="633.7" stroke="#fff" stroke-opacity="0.6" stroke-width="1.5"/>
<line x1="103.5" y1="614.6" x2="576.1" y2="614.6" stroke="#fff" stroke-opacity="0.2" stroke-width="1.0"/>
<line x1="103.5" y1="595.4" x2="576.1" y2="595.4" stroke="#fff" stroke-opacity="0.2" stroke-width="1.0"/>
<line x1="103.5" y1="576.2" x2="576.1" y2="576.2" stroke="#fff" stroke-opacity="0.2" stroke-width="1.0"/>
<line x1="103.5" y1="557.0" x2="576.1" y2="557.0" stroke="#fff" stroke-opacity="0.6" stroke-width="1.5"/>
<path d="M297.9 556 L246.8 941" stroke="#ff0000" stroke-width="2.6" fill="none"/>
<path d="M384.8 556 L410.3 941" stroke="#008000" stroke-width="2.6" fill="none"/>
</g>
<rect x="103.5" y="557.0" width="472.6" height="383.70000000000005" fill="none" stroke="#000" stroke-width="1.6"/>
<line x1="120.4" y1="940.7" x2="120.4" y2="947.2" stroke="#000" stroke-width="1.4"/>
<text x="120.9" y="972.0" font-size="24.7" fill="#000" text-anchor="middle">12.5</text>
<line x1="137.3" y1="940.7" x2="137.3" y2="943.7" stroke="#000" stroke-width="1.0"/>
<line x1="154.1" y1="940.7" x2="154.1" y2="943.7" stroke="#000" stroke-width="1.0"/>
<line x1="171.0" y1="940.7" x2="171.0" y2="943.7" stroke="#000" stroke-width="1.0"/>
<line x1="187.9" y1="940.7" x2="187.9" y2="943.7" stroke="#000" stroke-width="1.0"/>
<line x1="204.8" y1="940.7" x2="204.8" y2="947.2" stroke="#000" stroke-width="1.4"/>
<text x="205.3" y="972.0" font-size="24.7" fill="#000" text-anchor="middle">15.0</text>
<line x1="221.7" y1="940.7" x2="221.7" y2="943.7" stroke="#000" stroke-width="1.0"/>
<line x1="238.5" y1="940.7" x2="238.5" y2="943.7" stroke="#000" stroke-width="1.0"/>
<line x1="255.4" y1="940.7" x2="255.4" y2="943.7" stroke="#000" stroke-width="1.0"/>
<line x1="272.3" y1="940.7" x2="272.3" y2="943.7" stroke="#000" stroke-width="1.0"/>
<line x1="289.2" y1="940.7" x2="289.2" y2="947.2" stroke="#000" stroke-width="1.4"/>
<text x="289.7" y="972.0" font-size="24.7" fill="#000" text-anchor="middle">17.5</text>
<line x1="306.0" y1="940.7" x2="306.0" y2="943.7" stroke="#000" stroke-width="1.0"/>
<line x1="322.9" y1="940.7" x2="322.9" y2="943.7" stroke="#000" stroke-width="1.0"/>
<line x1="339.8" y1="940.7" x2="339.8" y2="943.7" stroke="#000" stroke-width="1.0"/>
<line x1="356.7" y1="940.7" x2="356.7" y2="943.7" stroke="#000" stroke-width="1.0"/>
<line x1="373.6" y1="940.7" x2="373.6" y2="947.2" stroke="#000" stroke-width="1.4"/>
<text x="374.1" y="972.0" font-size="24.7" fill="#000" text-anchor="middle">20.0</text>
<line x1="390.4" y1="940.7" x2="390.4" y2="943.7" stroke="#000" stroke-width="1.0"/>
<line x1="407.3" y1="940.7" x2="407.3" y2="943.7" stroke="#000" stroke-width="1.0"/>
<line x1="424.2" y1="940.7" x2="424.2" y2="943.7" stroke="#000" stroke-width="1.0"/>
<line x1="441.1" y1="940.7" x2="441.1" y2="943.7" stroke="#000" stroke-width="1.0"/>
<line x1="458.0" y1="940.7" x2="458.0" y2="947.2" stroke="#000" stroke-width="1.4"/>
<text x="458.5" y="972.0" font-size="24.7" fill="#000" text-anchor="middle">22.5</text>
<line x1="474.8" y1="940.7" x2="474.8" y2="943.7" stroke="#000" stroke-width="1.0"/>
<line x1="491.7" y1="940.7" x2="491.7" y2="943.7" stroke="#000" stroke-width="1.0"/>
<line x1="508.6" y1="940.7" x2="508.6" y2="943.7" stroke="#000" stroke-width="1.0"/>
<line x1="525.5" y1="940.7" x2="525.5" y2="943.7" stroke="#000" stroke-width="1.0"/>
<line x1="542.3" y1="940.7" x2="542.3" y2="947.2" stroke="#000" stroke-width="1.4"/>
<text x="542.8" y="972.0" font-size="24.7" fill="#000" text-anchor="middle">25.0</text>
<line x1="559.2" y1="940.7" x2="559.2" y2="943.7" stroke="#000" stroke-width="1.0"/>
<line x1="576.1" y1="940.7" x2="576.1" y2="943.7" stroke="#000" stroke-width="1.0"/>
<line x1="103.5" y1="940.7" x2="97.0" y2="940.7" stroke="#000" stroke-width="1.4"/>
<text x="92.2" y="950.3" font-size="24.7" fill="#000" text-anchor="end">512</text>
<line x1="103.5" y1="921.5" x2="100.5" y2="921.5" stroke="#000" stroke-width="1.0"/>
<line x1="103.5" y1="902.3" x2="100.5" y2="902.3" stroke="#000" stroke-width="1.0"/>
<line x1="103.5" y1="883.1" x2="100.5" y2="883.1" stroke="#000" stroke-width="1.0"/>
<line x1="103.5" y1="864.0" x2="97.0" y2="864.0" stroke="#000" stroke-width="1.4"/>
<text x="92.2" y="873.6" font-size="24.7" fill="#000" text-anchor="end">514</text>
<line x1="103.5" y1="844.8" x2="100.5" y2="844.8" stroke="#000" stroke-width="1.0"/>
<line x1="103.5" y1="825.6" x2="100.5" y2="825.6" stroke="#000" stroke-width="1.0"/>
<line x1="103.5" y1="806.4" x2="100.5" y2="806.4" stroke="#000" stroke-width="1.0"/>
<line x1="103.5" y1="787.2" x2="97.0" y2="787.2" stroke="#000" stroke-width="1.4"/>
<text x="92.2" y="796.8" font-size="24.7" fill="#000" text-anchor="end">516</text>
<line x1="103.5" y1="768.0" x2="100.5" y2="768.0" stroke="#000" stroke-width="1.0"/>
<line x1="103.5" y1="748.9" x2="100.5" y2="748.9" stroke="#000" stroke-width="1.0"/>
<line x1="103.5" y1="729.7" x2="100.5" y2="729.7" stroke="#000" stroke-width="1.0"/>
<line x1="103.5" y1="710.5" x2="97.0" y2="710.5" stroke="#000" stroke-width="1.4"/>
<text x="92.2" y="720.1" font-size="24.7" fill="#000" text-anchor="end">518</text>
<line x1="103.5" y1="691.3" x2="100.5" y2="691.3" stroke="#000" stroke-width="1.0"/>
<line x1="103.5" y1="672.1" x2="100.5" y2="672.1" stroke="#000" stroke-width="1.0"/>
<line x1="103.5" y1="652.9" x2="100.5" y2="652.9" stroke="#000" stroke-width="1.0"/>
<line x1="103.5" y1="633.7" x2="97.0" y2="633.7" stroke="#000" stroke-width="1.4"/>
<text x="92.2" y="643.3" font-size="24.7" fill="#000" text-anchor="end">520</text>
<line x1="103.5" y1="614.6" x2="100.5" y2="614.6" stroke="#000" stroke-width="1.0"/>
<line x1="103.5" y1="595.4" x2="100.5" y2="595.4" stroke="#000" stroke-width="1.0"/>
<line x1="103.5" y1="576.2" x2="100.5" y2="576.2" stroke="#000" stroke-width="1.0"/>
<line x1="103.5" y1="557.0" x2="97.0" y2="557.0" stroke="#000" stroke-width="1.4"/>
<text x="92.2" y="566.6" font-size="24.7" fill="#000" text-anchor="end">522</text>
<text x="340.2" y="1002.5" font-size="24.7" fill="#000" text-anchor="middle">Angle of incidence /°</text>
<text transform="translate(31.6,749.3) rotate(-90)" font-size="24.7" fill="#000" text-anchor="middle">Wavelength /nm</text>
<defs><linearGradient id="cb" x1="0" x2="0" y1="1" y2="0">
<stop offset="0.00" stop-color="#000"/>
<stop offset="0.01" stop-color="#160019"/>
<stop offset="0.02" stop-color="#2c0032"/>
<stop offset="0.03" stop-color="#41004b"/>
<stop offset="0.04" stop-color="#570064"/>
<stop offset="0.05" stop-color="#6d007c"/>
<stop offset="0.06" stop-color="#79008a"/>
<stop offset="0.07" stop-color="#7c008d"/>
<stop offset="0.08" stop-color="#7f0090"/>
<stop offset="0.09" stop-color="#820093"/>
<stop offset="0.10" stop-color="#850096"/>
<stop offset="0.11" stop-color="#860099"/>
<stop offset="0.12" stop-color="#6d009c"/>
<stop offset="0.13" stop-color="#54009f"/>
<stop offset="0.14" stop-color="#3c00a3"/>
<stop offset="0.15" stop-color="#2300a6"/>
<stop offset="0.16" stop-color="#0a00a9"/>
<stop offset="0.17" stop-color="#0000b0"/>
<stop offset="0.18" stop-color="#0000b9"/>
<stop offset="0.19" stop-color="#0000c2"/>
<stop offset="0.20" stop-color="#00c"/>
<stop offset="0.21" stop-color="#0000d5"/>
<stop offset="0.22" stop-color="#0003dd"/>
<stop offset="0.23" stop-color="#0019dd"/>
<stop offset="0.24" stop-color="#002fdd"/>
<stop offset="0.25" stop-color="#04d"/>
<stop offset="0.26" stop-color="#005add"/>
<stop offset="0.27" stop-color="#0070dd"/>
<stop offset="0.28" stop-color="#007bdd"/>
<stop offset="0.29" stop-color="#0081dd"/>
<stop offset="0.30" stop-color="#08d"/>
<stop offset="0.31" stop-color="#008edd"/>
<stop offset="0.32" stop-color="#0094dd"/>
<stop offset="0.33" stop-color="#009adb"/>
<stop offset="0.34" stop-color="#009dd2"/>
<stop offset="0.35" stop-color="#00a0c8"/>
<stop offset="0.36" stop-color="#00a3bf"/>
<stop offset="0.37" stop-color="#00a6b6"/>
<stop offset="0.38" stop-color="#00a9ac"/>
<stop offset="0.39" stop-color="#00aaa5"/>
<stop offset="0.40" stop-color="#00aa9f"/>
<stop offset="0.41" stop-color="#0a9"/>
<stop offset="0.42" stop-color="#00aa93"/>
<stop offset="0.43" stop-color="#00aa8c"/>
<stop offset="0.44" stop-color="#00a981"/>
<stop offset="0.45" stop-color="#00a668"/>
<stop offset="0.46" stop-color="#00a34f"/>
<stop offset="0.47" stop-color="#00a036"/>
<stop offset="0.48" stop-color="#009d1d"/>
<stop offset="0.49" stop-color="#009a04"/>
<stop offset="0.50" stop-color="#009e00"/>
<stop offset="0.51" stop-color="#00a400"/>
<stop offset="0.52" stop-color="#00ab00"/>
<stop offset="0.53" stop-color="#00b100"/>
<stop offset="0.54" stop-color="#00b700"/>
<stop offset="0.55" stop-color="#00bd00"/>
<stop offset="0.56" stop-color="#00c300"/>
<stop offset="0.57" stop-color="#00ca00"/>
<stop offset="0.58" stop-color="#00d000"/>
<stop offset="0.59" stop-color="#00d600"/>
<stop offset="0.60" stop-color="#00dc00"/>
<stop offset="0.61" stop-color="#00e300"/>
<stop offset="0.62" stop-color="#00e900"/>
<stop offset="0.63" stop-color="#00ef00"/>
<stop offset="0.64" stop-color="#00f500"/>
<stop offset="0.65" stop-color="#00fb00"/>
<stop offset="0.66" stop-color="#0fff00"/>
<stop offset="0.67" stop-color="#31ff00"/>
<stop offset="0.68" stop-color="#53ff00"/>
<stop offset="0.69" stop-color="#75ff00"/>
<stop offset="0.70" stop-color="#97ff00"/>
<stop offset="0.71" stop-color="#baff00"/>
<stop offset="0.72" stop-color="#c4fc00"/>
<stop offset="0.73" stop-color="#cdf900"/>
<stop offset="0.74" stop-color="#d7f600"/>
<stop offset="0.75" stop-color="#e0f300"/>
<stop offset="0.76" stop-color="#e9f000"/>
<stop offset="0.77" stop-color="#f0eb00"/>
<stop offset="0.78" stop-color="#f3e500"/>
<stop offset="0.79" stop-color="#f6de00"/>
<stop offset="0.80" stop-color="#f9d800"/>
<stop offset="0.81" stop-color="#fcd200"/>
<stop offset="0.82" stop-color="#fc0"/>
<stop offset="0.83" stop-color="#ffc200"/>
<stop offset="0.84" stop-color="#ffb900"/>
<stop offset="0.85" stop-color="#ffb000"/>
<stop offset="0.86" stop-color="#ffa600"/>
<stop offset="0.87" stop-color="#ff9d00"/>
<stop offset="0.88" stop-color="#ff8900"/>
<stop offset="0.89" stop-color="#ff6d00"/>
<stop offset="0.90" stop-color="#ff5100"/>
<stop offset="0.91" stop-color="#ff3500"/>
<stop offset="0.92" stop-color="#ff1900"/>
<stop offset="0.93" stop-color="#fe0000"/>
<stop offset="0.94" stop-color="#f80000"/>
<stop offset="0.95" stop-color="#f20000"/>
<stop offset="0.96" stop-color="#ec0000"/>
<stop offset="0.97" stop-color="#e50000"/>
<stop offset="0.98" stop-color="#df0000"/>
<stop offset="0.99" stop-color="#db0000"/>
<stop offset="1.00" stop-color="#d80000"/>
</linearGradient></defs>
<rect x="606.3" y="557.0" width="18.800000000000068" height="383.6" fill="url(#cb)" stroke="#000" stroke-width="1.6"/>
<line x1="625.1" y1="940.6" x2="631.6" y2="940.6" stroke="#000" stroke-width="1.4"/>
<text x="637.6" y="950.2" font-size="24.7" fill="#000" text-anchor="start">0.0</text>
<line x1="625.1" y1="863.9" x2="631.6" y2="863.9" stroke="#000" stroke-width="1.4"/>
<text x="637.6" y="873.5" font-size="24.7" fill="#000" text-anchor="start">0.2</text>
<line x1="625.1" y1="787.2" x2="631.6" y2="787.2" stroke="#000" stroke-width="1.4"/>
<text x="637.6" y="796.8" font-size="24.7" fill="#000" text-anchor="start">0.4</text>
<line x1="625.1" y1="710.4" x2="631.6" y2="710.4" stroke="#000" stroke-width="1.4"/>
<text x="637.6" y="720.0" font-size="24.7" fill="#000" text-anchor="start">0.6</text>
<line x1="625.1" y1="633.7" x2="631.6" y2="633.7" stroke="#000" stroke-width="1.4"/>
<text x="637.6" y="643.3" font-size="24.7" fill="#000" text-anchor="start">0.8</text>
<line x1="625.1" y1="557.0" x2="631.6" y2="557.0" stroke="#000" stroke-width="1.4"/>
<text x="637.6" y="566.6" font-size="24.7" fill="#000" text-anchor="start">1.0</text>
<text transform="translate(701.6,750.2) rotate(-90)" font-size="24.7" fill="#000" text-anchor="middle">Normalized intensity</text>
</svg>
</body></html>
